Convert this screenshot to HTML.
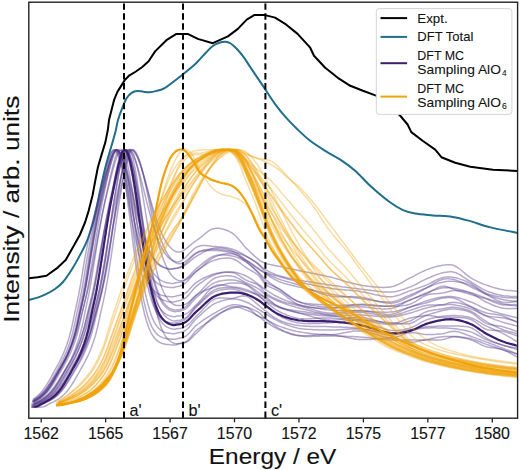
<!DOCTYPE html>
<html><head><meta charset="utf-8"><style>
html,body{margin:0;padding:0;background:#fff;width:520px;height:470px;overflow:hidden}
svg{display:block;font-family:"Liberation Sans",sans-serif;fill:#111}
text{fill:#111;stroke:#111;stroke-width:0.12px}
.lg text{stroke-width:0.08px}
</style></head><body>
<svg width="520" height="470" viewBox="0 0 520 470">
<rect width="520" height="470" fill="#fff"/>
<defs><clipPath id="ax"><rect x="28.8" y="2.2" width="488.8" height="416.0"/></clipPath></defs>
<g clip-path="url(#ax)">
<path d="M28.9,278.2 37.6,277.2 46.4,275.7 57.7,267.6 65.7,260.1 72.8,247.5 79.8,235 85.2,222 88.7,210.6 92.6,195.3 95.4,180 97.9,167.2 101.6,154.6 105.4,142.1 107.9,129.5 109,120 111.6,109.8 114.2,99.6 117.4,91.9 121.8,84.9 125,79.8 129.5,75.3 135.9,71.5 142.3,67 148.6,61.3 155.1,51.4 166.4,40.2 176.4,33.9 187.7,33.9 197.8,38.9 212.8,43.2 227.9,36.4 237.9,28.9 246.7,19.6 254.2,15.1 265,15.1 275.1,17.6 285.1,23.8 297.6,33.9 310.2,47.7 314,55.7 325.2,67.8 337.8,77.8 350.3,85.8 362.9,90.8 376.7,95.9 390,104 401.3,117 407.6,124.5 411.3,132.1 422.6,140.8 435.2,149.6 441.4,157.2 455.2,162.7 470.3,166.7 492.9,169.7 517.5,171" stroke="#000" stroke-width="2" fill="none" stroke-linejoin="round"/>
<path d="M28.90,300.00 C30.35,299.60 34.75,298.57 37.60,297.60 C40.45,296.63 43.10,295.63 46.00,294.20 C48.90,292.77 52.17,291.03 55.00,289.00 C57.83,286.97 60.25,285.17 63.00,282.00 C65.75,278.83 68.80,274.23 71.50,270.00 C74.20,265.77 76.65,261.38 79.20,256.60 C81.75,251.82 84.57,246.73 86.80,241.30 C89.03,235.87 91.00,229.43 92.60,224.00 C94.20,218.57 95.10,214.53 96.40,208.70 C97.70,202.87 98.90,195.92 100.40,189.00 C101.90,182.08 103.73,173.77 105.40,167.20 C107.07,160.63 108.73,155.45 110.40,149.60 C112.07,143.75 114.13,137.03 115.40,132.10 C116.67,127.17 116.82,124.13 118.00,120.00 C119.18,115.87 121.02,111.02 122.50,107.30 C123.98,103.58 125.32,100.15 126.90,97.70 C128.48,95.25 130.30,93.73 132.00,92.60 C133.70,91.47 135.18,91.05 137.10,90.90 C139.02,90.75 141.37,91.48 143.50,91.70 C145.63,91.92 147.77,92.33 149.90,92.20 C152.03,92.07 153.77,91.63 156.30,90.90 C158.83,90.17 160.70,90.53 165.10,87.80 C169.50,85.07 177.72,78.42 182.70,74.50 C187.68,70.58 191.60,67.45 195.00,64.30 C198.40,61.15 200.18,58.62 203.10,55.60 C206.02,52.58 209.82,48.33 212.50,46.20 C215.18,44.07 217.07,43.53 219.20,42.80 C221.33,42.07 223.38,41.68 225.30,41.80 C227.22,41.92 228.80,42.33 230.70,43.50 C232.60,44.67 234.57,46.57 236.70,48.80 C238.83,51.03 241.25,53.87 243.50,56.90 C245.75,59.93 247.95,63.63 250.20,67.00 C252.45,70.37 254.65,73.62 257.00,77.10 C259.35,80.58 261.28,83.40 264.30,87.90 C267.32,92.40 271.43,99.10 275.10,104.10 C278.77,109.10 282.55,113.67 286.30,117.90 C290.05,122.13 293.62,125.68 297.60,129.50 C301.58,133.32 305.60,137.23 310.20,140.80 C314.80,144.37 320.18,147.75 325.20,150.90 C330.22,154.05 335.27,156.35 340.30,159.70 C345.33,163.05 350.38,166.62 355.40,171.00 C360.42,175.38 364.63,180.78 370.40,186.00 C376.17,191.22 384.65,198.33 390.00,202.30 C395.35,206.27 398.32,207.92 402.50,209.80 C406.68,211.68 410.07,212.67 415.10,213.60 C420.13,214.53 426.43,214.85 432.70,215.40 C438.97,215.95 446.43,215.95 452.70,216.90 C458.97,217.85 464.02,219.35 470.30,221.10 C476.58,222.85 482.53,225.43 490.40,227.40 C498.27,229.37 512.98,231.98 517.50,232.90" stroke="#1f6e8c" stroke-width="2" fill="none"/>
<path d="M32.4,407 34.4,406.8 36.4,406.3 38.4,405.3 40.4,404.1 42.4,403.1 44.4,402.2 46.4,401.2 48.4,400.1 50.4,398.9 52.4,397.5 54.4,395.9 56.4,394 58.4,391.9 60.4,389.6 62.4,386.9 64.4,383.9 66.4,380.7 68.4,377.4 70.4,374 72.4,370.5 74.4,367.1 76.4,363.6 78.4,360 80.4,356.1 82.4,351.7 84.4,346.8 86.4,341.5 88.4,335.4 90.4,328.3 92.4,319.8 94.4,311.1 96.4,302.7 98.4,294 100.4,284.1 102.4,272.7 104.4,260.8 106.4,249.1 108.4,237.4 110.4,226.2 112.4,215.6 114.4,205.6 116.4,196.6 118.4,187.9 120.4,179.2 122.4,171 124.4,163.5 126.4,156.7 128.4,151.8 130.4,149.7 132.4,150.2 134.4,152.1 136.4,155.3 138.4,159.6 140.4,164.9 142.4,171 144.4,177.7 146.4,184.8 148.4,192.1 150.4,199.4 152.4,206.5 154.4,213.2 156.4,219.5 158.4,225.3 160.4,230.4 162.4,235 164.4,239 166.4,242.4 168.4,245.3 170.4,247.6 172.4,249.5 174.4,250.9 176.4,251.7 178.4,252 180.4,251.7 182.4,251.1 184.4,249.9 186.4,248.4 188.4,246.8 190.4,245.1 192.4,243.5 194.4,241.9 196.4,240.5 198.4,239.1 200.4,237.6 202.4,236 204.4,234.3 206.4,232.6 208.4,231.1 210.4,229.9 212.4,229 214.4,228.5 216.4,228.2 218.4,228.3 220.4,228.5 222.4,228.9 224.4,229.5 226.4,230.2 228.4,231 230.4,232.1 232.4,233.2 234.4,234.8 236.4,236.7 238.4,238.9 240.4,241.3 242.4,243.8 244.4,246.2 246.4,248.4 248.4,250.3 250.4,252.3 252.4,254.1 254.4,255.9 256.4,257.7 258.4,259.3 260.4,260.8 262.4,262 264.4,262.9 266.4,263.6 268.4,264.2 270.4,264.6 272.4,265 274.4,265.4 276.4,265.8 278.4,266.2 280.4,266.6 282.4,267 284.4,267.4 286.4,267.9 288.4,268.3 290.4,268.7 292.4,269.2 294.4,269.6 296.4,270 298.4,270.5 300.4,270.9 302.4,271.3 304.4,271.7 306.4,272.1 308.4,272.5 310.4,272.9 312.4,273.3 314.4,273.7 316.4,274.1 318.4,274.5 320.4,274.9 322.4,275.3 324.4,275.7 326.4,276.2 328.4,276.6 330.4,277.1 332.4,277.6 334.4,278.1 336.4,278.7 338.4,279.3 340.4,279.9 342.4,280.5 344.4,281.1 346.4,281.7 348.4,282.2 350.4,282.8 352.4,283.3 354.4,283.8 356.4,284.3 358.4,284.7 360.4,285.1 362.4,285.4 364.4,285.7 366.4,286 368.4,286.3 370.4,286.5 372.4,286.7 374.4,286.9 376.4,287.1 378.4,287.3 380.4,287.3 382.4,287.4 384.4,287.4 386.4,287.3 388.4,287.2 390.4,286.9 392.4,286.6 394.4,286 396.4,285.3 398.4,284.4 400.4,283.4 402.4,282.3 404.4,281.1 406.4,279.9 408.4,278.8 410.4,277.8 412.4,276.8 414.4,275.8 416.4,274.7 418.4,273.7 420.4,272.6 422.4,271.6 424.4,270.7 426.4,269.9 428.4,269.1 430.4,268.4 432.4,267.7 434.4,267.1 436.4,266.6 438.4,266.1 440.4,265.7 442.4,265.3 444.4,265.1 446.4,264.8 448.4,264.7 450.4,264.8 452.4,265.1 454.4,265.8 456.4,266.7 458.4,268 460.4,269.5 462.4,271.2 464.4,272.9 466.4,274.6 468.4,276.1 470.4,277.6 472.4,278.8 474.4,279.9 476.4,280.9 478.4,281.9 480.4,282.8 482.4,283.6 484.4,284.4 486.4,285.1 488.4,285.8 490.4,286.5 492.4,287.1 494.4,287.7 496.4,288.2 498.4,288.7 500.4,289.2 502.4,289.6 504.4,289.9 506.4,290.2 508.4,290.4 510.4,290.6 512.4,290.8 514.4,291 516.4,291.2 517.6,291.3" stroke="#4f3585" stroke-opacity="0.42" stroke-width="1.5" fill="none"/>
<path d="M33.8,403.7 35.8,402.8 37.8,401.8 39.8,400.8 41.8,399.7 43.8,398.4 45.8,396.9 47.8,395.3 49.8,393.4 51.8,391.3 53.8,388.8 55.8,386.1 57.8,383.1 59.8,379.9 61.8,376.7 63.8,373.3 65.8,369.9 67.8,366.6 69.8,363.2 71.8,359.6 73.8,355.7 75.8,351.4 77.8,346.6 79.8,341.4 81.8,335.5 83.8,328.6 85.8,320.5 87.8,312.1 89.8,304 91.8,295.7 93.8,286.4 95.8,275.6 97.8,264.1 99.8,253.1 101.8,242.4 103.8,232 105.8,222.3 107.8,213.1 109.8,204.4 111.8,196.4 113.8,188.8 115.8,181.1 117.8,173.8 119.8,166.9 121.8,160.5 123.8,154.9 125.8,151.1 127.8,149.6 129.8,150.6 131.8,153 133.8,156.8 135.8,161.8 137.8,167.9 139.8,174.8 141.8,182.3 143.8,190.2 145.8,198.2 147.8,206.1 149.8,213.8 151.8,221 153.8,227.7 155.8,233.8 157.8,239.3 159.8,244 161.8,248.1 163.8,251.6 165.8,254.5 167.8,256.9 169.8,258.8 171.8,260.2 173.8,261.2 175.8,261.8 177.8,261.9 179.8,261.5 181.8,260.4 183.8,259 185.8,257.2 187.8,255.1 189.8,253 191.8,251 193.8,249.2 195.8,247.7 197.8,246.7 199.8,246 201.8,245.6 203.8,245.4 205.8,245.5 207.8,245.7 209.8,246 211.8,246.3 213.8,246.5 215.8,246.6 217.8,246.8 219.8,246.9 221.8,247.1 223.8,247.4 225.8,247.6 227.8,248 229.8,248.4 231.8,248.9 233.8,249.6 235.8,250.4 237.8,251.3 239.8,252.4 241.8,253.5 243.8,254.7 245.8,255.9 247.8,257.1 249.8,258.3 251.8,259.7 253.8,261 255.8,262.4 257.8,263.8 259.8,265.3 261.8,267 263.8,268.6 265.8,269.9 267.8,270.9 269.8,272 271.8,272.9 273.8,273.8 275.8,274.6 277.8,275.3 279.8,275.9 281.8,276.5 283.8,277 285.8,277.5 287.8,278 289.8,278.4 291.8,278.8 293.8,279.2 295.8,279.5 297.8,279.9 299.8,280.3 301.8,280.6 303.8,281 305.8,281.3 307.8,281.6 309.8,281.9 311.8,282.3 313.8,282.6 315.8,282.9 317.8,283.2 319.8,283.5 321.8,283.8 323.8,284.1 325.8,284.4 327.8,284.7 329.8,285 331.8,285.3 333.8,285.5 335.8,285.8 337.8,286.1 339.8,286.4 341.8,286.7 343.8,286.9 345.8,287.2 347.8,287.5 349.8,287.7 351.8,288 353.8,288.2 355.8,288.5 357.8,288.7 359.8,289 361.8,289.2 363.8,289.5 365.8,289.7 367.8,290 369.8,290.3 371.8,290.6 373.8,290.8 375.8,291.1 377.8,291.3 379.8,291.5 381.8,291.7 383.8,291.9 385.8,292 387.8,292 389.8,292 391.8,291.9 393.8,291.7 395.8,291.4 397.8,291 399.8,290.5 401.8,289.9 403.8,289.3 405.8,288.6 407.8,287.8 409.8,287.1 411.8,286.3 413.8,285.4 415.8,284.4 417.8,283.3 419.8,282.2 421.8,281.1 423.8,280.1 425.8,279.1 427.8,278.2 429.8,277.4 431.8,276.5 433.8,275.7 435.8,274.9 437.8,274.2 439.8,273.6 441.8,273.1 443.8,272.6 445.8,272.2 447.8,271.9 449.8,271.7 451.8,271.8 453.8,272.2 455.8,272.8 457.8,273.7 459.8,274.7 461.8,276 463.8,277.3 465.8,278.6 467.8,280 469.8,281.2 471.8,282.5 473.8,283.7 475.8,284.9 477.8,286.2 479.8,287.4 481.8,288.6 483.8,289.6 485.8,290.6 487.8,291.4 489.8,292.2 491.8,292.8 493.8,293.5 495.8,294 497.8,294.5 499.8,294.9 501.8,295.4 503.8,295.7 505.8,295.9 507.8,296.1 509.8,296.3 511.8,296.4 513.8,296.5 515.8,296.6 517.6,296.7" stroke="#4f3585" stroke-opacity="0.42" stroke-width="1.5" fill="none"/>
<path d="M32.5,401.3 34.5,400.2 36.5,399 38.5,397.6 40.5,396 42.5,394.2 44.5,392.2 46.5,389.8 48.5,387.1 50.5,384.1 52.5,381 54.5,377.6 56.5,374.2 58.5,370.7 60.5,367.3 62.5,363.8 64.5,360.2 66.5,356.2 68.5,351.8 70.5,346.9 72.5,341.5 74.5,335.4 76.5,328.2 78.5,319.6 80.5,310.8 82.5,302.3 84.5,293.5 86.5,283.4 88.5,271.8 90.5,259.8 92.5,247.7 94.5,235.7 96.5,224.2 98.5,213.2 100.5,203 102.5,193.8 104.5,184.6 106.5,175.6 108.5,167.4 110.5,159.8 112.5,153.7 114.5,150.3 116.5,149.8 118.5,151.4 120.5,154.6 122.5,159.2 124.5,165 126.5,171.8 128.5,179.4 130.5,187.5 132.5,195.9 134.5,204.3 136.5,212.6 138.5,220.5 140.5,227.8 142.5,234.6 144.5,240.7 146.5,246 148.5,250.6 150.5,254.6 152.5,257.9 154.5,260.6 156.5,262.8 158.5,264.6 160.5,266 162.5,267 164.5,267.9 166.5,268.5 168.5,268.9 170.5,269.2 172.5,268.9 174.5,268.5 176.5,268.2 178.5,267.7 180.5,267 182.5,265.8 184.5,264.3 186.5,262.5 188.5,260.5 190.5,258.4 192.5,256.4 194.5,254.7 196.5,253.3 198.5,252.3 200.5,251.6 202.5,251 204.5,250.7 206.5,250.5 208.5,250.4 210.5,250.4 212.5,250.5 214.5,250.5 216.5,250.6 218.5,250.7 220.5,250.8 222.5,251.1 224.5,251.4 226.5,251.7 228.5,252.1 230.5,252.6 232.5,253.2 234.5,253.9 236.5,254.7 238.5,255.7 240.5,256.8 242.5,258 244.5,259.1 246.5,260.3 248.5,261.5 250.5,262.8 252.5,264.2 254.5,265.6 256.5,267 258.5,268.4 260.5,269.9 262.5,271.5 264.5,273 266.5,274.3 268.5,275.7 270.5,277 272.5,278.2 274.5,279.4 276.5,280.4 278.5,281.4 280.5,282.2 282.5,282.9 284.5,283.5 286.5,284.1 288.5,284.6 290.5,285 292.5,285.5 294.5,285.9 296.5,286.4 298.5,286.9 300.5,287.3 302.5,287.8 304.5,288.3 306.5,288.8 308.5,289.3 310.5,289.7 312.5,290.2 314.5,290.7 316.5,291.1 318.5,291.6 320.5,292 322.5,292.5 324.5,292.9 326.5,293.3 328.5,293.7 330.5,294.1 332.5,294.5 334.5,294.8 336.5,295.1 338.5,295.5 340.5,295.8 342.5,296.1 344.5,296.4 346.5,296.7 348.5,297 350.5,297.2 352.5,297.5 354.5,297.8 356.5,298 358.5,298.3 360.5,298.6 362.5,298.9 364.5,299.2 366.5,299.5 368.5,299.8 370.5,300.2 372.5,300.5 374.5,300.8 376.5,301.1 378.5,301.4 380.5,301.6 382.5,301.8 384.5,302 386.5,302.1 388.5,302 390.5,301.9 392.5,301.7 394.5,301.3 396.5,300.8 398.5,300.1 400.5,299.3 402.5,298.4 404.5,297.5 406.5,296.5 408.5,295.6 410.5,294.8 412.5,294 414.5,293.1 416.5,292.2 418.5,291.3 420.5,290.4 422.5,289.5 424.5,288.6 426.5,287.8 428.5,287 430.5,286.2 432.5,285.4 434.5,284.6 436.5,283.9 438.5,283.3 440.5,282.7 442.5,282.2 444.5,281.8 446.5,281.5 448.5,281.3 450.5,281.2 452.5,281.3 454.5,281.5 456.5,281.7 458.5,282 460.5,282.3 462.5,282.7 464.5,283.2 466.5,283.8 468.5,284.4 470.5,285.1 472.5,286 474.5,287.1 476.5,288.3 478.5,289.6 480.5,290.9 482.5,292.1 484.5,293.3 486.5,294.2 488.5,295.1 490.5,295.9 492.5,296.6 494.5,297.3 496.5,297.9 498.5,298.5 500.5,299 502.5,299.5 504.5,299.9 506.5,300.2 508.5,300.5 510.5,300.7 512.5,300.9 514.5,301.1 516.5,301.3 517.6,301.4" stroke="#4f3585" stroke-opacity="0.42" stroke-width="1.5" fill="none"/>
<path d="M31.6,407.2 33.6,407.1 35.6,406.9 37.6,406.6 39.6,405.9 41.6,404.7 43.6,403.7 45.6,402.7 47.6,401.7 49.6,400.7 51.6,399.6 53.6,398.3 55.6,396.8 57.6,395.1 59.6,393.2 61.6,391 63.6,388.6 65.6,385.8 67.6,382.7 69.6,379.5 71.6,376.2 73.6,372.8 75.6,369.4 77.6,366 79.6,362.5 81.6,358.9 83.6,354.9 85.6,350.4 87.6,345.5 89.6,340 91.6,333.9 93.6,326.5 95.6,318 97.6,309.6 99.6,301.3 101.6,292.6 103.6,282.7 105.6,271.3 107.6,259.5 109.6,247.6 111.6,235.5 113.6,224 115.6,213.1 117.6,202.9 119.6,193.6 121.6,184.5 123.6,175.5 125.6,167.2 127.6,159.7 129.6,153.6 131.6,150.3 133.6,149.9 135.6,151.8 137.6,155.6 139.6,161.1 141.6,168 143.6,176 145.6,185 147.6,194.4 149.6,204.2 151.6,213.9 153.6,223.2 155.6,232.1 157.6,240.3 159.6,247.8 161.6,254.4 163.6,260.1 165.6,265 167.6,269.1 169.6,272.5 171.6,275.3 173.6,277.4 175.6,279 177.6,280.1 179.6,280.7 181.6,280.8 183.6,280.3 185.6,279.1 187.6,277.6 189.6,275.5 191.6,273.3 193.6,271.2 195.6,269.2 197.6,267.6 199.6,266 201.6,264.3 203.6,262.7 205.6,261.1 207.6,259.5 209.6,258.2 211.6,257.1 213.6,256.2 215.6,255.6 217.6,255.1 219.6,254.9 221.6,254.9 223.6,254.9 225.6,255 227.6,255.3 229.6,255.6 231.6,255.9 233.6,256.3 235.6,256.9 237.6,257.6 239.6,258.5 241.6,259.4 243.6,260.5 245.6,261.7 247.6,263 249.6,264.5 251.6,266.2 253.6,267.9 255.6,269.8 257.6,271.6 259.6,273.5 261.6,275.6 263.6,277.8 265.6,279.6 267.6,281.2 269.6,282.8 271.6,284.2 273.6,285.7 275.6,287.1 277.6,288.4 279.6,289.7 281.6,291.1 283.6,292.5 285.6,294 287.6,295.4 289.6,296.8 291.6,298.1 293.6,299.2 295.6,300.3 297.6,301.1 299.6,301.8 301.6,302.4 303.6,302.9 305.6,303.3 307.6,303.6 309.6,303.8 311.6,304 313.6,304.2 315.6,304.3 317.6,304.4 319.6,304.5 321.6,304.6 323.6,304.7 325.6,304.8 327.6,304.9 329.6,305 331.6,305.1 333.6,305.1 335.6,305.2 337.6,305.2 339.6,305.2 341.6,305.2 343.6,305.1 345.6,305.1 347.6,305.1 349.6,305 351.6,305 353.6,305 355.6,305 357.6,305 359.6,305 361.6,305 363.6,305.1 365.6,305.2 367.6,305.3 369.6,305.5 371.6,305.6 373.6,305.7 375.6,305.9 377.6,306 379.6,306.1 381.6,306.2 383.6,306.2 385.6,306.2 387.6,306.2 389.6,306 391.6,305.8 393.6,305.5 395.6,305.1 397.6,304.5 399.6,303.9 401.6,303.3 403.6,302.5 405.6,301.7 407.6,300.9 409.6,300.2 411.6,299.4 413.6,298.6 415.6,297.7 417.6,296.8 419.6,295.8 421.6,294.9 423.6,294 425.6,293.2 427.6,292.4 429.6,291.7 431.6,290.9 433.6,290.2 435.6,289.6 437.6,289 439.6,288.5 441.6,288.1 443.6,287.8 445.6,287.7 447.6,287.6 449.6,287.8 451.6,288 453.6,288.3 455.6,288.6 457.6,289 459.6,289.4 461.6,289.9 463.6,290.5 465.6,291.1 467.6,291.6 469.6,292.3 471.6,292.9 473.6,293.5 475.6,294.2 477.6,295 479.6,295.7 481.6,296.5 483.6,297.2 485.6,297.9 487.6,298.6 489.6,299.4 491.6,300.1 493.6,300.8 495.6,301.5 497.6,302.2 499.6,302.8 501.6,303.4 503.6,303.9 505.6,304.3 507.6,304.6 509.6,305 511.6,305.3 513.6,305.5 515.6,305.8 517.6,306.1" stroke="#4f3585" stroke-opacity="0.42" stroke-width="1.5" fill="none"/>
<path d="M32.9,401.6 34.9,400.5 36.9,399.3 38.9,398 40.9,396.4 42.9,394.6 44.9,392.5 46.9,390.1 48.9,387.3 50.9,384.2 52.9,380.9 54.9,377.4 56.9,373.8 58.9,370.2 60.9,366.6 62.9,362.9 64.9,359 66.9,354.7 68.9,349.8 70.9,344.4 72.9,338.3 74.9,331.1 76.9,322.1 78.9,312.4 80.9,303.2 82.9,293.7 84.9,282.9 86.9,270.3 88.9,257.7 90.9,245.5 92.9,233.5 94.9,222.1 96.9,211.3 98.9,201.3 100.9,192.1 102.9,183 104.9,174.1 106.9,165.9 108.9,158.6 110.9,152.9 112.9,150 114.9,150.1 116.9,152.8 118.9,157.6 120.9,164.2 122.9,172.4 124.9,181.9 126.9,192.3 128.9,203.2 130.9,214.3 132.9,225.1 134.9,235.5 136.9,245.1 138.9,254 140.9,261.8 142.9,268.7 144.9,274.5 146.9,279.5 148.9,283.5 150.9,286.8 152.9,289.4 154.9,291.4 156.9,293 158.9,294.1 160.9,295 162.9,295.6 164.9,296 166.9,296.4 168.9,296.6 170.9,296.7 172.9,296.8 174.9,296.5 176.9,295.8 178.9,295.4 180.9,295 182.9,294.4 184.9,293.3 186.9,291.9 188.9,290 190.9,287.8 192.9,285.6 194.9,283.6 196.9,282.1 198.9,280.8 200.9,279.6 202.9,278.5 204.9,277.5 206.9,276.6 208.9,275.7 210.9,275 212.9,274.3 214.9,273.8 216.9,273.3 218.9,272.9 220.9,272.5 222.9,272.3 224.9,272.1 226.9,272 228.9,271.9 230.9,272 232.9,272.1 234.9,272.3 236.9,272.7 238.9,273.2 240.9,273.9 242.9,274.6 244.9,275.5 246.9,276.4 248.9,277.6 250.9,278.8 252.9,280.2 254.9,281.7 256.9,283.2 258.9,284.6 260.9,286.2 262.9,287.8 264.9,289.3 266.9,290.6 268.9,291.9 270.9,293.1 272.9,294.3 274.9,295.5 276.9,296.5 278.9,297.5 280.9,298.4 282.9,299.3 284.9,300.1 286.9,300.9 288.9,301.6 290.9,302.4 292.9,303 294.9,303.6 296.9,304.2 298.9,304.7 300.9,305.2 302.9,305.7 304.9,306.1 306.9,306.5 308.9,306.9 310.9,307.3 312.9,307.6 314.9,308 316.9,308.3 318.9,308.6 320.9,308.9 322.9,309.2 324.9,309.4 326.9,309.7 328.9,309.9 330.9,310.1 332.9,310.3 334.9,310.4 336.9,310.5 338.9,310.6 340.9,310.7 342.9,310.7 344.9,310.7 346.9,310.8 348.9,310.8 350.9,310.8 352.9,310.8 354.9,310.9 356.9,310.9 358.9,311 360.9,311 362.9,311.1 364.9,311.2 366.9,311.3 368.9,311.5 370.9,311.6 372.9,311.7 374.9,311.8 376.9,311.9 378.9,312 380.9,312.1 382.9,312.2 384.9,312.2 386.9,312.2 388.9,312.1 390.9,311.9 392.9,311.7 394.9,311.4 396.9,311 398.9,310.5 400.9,309.9 402.9,309.3 404.9,308.7 406.9,308 408.9,307.4 410.9,306.7 412.9,306 414.9,305.3 416.9,304.5 418.9,303.7 420.9,302.9 422.9,302.1 424.9,301.4 426.9,300.7 428.9,300.1 430.9,299.5 432.9,299 434.9,298.4 436.9,298 438.9,297.5 440.9,297.2 442.9,296.9 444.9,296.7 446.9,296.5 448.9,296.4 450.9,296.5 452.9,296.7 454.9,297 456.9,297.4 458.9,297.9 460.9,298.4 462.9,299.1 464.9,299.7 466.9,300.5 468.9,301.2 470.9,302 472.9,302.8 474.9,303.7 476.9,304.7 478.9,305.7 480.9,306.7 482.9,307.7 484.9,308.5 486.9,309.3 488.9,310.1 490.9,310.7 492.9,311.4 494.9,312 496.9,312.5 498.9,313.1 500.9,313.7 502.9,314.2 504.9,314.8 506.9,315.3 508.9,315.8 510.9,316.3 512.9,316.8 514.9,317.3 516.9,317.8 517.6,318" stroke="#4f3585" stroke-opacity="0.42" stroke-width="1.5" fill="none"/>
<path d="M31.3,404.2 33.3,403.3 35.3,402.4 37.3,401.4 39.3,400.4 41.3,399.2 43.3,397.9 45.3,396.4 47.3,394.7 49.3,392.8 51.3,390.6 53.3,388.2 55.3,385.4 57.3,382.5 59.3,379.4 61.3,376.2 63.3,373 65.3,369.7 67.3,366.5 69.3,363.2 71.3,359.8 73.3,356 75.3,351.9 77.3,347.4 79.3,342.5 81.3,337.1 83.3,330.9 85.3,323.6 87.3,315.7 89.3,307.9 91.3,300.2 93.3,292 95.3,282.7 97.3,272.1 99.3,260.9 101.3,249.5 103.3,237.8 105.3,226.6 107.3,216 109.3,206 111.3,196.9 113.3,188.2 115.3,179.5 117.3,171.3 119.3,163.8 121.3,156.9 123.3,152 125.3,149.8 127.3,150.7 129.3,154.4 131.3,160.5 133.3,168.9 135.3,179 137.3,190.4 139.3,202.8 141.3,215.5 143.3,228.1 145.3,240.4 147.3,251.8 149.3,262.4 151.3,271.8 153.3,280 155.3,287 157.3,292.8 159.3,297.6 161.3,301.5 163.3,304.5 165.3,306.8 167.3,308.6 169.3,309.9 171.3,310.9 173.3,311.5 175.3,311.7 177.3,311.3 179.3,311.2 181.3,310.8 183.3,310.1 185.3,309 187.3,307.5 189.3,305.5 191.3,303.1 193.3,300.8 195.3,298.6 197.3,296.8 199.3,295 201.3,293.2 203.3,291.3 205.3,289.4 207.3,287.7 209.3,286 211.3,284.6 213.3,283.4 215.3,282.4 217.3,281.7 219.3,281.1 221.3,280.7 223.3,280.4 225.3,280.2 227.3,280 229.3,280 231.3,280 233.3,280.1 235.3,280.3 237.3,280.7 239.3,281.3 241.3,282 243.3,282.8 245.3,283.7 247.3,284.6 249.3,285.8 251.3,287.1 253.3,288.5 255.3,289.9 257.3,291.5 259.3,293 261.3,294.9 263.3,296.9 265.3,298.5 267.3,299.9 269.3,301.2 271.3,302.5 273.3,303.7 275.3,304.8 277.3,305.8 279.3,306.7 281.3,307.5 283.3,308.3 285.3,309.1 287.3,309.8 289.3,310.4 291.3,311 293.3,311.5 295.3,312 297.3,312.5 299.3,312.9 301.3,313.2 303.3,313.5 305.3,313.8 307.3,314.1 309.3,314.4 311.3,314.6 313.3,314.8 315.3,315 317.3,315.2 319.3,315.4 321.3,315.5 323.3,315.7 325.3,315.8 327.3,315.9 329.3,316 331.3,316 333.3,316 335.3,316 337.3,316 339.3,315.9 341.3,315.8 343.3,315.7 345.3,315.5 347.3,315.4 349.3,315.3 351.3,315.2 353.3,315.1 355.3,315 357.3,315 359.3,315 361.3,315 363.3,315.1 365.3,315.2 367.3,315.4 369.3,315.6 371.3,315.8 373.3,316 375.3,316.2 377.3,316.3 379.3,316.5 381.3,316.7 383.3,316.8 385.3,317 387.3,317 389.3,317 391.3,316.9 393.3,316.8 395.3,316.5 397.3,316.2 399.3,315.8 401.3,315.3 403.3,314.8 405.3,314.3 407.3,313.7 409.3,313.2 411.3,312.7 413.3,312.1 415.3,311.4 417.3,310.8 419.3,310.1 421.3,309.4 423.3,308.8 425.3,308.2 427.3,307.7 429.3,307.2 431.3,306.8 433.3,306.4 435.3,306 437.3,305.6 439.3,305.3 441.3,305.1 443.3,304.9 445.3,304.7 447.3,304.6 449.3,304.6 451.3,304.6 453.3,304.8 455.3,305 457.3,305.4 459.3,305.7 461.3,306.2 463.3,306.7 465.3,307.2 467.3,307.8 469.3,308.4 471.3,309.1 473.3,309.9 475.3,310.8 477.3,311.8 479.3,312.8 481.3,313.8 483.3,314.8 485.3,315.7 487.3,316.5 489.3,317.4 491.3,318.1 493.3,318.9 495.3,319.7 497.3,320.4 499.3,321.1 501.3,321.8 503.3,322.4 505.3,323 507.3,323.5 509.3,324 511.3,324.5 513.3,325 515.3,325.5 517.3,325.9 517.6,326" stroke="#4f3585" stroke-opacity="0.42" stroke-width="1.5" fill="none"/>
<path d="M31.3,405.8 33.3,404.5 35.3,403.5 37.3,402.5 39.3,401.5 41.3,400.4 43.3,399.2 45.3,397.8 47.3,396.3 49.3,394.4 51.3,392.3 53.3,389.9 55.3,387.1 57.3,383.9 59.3,380.6 61.3,377.1 63.3,373.4 65.3,369.8 67.3,366.1 69.3,362.5 71.3,358.5 73.3,354.1 75.3,349.2 77.3,343.6 79.3,337.4 81.3,329.8 83.3,320.6 85.3,310.9 87.3,301.7 89.3,291.9 91.3,280.7 93.3,267.9 95.3,255.4 97.3,243.2 99.3,231.3 101.3,220 103.3,209.3 105.3,199.5 107.3,190.4 109.3,181.2 111.3,172.4 113.3,164.5 115.3,157.3 117.3,152.1 119.3,149.8 121.3,150.9 123.3,155.5 125.3,163 127.3,173.2 129.3,185.5 131.3,199.3 133.3,214.1 135.3,229.1 137.3,243.9 139.3,258 141.3,271.1 143.3,282.8 145.3,293.1 147.3,301.9 149.3,309.3 151.3,315.3 153.3,320.1 155.3,323.9 157.3,326.7 159.3,328.9 161.3,330.5 163.3,331.6 165.3,332.4 167.3,333 169.3,333.3 171.3,333.6 173.3,333.7 175.3,333.6 177.3,333 179.3,332.5 181.3,332.2 183.3,331.5 185.3,330.5 187.3,329 189.3,327 191.3,324.6 193.3,322 195.3,319.7 197.3,317.8 199.3,316 201.3,314.2 203.3,312.3 205.3,310.5 207.3,308.8 209.3,307.2 211.3,305.7 213.3,304.4 215.3,303.4 217.3,302.4 219.3,301.7 221.3,301 223.3,300.4 225.3,299.9 227.3,299.6 229.3,299.3 231.3,299.1 233.3,299 235.3,299 237.3,299.3 239.3,299.7 241.3,300.3 243.3,301 245.3,301.7 247.3,302.5 249.3,303.5 251.3,304.7 253.3,306 255.3,307.3 257.3,308.5 259.3,309.8 261.3,311 263.3,312.3 265.3,313.6 267.3,314.8 269.3,316 271.3,317.3 273.3,318.5 275.3,319.7 277.3,320.7 279.3,321.7 281.3,322.5 283.3,323.4 285.3,324.2 287.3,325 289.3,325.7 291.3,326.4 293.3,327 295.3,327.5 297.3,328 299.3,328.4 301.3,328.7 303.3,328.9 305.3,329.2 307.3,329.3 309.3,329.5 311.3,329.6 313.3,329.7 315.3,329.7 317.3,329.8 319.3,329.9 321.3,329.9 323.3,329.9 325.3,330 327.3,330 329.3,330 331.3,330 333.3,330 335.3,329.9 337.3,329.8 339.3,329.7 341.3,329.6 343.3,329.5 345.3,329.3 347.3,329.2 349.3,329.1 351.3,329 353.3,328.9 355.3,328.9 357.3,328.9 359.3,329 361.3,329.1 363.3,329.3 365.3,329.5 367.3,329.8 369.3,330 371.3,330.4 373.3,330.7 375.3,331.1 377.3,331.4 379.3,331.8 381.3,332.1 383.3,332.4 385.3,332.6 387.3,332.8 389.3,333 391.3,333 393.3,332.9 395.3,332.8 397.3,332.5 399.3,332.2 401.3,331.8 403.3,331.3 405.3,330.9 407.3,330.5 409.3,330.1 411.3,329.8 413.3,329.5 415.3,329.2 417.3,328.9 419.3,328.7 421.3,328.4 423.3,328.2 425.3,328.1 427.3,327.9 429.3,327.9 431.3,327.8 433.3,327.8 435.3,327.8 437.3,327.9 439.3,327.9 441.3,328 443.3,328 445.3,328.1 447.3,328.1 449.3,328.2 451.3,328.4 453.3,328.6 455.3,328.8 457.3,329.1 459.3,329.4 461.3,329.7 463.3,330.1 465.3,330.4 467.3,330.9 469.3,331.4 471.3,332.1 473.3,332.9 475.3,333.9 477.3,335 479.3,336.1 481.3,337.2 483.3,338.3 485.3,339.3 487.3,340.1 489.3,340.9 491.3,341.6 493.3,342.3 495.3,342.9 497.3,343.5 499.3,344.1 501.3,344.8 503.3,345.4 505.3,346 507.3,346.6 509.3,347.2 511.3,347.8 513.3,348.4 515.3,349 517.3,349.5 517.6,349.6" stroke="#4f3585" stroke-opacity="0.42" stroke-width="1.5" fill="none"/>
<path d="M33.1,406.2 35.1,405 37.1,403.9 39.1,403 41.1,402.1 43.1,401.2 45.1,400.1 47.1,398.9 49.1,397.6 51.1,396.1 53.1,394.5 55.1,392.6 57.1,390.5 59.1,388.1 61.1,385.5 63.1,382.8 65.1,379.8 67.1,376.8 69.1,373.8 71.1,370.7 73.1,367.6 75.1,364.5 77.1,361.3 79.1,357.9 81.1,354.2 83.1,350.2 85.1,345.9 87.1,341.2 89.1,336 91.1,330.2 93.1,323.5 95.1,316.3 97.1,309.2 99.1,302.2 101.1,294.8 103.1,286.6 105.1,277.3 107.1,267.1 109.1,255.5 111.1,241.5 113.1,227 115.1,212.8 117.1,199.7 119.1,187.9 121.1,175.8 123.1,165.1 125.1,156 127.1,150.9 129.1,149.7 131.1,152.5 133.1,158.7 135.1,167.9 137.1,179.6 139.1,193.4 141.1,208.5 143.1,224.3 145.1,240.2 147.1,255.7 149.1,270.2 151.1,283.5 153.1,295.3 155.1,305.6 157.1,314.3 159.1,321.6 161.1,327.4 163.1,332 165.1,335.6 167.1,338.3 169.1,340.3 171.1,341.8 173.1,342.8 175.1,343.5 177.1,343.8 179.1,343.4 181.1,343.2 183.1,342.9 185.1,342.2 187.1,340.9 189.1,339.1 191.1,336.8 193.1,334.2 195.1,331.8 197.1,329.9 199.1,328.4 201.1,326.9 203.1,325.4 205.1,324 207.1,322.6 209.1,321.3 211.1,319.9 213.1,318.6 215.1,317.3 217.1,315.9 219.1,314.5 221.1,313 223.1,311.6 225.1,310.3 227.1,309.1 229.1,308.1 231.1,307.3 233.1,306.8 235.1,306.7 237.1,306.9 239.1,307.4 241.1,308 243.1,308.9 245.1,309.7 247.1,310.4 249.1,311.2 251.1,312.2 253.1,313.2 255.1,314.3 257.1,315.5 259.1,316.7 261.1,318.2 263.1,319.9 265.1,321.4 267.1,322.7 269.1,324 271.1,325.3 273.1,326.5 275.1,327.6 277.1,328.7 279.1,329.6 281.1,330.4 283.1,331.3 285.1,332.1 287.1,332.8 289.1,333.5 291.1,334.2 293.1,334.7 295.1,335.2 297.1,335.6 299.1,335.9 301.1,336.1 303.1,336.3 305.1,336.4 307.1,336.4 309.1,336.4 311.1,336.4 313.1,336.3 315.1,336.3 317.1,336.2 319.1,336.2 321.1,336.1 323.1,336.1 325.1,336 327.1,336 329.1,336 331.1,336 333.1,336.1 335.1,336.1 337.1,336.1 339.1,336.2 341.1,336.2 343.1,336.3 345.1,336.3 347.1,336.4 349.1,336.4 351.1,336.5 353.1,336.6 355.1,336.7 357.1,336.8 359.1,336.9 361.1,337.1 363.1,337.2 365.1,337.4 367.1,337.6 369.1,337.8 371.1,338 373.1,338.3 375.1,338.5 377.1,338.7 379.1,339 381.1,339.2 383.1,339.4 385.1,339.6 387.1,339.8 389.1,339.9 391.1,340.1 393.1,340.1 395.1,340.2 397.1,340.2 399.1,340.2 401.1,340.2 403.1,340.1 405.1,340.1 407.1,340 409.1,340 411.1,340 413.1,340 415.1,340 417.1,340 419.1,340 421.1,340 423.1,340 425.1,340 427.1,340 429.1,340 431.1,340 433.1,340 435.1,340 437.1,339.9 439.1,339.9 441.1,339.7 443.1,339.4 445.1,339 447.1,338.4 449.1,337.7 451.1,337.1 453.1,336.7 455.1,336.5 457.1,336.5 459.1,336.7 461.1,336.9 463.1,337.2 465.1,337.5 467.1,337.9 469.1,338.3 471.1,338.8 473.1,339.4 475.1,340 477.1,340.8 479.1,341.5 481.1,342.3 483.1,343.1 485.1,343.9 487.1,344.6 489.1,345.3 491.1,346 493.1,346.6 495.1,347.3 497.1,348 499.1,348.7 501.1,349.3 503.1,349.9 505.1,350.6 507.1,351.2 509.1,351.7 511.1,352.3 513.1,352.9 515.1,353.5 517.1,354.1 517.6,354.2" stroke="#4f3585" stroke-opacity="0.42" stroke-width="1.5" fill="none"/>
<path d="M33.5,407.4 35.5,407.3 37.5,407.3 39.5,407.2 41.5,407 43.5,406.7 45.5,406 47.5,404.8 49.5,403.7 51.5,402.8 53.5,401.8 55.5,400.7 57.5,399.6 59.5,398.3 61.5,396.8 63.5,395 65.5,393 67.5,390.7 69.5,388.1 71.5,385.2 73.5,382 75.5,378.6 77.5,375.1 79.5,371.5 81.5,367.9 83.5,364.4 85.5,360.7 87.5,356.7 89.5,352.2 91.5,347.2 93.5,341.6 95.5,335.2 97.5,327.5 99.5,318.4 101.5,309.2 103.5,300.3 105.5,290.9 107.5,279.9 109.5,267.5 111.5,254.5 113.5,240.4 115.5,226.4 117.5,212.8 119.5,200.3 121.5,188.9 123.5,177.4 125.5,166.9 127.5,157.8 129.5,151.7 131.5,149.6 133.5,150.4 135.5,152.8 137.5,156.6 139.5,161.6 141.5,167.8 143.5,174.9 145.5,182.5 147.5,190.6 149.5,198.8 151.5,207 153.5,214.9 155.5,222.3 157.5,229.2 159.5,235.5 161.5,241.1 163.5,246 165.5,250.3 167.5,253.8 169.5,256.8 171.5,259.2 173.5,261.1 175.5,262.6 177.5,263.5 179.5,263.8 181.5,263.6 183.5,262.7 185.5,261.5 187.5,259.8 189.5,258 191.5,256.2 193.5,254.5 195.5,253.2 197.5,252.1 199.5,251.3 201.5,250.6 203.5,250.1 205.5,249.7 207.5,249.5 209.5,249.4 211.5,249.3 213.5,249.3 215.5,249.3 217.5,249.3 219.5,249.5 221.5,249.7 223.5,250 225.5,250.3 227.5,250.7 229.5,251.1 231.5,251.5 233.5,251.9 235.5,252.4 237.5,253 239.5,253.7 241.5,254.4 243.5,255.2 245.5,256.1 247.5,257 249.5,258.1 251.5,259.2 253.5,260.4 255.5,261.7 257.5,263.2 259.5,265 261.5,267.5 263.5,270.1 265.5,271.8 267.5,272.9 269.5,273.8 271.5,274.4 273.5,275 275.5,275.6 277.5,276.1 279.5,276.7 281.5,277.2 283.5,277.8 285.5,278.4 287.5,279 289.5,279.6 291.5,280.1 293.5,280.6 295.5,281.1 297.5,281.6 299.5,282.1 301.5,282.5 303.5,283 305.5,283.4 307.5,283.9 309.5,284.3 311.5,284.7 313.5,285.2 315.5,285.6 317.5,286 319.5,286.4 321.5,286.7 323.5,287.1 325.5,287.5 327.5,287.8 329.5,288.1 331.5,288.4 333.5,288.7 335.5,288.9 337.5,289.2 339.5,289.4 341.5,289.5 343.5,289.7 345.5,289.9 347.5,290.1 349.5,290.2 351.5,290.4 353.5,290.6 355.5,290.8 357.5,291.1 359.5,291.3 361.5,291.7 363.5,292 365.5,292.4 367.5,292.8 369.5,293.3 371.5,293.7 373.5,294.2 375.5,294.7 377.5,295.1 379.5,295.5 381.5,295.9 383.5,296.3 385.5,296.5 387.5,296.7 389.5,296.8 391.5,296.7 393.5,296.5 395.5,296.1 397.5,295.6 399.5,294.9 401.5,294.2 403.5,293.3 405.5,292.5 407.5,291.6 409.5,290.9 411.5,290.2 413.5,289.6 415.5,288.9 417.5,288.3 419.5,287.6 421.5,286.9 423.5,286.2 425.5,285.4 427.5,284.6 429.5,283.6 431.5,282.6 433.5,281.5 435.5,280.4 437.5,279.5 439.5,278.6 441.5,277.9 443.5,277.4 445.5,277.1 447.5,276.9 449.5,276.9 451.5,277.1 453.5,277.4 455.5,277.8 457.5,278.3 459.5,278.9 461.5,279.6 463.5,280.3 465.5,281.1 467.5,282 469.5,282.9 471.5,283.9 473.5,285.1 475.5,286.4 477.5,287.8 479.5,289.3 481.5,290.6 483.5,291.9 485.5,292.9 487.5,293.8 489.5,294.5 491.5,295.1 493.5,295.6 495.5,296.1 497.5,296.4 499.5,296.8 501.5,297.1 503.5,297.4 505.5,297.6 507.5,297.7 509.5,297.8 511.5,297.8 513.5,297.9 515.5,297.9 517.5,297.9" stroke="#4f3585" stroke-opacity="0.42" stroke-width="1.5" fill="none"/>
<path d="M33.9,401.5 35.9,400.4 37.9,399.2 39.9,397.9 41.9,396.3 43.9,394.4 45.9,392.4 47.9,390 49.9,387.2 51.9,384.1 53.9,380.8 55.9,377.4 57.9,373.8 59.9,370.2 61.9,366.6 63.9,363 65.9,359.1 67.9,354.9 69.9,350.1 71.9,344.7 73.9,338.7 75.9,331.7 77.9,323 79.9,313.4 81.9,304.4 83.9,295.1 85.9,284.6 87.9,272.4 89.9,259.8 91.9,247.4 93.9,235 95.9,223.2 97.9,212 99.9,201.6 101.9,192.1 103.9,182.6 105.9,173.4 107.9,165.1 109.9,157.6 111.9,152.2 113.9,149.8 115.9,150.4 117.9,153.1 119.9,157.7 121.9,163.9 123.9,171.6 125.9,180.3 127.9,189.9 129.9,199.9 131.9,210 133.9,220 135.9,229.5 137.9,238.5 139.9,246.6 141.9,253.9 143.9,260.4 145.9,265.9 147.9,270.6 149.9,274.5 151.9,277.6 153.9,280.2 155.9,282.1 157.9,283.7 159.9,284.9 161.9,285.7 163.9,286.4 165.9,286.9 167.9,287.2 169.9,287.4 171.9,287.6 173.9,287.4 175.9,286.7 177.9,286.4 179.9,286 181.9,285.2 183.9,284.2 185.9,282.7 187.9,280.8 189.9,278.5 191.9,276.1 193.9,273.8 195.9,271.8 197.9,270.2 199.9,268.7 201.9,267.2 203.9,265.8 205.9,264.5 207.9,263.2 209.9,262.1 211.9,261.2 213.9,260.4 215.9,259.7 217.9,259.2 219.9,258.8 221.9,258.5 223.9,258.2 225.9,258.1 227.9,258.1 229.9,258.3 231.9,258.6 233.9,259.3 235.9,260.2 237.9,261.4 239.9,262.9 241.9,264.5 243.9,266 245.9,267.5 247.9,268.7 249.9,269.8 251.9,271 253.9,272.2 255.9,273.5 257.9,275 259.9,277.1 261.9,280 263.9,282.7 265.9,284.6 267.9,286 269.9,287 271.9,287.9 273.9,288.8 275.9,289.7 277.9,290.7 279.9,291.8 281.9,293.1 283.9,294.6 285.9,296.2 287.9,297.9 289.9,299.4 291.9,300.9 293.9,302.2 295.9,303.4 297.9,304.4 299.9,305.1 301.9,305.7 303.9,306.2 305.9,306.7 307.9,307 309.9,307.3 311.9,307.5 313.9,307.7 315.9,307.9 317.9,308 319.9,308.1 321.9,308.2 323.9,308.2 325.9,308.3 327.9,308.3 329.9,308.2 331.9,308.1 333.9,308 335.9,307.8 337.9,307.5 339.9,307.2 341.9,306.9 343.9,306.5 345.9,306.2 347.9,305.8 349.9,305.5 351.9,305.1 353.9,304.8 355.9,304.6 357.9,304.4 359.9,304.3 361.9,304.3 363.9,304.3 365.9,304.4 367.9,304.5 369.9,304.7 371.9,304.8 373.9,305 375.9,305.2 377.9,305.5 379.9,305.7 381.9,305.9 383.9,306 385.9,306.2 387.9,306.3 389.9,306.3 391.9,306.3 393.9,306.3 395.9,306.2 397.9,306.2 399.9,306 401.9,305.8 403.9,305.5 405.9,305.2 407.9,304.7 409.9,304.2 411.9,303.4 413.9,302.4 415.9,301.3 417.9,299.9 419.9,298.6 421.9,297.3 423.9,296.2 425.9,295.3 427.9,294.7 429.9,294.3 431.9,294 433.9,293.8 435.9,293.7 437.9,293.5 439.9,293.4 441.9,293.1 443.9,292.7 445.9,292.2 447.9,291.7 449.9,291.2 451.9,290.8 453.9,290.6 455.9,290.6 457.9,290.7 459.9,290.8 461.9,291.1 463.9,291.4 465.9,291.8 467.9,292.4 469.9,293 471.9,293.7 473.9,294.7 475.9,295.8 477.9,297.1 479.9,298.4 481.9,299.7 483.9,300.9 485.9,302 487.9,302.9 489.9,303.8 491.9,304.7 493.9,305.5 495.9,306.3 497.9,306.9 499.9,307.5 501.9,308 503.9,308.3 505.9,308.5 507.9,308.6 509.9,308.7 511.9,308.6 513.9,308.6 515.9,308.5 517.6,308.5" stroke="#4f3585" stroke-opacity="0.42" stroke-width="1.5" fill="none"/>
<path d="M33.6,402.1 35.6,401.1 37.6,400 39.6,398.8 41.6,397.4 43.6,395.7 45.6,393.9 47.6,391.7 49.6,389.3 51.6,386.5 53.6,383.5 55.6,380.2 57.6,376.8 59.6,373.3 61.6,369.8 63.6,366.3 65.6,362.7 67.6,359 69.6,354.9 71.6,350.2 73.6,345.1 75.6,339.4 77.6,332.8 79.6,324.7 81.6,315.7 83.6,306.9 85.6,298.2 87.6,288.7 89.6,277.6 91.6,265.4 93.6,253.1 95.6,240.6 97.6,228.4 99.6,216.8 101.6,205.8 103.6,195.9 105.6,186.4 107.6,176.9 109.6,168.1 111.6,160.2 113.6,153.7 115.6,150.3 117.6,149.9 119.6,152.4 121.6,157.1 123.6,163.8 125.6,172.3 127.6,182.2 129.6,193 131.6,204.4 133.6,216 135.6,227.4 137.6,238.3 139.6,248.5 141.6,257.7 143.6,265.9 145.6,273.1 147.6,279.2 149.6,284.4 151.6,288.6 153.6,291.9 155.6,294.6 157.6,296.7 159.6,298.3 161.6,299.4 163.6,300.3 165.6,300.9 167.6,301.4 169.6,301.7 171.6,301.9 173.6,301.9 175.6,301.5 177.6,300.9 179.6,300.6 181.6,300 183.6,299.2 185.6,297.9 187.6,296.1 189.6,293.9 191.6,291.4 193.6,289 195.6,286.9 197.6,285.3 199.6,283.7 201.6,282.3 203.6,280.8 205.6,279.4 207.6,278.2 209.6,277 211.6,276 213.6,275.2 215.6,274.4 217.6,273.8 219.6,273.3 221.6,272.8 223.6,272.5 225.6,272.3 227.6,272.2 229.6,272.2 231.6,272.4 233.6,272.8 235.6,273.6 237.6,274.7 239.6,275.9 241.6,277.3 243.6,278.7 245.6,279.9 247.6,280.8 249.6,281.6 251.6,282.3 253.6,283 255.6,283.7 257.6,284.8 259.6,286.3 261.6,288.6 263.6,291.1 265.6,292.9 267.6,294.3 269.6,295.6 271.6,296.8 273.6,297.9 275.6,298.8 277.6,299.7 279.6,300.5 281.6,301.3 283.6,301.9 285.6,302.5 287.6,303.1 289.6,303.6 291.6,304.1 293.6,304.5 295.6,305 297.6,305.5 299.6,306 301.6,306.5 303.6,307 305.6,307.6 307.6,308.2 309.6,308.8 311.6,309.3 313.6,309.9 315.6,310.4 317.6,311 319.6,311.4 321.6,311.9 323.6,312.3 325.6,312.6 327.6,312.9 329.6,313.1 331.6,313.2 333.6,313.2 335.6,313.1 337.6,313 339.6,312.8 341.6,312.5 343.6,312.2 345.6,311.9 347.6,311.6 349.6,311.3 351.6,311 353.6,310.8 355.6,310.6 357.6,310.5 359.6,310.5 361.6,310.6 363.6,310.7 365.6,310.9 367.6,311.2 369.6,311.6 371.6,311.9 373.6,312.3 375.6,312.7 377.6,313.1 379.6,313.4 381.6,313.8 383.6,314.1 385.6,314.3 387.6,314.4 389.6,314.4 391.6,314.2 393.6,313.8 395.6,313.3 397.6,312.6 399.6,311.8 401.6,310.9 403.6,309.9 405.6,308.9 407.6,308 409.6,307.2 411.6,306.6 413.6,306 415.6,305.5 417.6,305 419.6,304.5 421.6,304 423.6,303.6 425.6,303 427.6,302.5 429.6,301.8 431.6,301.2 433.6,300.5 435.6,299.8 437.6,299.2 439.6,298.7 441.6,298.3 443.6,298 445.6,297.7 447.6,297.6 449.6,297.6 451.6,297.7 453.6,298.1 455.6,298.7 457.6,299.5 459.6,300.4 461.6,301.5 463.6,302.6 465.6,303.8 467.6,304.9 469.6,306 471.6,306.9 473.6,307.9 475.6,308.8 477.6,309.7 479.6,310.5 481.6,311.3 483.6,312 485.6,312.7 487.6,313.2 489.6,313.6 491.6,313.9 493.6,314.1 495.6,314.4 497.6,314.7 499.6,315 501.6,315.5 503.6,316.2 505.6,317 507.6,317.8 509.6,318.7 511.6,319.7 513.6,320.7 515.6,321.6 517.6,322.6" stroke="#4f3585" stroke-opacity="0.42" stroke-width="1.5" fill="none"/>
<path d="M31.7,406.8 33.7,406.4 35.7,405.5 37.7,404.3 39.7,403.4 41.7,402.5 43.7,401.5 45.7,400.5 47.7,399.4 49.7,398.1 51.7,396.6 53.7,395 55.7,393.1 57.7,391 59.7,388.7 61.7,386 63.7,383.2 65.7,380.3 67.7,377.2 69.7,374 71.7,370.8 73.7,367.6 75.7,364.4 77.7,361.2 79.7,357.7 81.7,353.8 83.7,349.6 85.7,345.1 87.7,340.1 89.7,334.6 91.7,328.2 93.7,320.9 95.7,313.3 97.7,305.9 99.7,298.4 101.7,290.3 103.7,281 105.7,270.7 107.7,259.5 109.7,246.9 111.7,233.4 113.7,220.4 115.7,208 117.7,196.8 119.7,186.2 121.7,175.6 123.7,166 125.7,157.6 127.7,151.8 129.7,149.6 131.7,150.9 133.7,154.6 135.7,160.6 137.7,168.7 139.7,178.4 141.7,189.4 143.7,201.1 145.7,213.3 147.7,225.4 149.7,237.1 151.7,248.1 153.7,258.1 155.7,267.2 157.7,275.1 159.7,281.9 161.7,287.6 163.7,292.3 165.7,296.1 167.7,299.1 169.7,301.4 171.7,303.2 173.7,304.5 175.7,305.2 177.7,305.4 179.7,305.6 181.7,305.4 183.7,304.9 185.7,304.1 187.7,302.9 189.7,301.3 191.7,299.4 193.7,297.4 195.7,295.6 197.7,293.8 199.7,292 201.7,290 203.7,287.8 205.7,285.7 207.7,283.6 209.7,281.7 211.7,280.1 213.7,278.7 215.7,277.8 217.7,277.1 219.7,276.5 221.7,276.2 223.7,275.9 225.7,275.8 227.7,275.8 229.7,275.9 231.7,276.1 233.7,276.5 235.7,277.2 237.7,278.1 239.7,279.1 241.7,280.3 243.7,281.5 245.7,282.6 247.7,283.5 249.7,284.4 251.7,285.3 253.7,286.3 255.7,287.2 257.7,288.4 259.7,289.7 261.7,291.6 263.7,293.4 265.7,294.8 267.7,296 269.7,297.2 271.7,298.2 273.7,299.2 275.7,300.1 277.7,301 279.7,301.8 281.7,302.6 283.7,303.3 285.7,304 287.7,304.7 289.7,305.4 291.7,306 293.7,306.6 295.7,307.2 297.7,307.7 299.7,308.2 301.7,308.8 303.7,309.3 305.7,309.8 307.7,310.3 309.7,310.8 311.7,311.3 313.7,311.8 315.7,312.2 317.7,312.6 319.7,313 321.7,313.4 323.7,313.7 325.7,314 327.7,314.2 329.7,314.4 331.7,314.5 333.7,314.5 335.7,314.5 337.7,314.3 339.7,314.2 341.7,314 343.7,313.7 345.7,313.5 347.7,313.2 349.7,313 351.7,312.8 353.7,312.6 355.7,312.5 357.7,312.4 359.7,312.4 361.7,312.5 363.7,312.6 365.7,312.8 367.7,313.1 369.7,313.4 371.7,313.7 373.7,314 375.7,314.4 377.7,314.7 379.7,315 381.7,315.3 383.7,315.5 385.7,315.7 387.7,315.8 389.7,315.9 391.7,315.7 393.7,315.5 395.7,315.1 397.7,314.6 399.7,314 401.7,313.3 403.7,312.6 405.7,311.8 407.7,311.1 409.7,310.5 411.7,309.8 413.7,309.2 415.7,308.5 417.7,307.8 419.7,307.1 421.7,306.5 423.7,305.9 425.7,305.5 427.7,305.2 429.7,305 431.7,304.9 433.7,304.9 435.7,304.9 437.7,304.9 439.7,304.8 441.7,304.7 443.7,304.4 445.7,303.9 447.7,303.3 449.7,302.8 451.7,302.4 453.7,302.2 455.7,302.4 457.7,302.7 459.7,303.1 461.7,303.7 463.7,304.3 465.7,305 467.7,305.7 469.7,306.5 471.7,307.4 473.7,308.5 475.7,309.7 477.7,311 479.7,312.3 481.7,313.5 483.7,314.6 485.7,315.4 487.7,316 489.7,316.4 491.7,316.7 493.7,316.9 495.7,317.1 497.7,317.2 499.7,317.4 501.7,317.7 503.7,318.1 505.7,318.6 507.7,319.1 509.7,319.6 511.7,320.1 513.7,320.6 515.7,321.2 517.6,321.6" stroke="#4f3585" stroke-opacity="0.42" stroke-width="1.5" fill="none"/>
<path d="M32.8,404.6 34.8,403.6 36.8,402.7 38.8,401.7 40.8,400.7 42.8,399.6 44.8,398.4 46.8,396.9 48.8,395.3 50.8,393.5 52.8,391.4 54.8,389.1 56.8,386.5 58.8,383.6 60.8,380.6 62.8,377.5 64.8,374.3 66.8,371 68.8,367.8 70.8,364.5 72.8,361.2 74.8,357.6 76.8,353.7 78.8,349.4 80.8,344.7 82.8,339.5 84.8,333.8 86.8,327 88.8,319.4 90.8,311.5 92.8,304 94.8,296.1 96.8,287.5 98.8,277.6 100.8,266.7 102.8,254.6 104.8,240.9 106.8,227.1 108.8,213.7 110.8,201.3 112.8,190.1 114.8,178.7 116.8,168.3 118.8,159.1 120.8,152.5 122.8,149.8 124.8,150.6 126.8,154.4 128.8,160.8 130.8,169.5 132.8,180.1 134.8,192 136.8,204.9 138.8,218.1 140.8,231.2 142.8,243.9 144.8,255.8 146.8,266.6 148.8,276.2 150.8,284.6 152.8,291.7 154.8,297.7 156.8,302.5 158.8,306.3 160.8,309.3 162.8,311.6 164.8,313.4 166.8,314.6 168.8,315.6 170.8,316.2 172.8,316.6 174.8,316.7 176.8,316.1 178.8,315.9 180.8,315.7 182.8,315.2 184.8,314.4 186.8,313.4 188.8,312 190.8,310.2 192.8,308.1 194.8,306.1 196.8,304.2 198.8,302.3 200.8,300.1 202.8,297.7 204.8,295.2 206.8,292.7 208.8,290.4 210.8,288.5 212.8,286.9 214.8,285.9 216.8,285.3 218.8,285 220.8,284.9 222.8,285.1 224.8,285.4 226.8,285.8 228.8,286.2 230.8,286.5 232.8,286.8 234.8,287 236.8,287.3 238.8,287.7 240.8,288.1 242.8,288.6 244.8,289.1 246.8,289.8 248.8,290.6 250.8,291.5 252.8,292.5 254.8,293.5 256.8,294.7 258.8,295.8 260.8,297.3 262.8,298.9 264.8,300.4 266.8,301.5 268.8,302.7 270.8,303.7 272.8,304.7 274.8,305.7 276.8,306.6 278.8,307.4 280.8,308.1 282.8,308.8 284.8,309.4 286.8,310 288.8,310.5 290.8,311 292.8,311.5 294.8,312 296.8,312.5 298.8,313 300.8,313.5 302.8,314.1 304.8,314.6 306.8,315.2 308.8,315.8 310.8,316.3 312.8,316.9 314.8,317.4 316.8,317.9 318.8,318.4 320.8,318.9 322.8,319.3 324.8,319.6 326.8,319.9 328.8,320.1 330.8,320.3 332.8,320.3 334.8,320.2 336.8,320 338.8,319.8 340.8,319.5 342.8,319.1 344.8,318.8 346.8,318.4 348.8,318.1 350.8,317.7 352.8,317.5 354.8,317.3 356.8,317.2 358.8,317.2 360.8,317.3 362.8,317.5 364.8,317.8 366.8,318.2 368.8,318.7 370.8,319.2 372.8,319.8 374.8,320.3 376.8,320.9 378.8,321.5 380.8,322 382.8,322.5 384.8,323 386.8,323.3 388.8,323.5 390.8,323.6 392.8,323.5 394.8,323.2 396.8,322.8 398.8,322.2 400.8,321.4 402.8,320.7 404.8,319.8 406.8,319.1 408.8,318.4 410.8,317.9 412.8,317.5 414.8,317.1 416.8,316.8 418.8,316.5 420.8,316.2 422.8,315.9 424.8,315.5 426.8,315 428.8,314.5 430.8,313.9 432.8,313.3 434.8,312.7 436.8,312.1 438.8,311.5 440.8,311 442.8,310.6 444.8,310.1 446.8,309.7 448.8,309.3 450.8,309.1 452.8,309 454.8,309.1 456.8,309.2 458.8,309.5 460.8,309.8 462.8,310.1 464.8,310.6 466.8,311.1 468.8,311.8 470.8,312.6 472.8,313.7 474.8,315.1 476.8,316.6 478.8,318.3 480.8,319.9 482.8,321.4 484.8,322.6 486.8,323.6 488.8,324.2 490.8,324.7 492.8,325.1 494.8,325.4 496.8,325.6 498.8,325.9 500.8,326.3 502.8,326.8 504.8,327.4 506.8,328 508.8,328.6 510.8,329.3 512.8,330 514.8,330.7 516.8,331.4 517.6,331.6" stroke="#4f3585" stroke-opacity="0.42" stroke-width="1.5" fill="none"/>
<path d="M31.1,407.3 33.1,407.2 35.1,407 37.1,406.7 39.1,406 41.1,404.8 43.1,403.7 45.1,402.8 47.1,401.8 49.1,400.8 51.1,399.7 53.1,398.4 55.1,396.9 57.1,395.2 59.1,393.2 61.1,391 63.1,388.4 65.1,385.6 67.1,382.4 69.1,379.1 71.1,375.7 73.1,372.2 75.1,368.7 77.1,365.2 79.1,361.6 81.1,357.8 83.1,353.5 85.1,348.7 87.1,343.4 89.1,337.5 91.1,330.5 93.1,322.1 95.1,313.1 97.1,304.4 99.1,295.6 101.1,285.6 103.1,274.2 105.1,261.8 107.1,248.2 109.1,233.9 111.1,219.9 113.1,206.4 115.1,194.5 117.1,182.8 119.1,171.4 121.1,161.5 123.1,153.8 125.1,150.2 127.1,150.2 129.1,153.5 131.1,159.6 133.1,168.2 135.1,178.8 137.1,191 139.1,204.3 141.1,218 143.1,231.7 145.1,245 147.1,257.4 149.1,268.8 151.1,278.9 153.1,287.7 155.1,295.2 157.1,301.4 159.1,306.5 161.1,310.5 163.1,313.6 165.1,316 167.1,317.8 169.1,319.1 171.1,320.1 173.1,320.7 175.1,320.9 177.1,320.5 179.1,320.3 181.1,320 183.1,319.3 185.1,318.1 187.1,316.5 189.1,314.5 191.1,312.1 193.1,309.6 195.1,307.3 197.1,305.3 199.1,303.4 201.1,301.4 203.1,299.3 205.1,297.3 207.1,295.3 209.1,293.5 211.1,291.9 213.1,290.6 215.1,289.6 217.1,288.8 219.1,288.3 221.1,287.9 223.1,287.7 225.1,287.6 227.1,287.6 229.1,287.6 231.1,287.6 233.1,287.7 235.1,287.9 237.1,288.3 239.1,288.8 241.1,289.4 243.1,290 245.1,290.7 247.1,291.3 249.1,291.9 251.1,292.5 253.1,293.2 255.1,294 257.1,294.9 259.1,296.1 261.1,297.7 263.1,299.7 265.1,301.5 267.1,303.1 269.1,304.7 271.1,306.2 273.1,307.7 275.1,309.1 277.1,310.4 279.1,311.5 281.1,312.5 283.1,313.4 285.1,314.3 287.1,315.2 289.1,315.9 291.1,316.6 293.1,317.2 295.1,317.7 297.1,318.2 299.1,318.5 301.1,318.7 303.1,318.8 305.1,318.9 307.1,318.9 309.1,318.8 311.1,318.7 313.1,318.6 315.1,318.5 317.1,318.3 319.1,318.2 321.1,318.1 323.1,318 325.1,318 327.1,317.9 329.1,318 331.1,318.1 333.1,318.2 335.1,318.3 337.1,318.4 339.1,318.5 341.1,318.7 343.1,318.9 345.1,319.1 347.1,319.3 349.1,319.5 351.1,319.8 353.1,320.1 355.1,320.4 357.1,320.8 359.1,321.1 361.1,321.6 363.1,322 365.1,322.6 367.1,323.2 369.1,323.8 371.1,324.5 373.1,325.2 375.1,325.9 377.1,326.6 379.1,327.3 381.1,327.9 383.1,328.5 385.1,329.1 387.1,329.6 389.1,330 391.1,330.3 393.1,330.4 395.1,330.5 397.1,330.5 399.1,330.3 401.1,330.1 403.1,329.8 405.1,329.3 407.1,328.8 409.1,328.3 411.1,327.6 413.1,326.9 415.1,325.9 417.1,324.8 419.1,323.6 421.1,322.4 423.1,321.3 425.1,320.4 427.1,319.6 429.1,319 431.1,318.5 433.1,318 435.1,317.6 437.1,317.2 439.1,316.9 441.1,316.6 443.1,316.3 445.1,316 447.1,315.8 449.1,315.7 451.1,315.6 453.1,315.6 455.1,315.6 457.1,315.7 459.1,315.9 461.1,316 463.1,316.2 465.1,316.5 467.1,316.8 469.1,317.3 471.1,317.9 473.1,318.7 475.1,319.6 477.1,320.7 479.1,321.9 481.1,323.1 483.1,324.3 485.1,325.4 487.1,326.4 489.1,327.3 491.1,328.2 493.1,329 495.1,329.9 497.1,330.7 499.1,331.6 501.1,332.6 503.1,333.6 505.1,334.7 507.1,335.8 509.1,336.9 511.1,338.1 513.1,339.3 515.1,340.5 517.1,341.7 517.6,341.9" stroke="#4f3585" stroke-opacity="0.42" stroke-width="1.5" fill="none"/>
<path d="M32.7,406 34.7,404.8 36.7,403.7 38.7,402.8 40.7,401.8 42.7,400.8 44.7,399.7 46.7,398.4 48.7,396.9 50.7,395.2 52.7,393.2 54.7,391 56.7,388.5 58.7,385.6 60.7,382.5 62.7,379.2 64.7,375.8 66.7,372.4 68.7,368.9 70.7,365.4 72.7,361.8 74.7,358.1 76.7,353.8 78.7,349.1 80.7,343.9 82.7,338.1 84.7,331.4 86.7,323.2 88.7,314.2 90.7,305.7 92.7,297 94.7,287.4 96.7,276.2 98.7,264.1 100.7,252.1 102.7,239.9 104.7,228.2 106.7,217 108.7,206.4 110.7,196.9 112.7,187.8 114.7,178.6 116.7,170 118.7,162.3 120.7,155.4 122.7,151 124.7,149.7 126.7,151.9 128.7,157.3 130.7,165.5 132.7,176.1 134.7,188.7 136.7,202.5 138.7,217.1 140.7,231.8 142.7,246.1 144.7,259.6 146.7,272 148.7,283.1 150.7,292.7 152.7,300.9 154.7,307.7 156.7,313.2 158.7,317.6 160.7,321 162.7,323.6 164.7,325.5 166.7,326.9 168.7,327.9 170.7,328.6 172.7,329.1 174.7,329.3 176.7,328.8 178.7,328.5 180.7,328.2 182.7,327.7 184.7,326.9 186.7,325.7 188.7,324.2 190.7,322.2 192.7,320 194.7,317.8 196.7,315.9 198.7,314 200.7,312 202.7,309.8 204.7,307.5 206.7,305.4 208.7,303.3 210.7,301.5 212.7,300.1 214.7,299 216.7,298.4 218.7,298 220.7,297.9 222.7,297.9 224.7,298.1 226.7,298.2 228.7,298.3 230.7,298.4 232.7,298.2 234.7,297.8 236.7,297.3 238.7,296.7 240.7,296.2 242.7,295.9 244.7,295.8 246.7,296.3 248.7,297.2 250.7,298.5 252.7,300.2 254.7,301.9 256.7,303.7 258.7,305.3 260.7,307 262.7,308.7 264.7,310.3 266.7,311.7 268.7,313.3 270.7,314.8 272.7,316.3 274.7,317.6 276.7,318.9 278.7,319.9 280.7,320.8 282.7,321.6 284.7,322.3 286.7,323 288.7,323.5 290.7,324 292.7,324.5 294.7,324.9 296.7,325.2 298.7,325.5 300.7,325.8 302.7,326 304.7,326.1 306.7,326.2 308.7,326.3 310.7,326.4 312.7,326.4 314.7,326.4 316.7,326.5 318.7,326.5 320.7,326.5 322.7,326.6 324.7,326.6 326.7,326.6 328.7,326.7 330.7,326.8 332.7,326.9 334.7,326.9 336.7,327 338.7,327.1 340.7,327.1 342.7,327.2 344.7,327.3 346.7,327.3 348.7,327.4 350.7,327.6 352.7,327.7 354.7,327.9 356.7,328.1 358.7,328.3 360.7,328.6 362.7,328.9 364.7,329.4 366.7,329.8 368.7,330.3 370.7,330.9 372.7,331.4 374.7,332 376.7,332.5 378.7,333.1 380.7,333.6 382.7,334 384.7,334.5 386.7,334.8 388.7,335 390.7,335.1 392.7,335 394.7,334.7 396.7,334.3 398.7,333.7 400.7,333.1 402.7,332.3 404.7,331.5 406.7,330.7 408.7,330.1 410.7,329.6 412.7,329.2 414.7,328.7 416.7,328.3 418.7,328 420.7,327.6 422.7,327.3 424.7,327.1 426.7,326.8 428.7,326.6 430.7,326.5 432.7,326.4 434.7,326.3 436.7,326.2 438.7,326.1 440.7,326 442.7,326 444.7,325.9 446.7,325.9 448.7,325.9 450.7,325.9 452.7,325.9 454.7,326 456.7,326.1 458.7,326.1 460.7,326.2 462.7,326.2 464.7,326.4 466.7,326.6 468.7,327 470.7,327.6 472.7,328.5 474.7,329.7 476.7,331.1 478.7,332.7 480.7,334.3 482.7,335.9 484.7,337.2 486.7,338.4 488.7,339.5 490.7,340.4 492.7,341.4 494.7,342.2 496.7,343 498.7,343.8 500.7,344.5 502.7,345.1 504.7,345.7 506.7,346.1 508.7,346.6 510.7,346.9 512.7,347.3 514.7,347.6 516.7,347.9 517.6,348.1" stroke="#4f3585" stroke-opacity="0.42" stroke-width="1.5" fill="none"/>
<path d="M31.9,402.1 33.9,401.1 35.9,400 37.9,398.7 39.9,397.3 41.9,395.6 43.9,393.7 45.9,391.5 47.9,389.1 49.9,386.2 51.9,383.1 53.9,379.8 55.9,376.4 57.9,372.8 59.9,369.3 61.9,365.8 63.9,362.2 65.9,358.4 67.9,354.1 69.9,349.3 71.9,344 73.9,338.1 75.9,331.2 77.9,322.7 79.9,313.5 81.9,304.7 83.9,295.7 85.9,285.6 87.9,273.9 89.9,261.7 91.9,250.1 93.9,238.8 95.9,228.1 97.9,217.9 99.9,208.2 101.9,199.4 103.9,191.1 105.9,182.8 107.9,174.8 109.9,167.4 111.9,160.5 113.9,154.6 115.9,150.8 117.9,149.7 119.9,152.4 121.9,158.3 123.9,167.2 125.9,178.6 127.9,191.9 129.9,206.6 131.9,221.9 133.9,237.4 135.9,252.4 137.9,266.6 139.9,279.5 141.9,291 143.9,301.1 145.9,309.6 147.9,316.6 149.9,322.3 151.9,326.8 153.9,330.3 155.9,333 157.9,334.9 159.9,336.4 161.9,337.4 163.9,338.1 165.9,338.6 167.9,338.9 169.9,339.1 171.9,339.3 173.9,339.3 175.9,339.2 177.9,338.4 179.9,338 181.9,337.7 183.9,337 185.9,336 187.9,334.5 189.9,332.5 191.9,330.1 193.9,327.7 195.9,325.6 197.9,324 199.9,322.6 201.9,321.1 203.9,319.7 205.9,318.4 207.9,317.1 209.9,315.9 211.9,314.7 213.9,313.5 215.9,312.4 217.9,311.2 219.9,310.1 221.9,309 223.9,308 225.9,307 227.9,306.2 229.9,305.5 231.9,304.9 233.9,304.7 235.9,304.7 237.9,304.9 239.9,305.3 241.9,305.9 243.9,306.5 245.9,307.1 247.9,307.7 249.9,308.3 251.9,309.1 253.9,309.9 255.9,310.8 257.9,311.9 259.9,313.4 261.9,315.4 263.9,317.5 265.9,319.1 267.9,320.4 269.9,321.6 271.9,322.7 273.9,323.7 275.9,324.7 277.9,325.6 279.9,326.4 281.9,327.1 283.9,327.8 285.9,328.5 287.9,329.1 289.9,329.7 291.9,330.2 293.9,330.7 295.9,331.2 297.9,331.6 299.9,331.9 301.9,332.3 303.9,332.6 305.9,332.9 307.9,333.1 309.9,333.4 311.9,333.6 313.9,333.9 315.9,334 317.9,334.2 319.9,334.4 321.9,334.5 323.9,334.6 325.9,334.7 327.9,334.7 329.9,334.7 331.9,334.6 333.9,334.4 335.9,334.2 337.9,333.9 339.9,333.5 341.9,333.2 343.9,332.8 345.9,332.4 347.9,332 349.9,331.7 351.9,331.4 353.9,331.1 355.9,331 357.9,330.9 359.9,330.9 361.9,331.1 363.9,331.4 365.9,331.8 367.9,332.2 369.9,332.7 371.9,333.3 373.9,333.9 375.9,334.5 377.9,335.1 379.9,335.7 381.9,336.3 383.9,336.8 385.9,337.2 387.9,337.6 389.9,337.7 391.9,337.7 393.9,337.5 395.9,337.1 397.9,336.6 399.9,335.9 401.9,335.1 403.9,334.3 405.9,333.6 407.9,333 409.9,332.7 411.9,332.6 413.9,332.7 415.9,332.9 417.9,333.2 419.9,333.6 421.9,334 423.9,334.3 425.9,334.5 427.9,334.5 429.9,334.5 431.9,334.5 433.9,334.4 435.9,334.3 437.9,334.1 439.9,333.9 441.9,333.7 443.9,333.4 445.9,332.9 447.9,332.3 449.9,331.8 451.9,331.4 453.9,331.3 455.9,331.4 457.9,331.8 459.9,332.4 461.9,333 463.9,333.7 465.9,334.5 467.9,335.3 469.9,336 471.9,336.7 473.9,337.4 475.9,338.1 477.9,338.9 479.9,339.6 481.9,340.4 483.9,341.1 485.9,341.9 487.9,342.6 489.9,343.3 491.9,344.1 493.9,344.8 495.9,345.6 497.9,346.3 499.9,347.1 501.9,347.8 503.9,348.6 505.9,349.4 507.9,350.2 509.9,351 511.9,351.8 513.9,352.6 515.9,353.4 517.6,354" stroke="#4f3585" stroke-opacity="0.42" stroke-width="1.5" fill="none"/>
<path d="M31.8,406.2 33.8,405.1 35.8,404 37.8,403.1 39.8,402.1 41.8,401.2 43.8,400.1 45.8,398.9 47.8,397.6 49.8,396.1 51.8,394.4 53.8,392.4 55.8,390.3 57.8,387.8 59.8,385.2 61.8,382.3 63.8,379.3 65.8,376.2 67.8,373 69.8,369.8 71.8,366.7 73.8,363.5 75.8,360.2 77.8,356.6 79.8,352.7 81.8,348.4 83.8,343.8 85.8,338.7 87.8,333 89.8,326.4 91.8,319 93.8,311.5 95.8,304.2 97.8,296.7 99.8,288.4 101.8,279 103.8,268.6 105.8,257 107.8,243.4 109.8,229.2 111.8,215.3 113.8,202.4 115.8,190.8 117.8,179.2 119.8,168.3 121.8,158.9 123.8,152.3 125.8,149.7 127.8,150.7 129.8,154.4 131.8,160.5 133.8,168.7 135.8,178.7 137.8,190 139.8,202.1 141.8,214.7 143.8,227.2 145.8,239.3 147.8,250.6 149.8,261 151.8,270.4 153.8,278.5 155.8,285.5 157.8,291.3 159.8,296.1 161.8,299.9 163.8,302.9 165.8,305.3 167.8,307.1 169.8,308.4 171.8,309.3 173.8,310 175.8,310 177.8,309.8 179.8,309.6 181.8,309 183.8,308.1 185.8,306.7 187.8,304.9 189.8,302.5 191.8,300 193.8,297.7 195.8,295.8 197.8,294.3 199.8,293.1 201.8,292 203.8,291 205.8,290.2 207.8,289.4 209.8,288.7 211.8,288 213.8,287.3 215.8,286.7 217.8,286.1 219.8,285.5 221.8,284.9 223.8,284.5 225.8,284 227.8,283.6 229.8,283.3 231.8,283.1 233.8,283 235.8,283 237.8,283 239.8,283.2 241.8,283.6 243.8,284.1 245.8,284.8 247.8,285.8 249.8,287.2 251.8,288.9 253.8,290.6 255.8,292.4 257.8,293.8 259.8,294.9 261.8,295.5 263.8,296.1 265.8,297 267.8,298.4 269.8,300.1 271.8,301.8 273.8,303.5 275.8,305 277.8,306.2 279.8,307.2 281.8,308 283.8,308.6 285.8,309.1 287.8,309.5 289.8,309.8 291.8,310.1 293.8,310.4 295.8,310.6 297.8,310.9 299.8,311.2 301.8,311.5 303.8,311.8 305.8,312.1 307.8,312.4 309.8,312.7 311.8,313 313.8,313.2 315.8,313.5 317.8,313.8 319.8,314 321.8,314.3 323.8,314.6 325.8,314.8 327.8,315.1 329.8,315.4 331.8,315.7 333.8,315.9 335.8,316.2 337.8,316.5 339.8,316.7 341.8,317 343.8,317.3 345.8,317.5 347.8,317.8 349.8,318.1 351.8,318.3 353.8,318.6 355.8,318.9 357.8,319.2 359.8,319.5 361.8,319.8 363.8,320.2 365.8,320.6 367.8,321 369.8,321.4 371.8,321.8 373.8,322.2 375.8,322.6 377.8,323 379.8,323.3 381.8,323.7 383.8,324 385.8,324.2 387.8,324.4 389.8,324.6 391.8,324.6 393.8,324.5 395.8,324.4 397.8,324.1 399.8,323.8 401.8,323.4 403.8,322.9 405.8,322.3 407.8,321.6 409.8,321 411.8,320.2 413.8,319.1 415.8,317.9 417.8,316.6 419.8,315.3 421.8,314 423.8,312.9 425.8,312 427.8,311.3 429.8,310.8 431.8,310.4 433.8,310 435.8,309.7 437.8,309.5 439.8,309.2 441.8,308.9 443.8,308.6 445.8,308.2 447.8,307.8 449.8,307.5 451.8,307.3 453.8,307.3 455.8,307.5 457.8,307.7 459.8,308 461.8,308.4 463.8,308.9 465.8,309.4 467.8,310 469.8,310.8 471.8,311.7 473.8,312.8 475.8,314.1 477.8,315.5 479.8,317 481.8,318.5 483.8,319.9 485.8,321.1 487.8,322.3 489.8,323.4 491.8,324.5 493.8,325.5 495.8,326.5 497.8,327.5 499.8,328.4 501.8,329.2 503.8,330 505.8,330.6 507.8,331.2 509.8,331.7 511.8,332.2 513.8,332.7 515.8,333.2 517.6,333.6" stroke="#4f3585" stroke-opacity="0.42" stroke-width="1.5" fill="none"/>
<path d="M33.5,399.8 35.5,398.6 37.5,397.2 39.5,395.6 41.5,393.8 43.5,391.8 45.5,389.6 47.5,387 49.5,384.3 51.5,381.3 53.5,378.2 55.5,375.1 57.5,371.8 59.5,368.6 61.5,365.4 63.5,362.1 65.5,358.7 67.5,354.9 69.5,350.7 71.5,346.2 73.5,341.3 75.5,335.8 77.5,329.6 79.5,322.3 81.5,314.6 83.5,307 85.5,299.4 87.5,291.3 89.5,282.1 91.5,271.6 93.5,260.8 95.5,249.8 97.5,238.6 99.5,227.9 101.5,217.9 103.5,208.3 105.5,199.5 107.5,191.4 109.5,183.2 111.5,175.2 113.5,167.8 115.5,161 117.5,155 119.5,151 121.5,149.6 123.5,151.7 125.5,156.6 127.5,164.3 129.5,174.2 131.5,185.9 133.5,199 135.5,212.7 137.5,226.6 139.5,240.3 141.5,253.3 143.5,265.2 145.5,276 147.5,285.5 149.5,293.6 151.5,300.3 153.5,305.9 155.5,310.4 157.5,313.9 159.5,316.5 161.5,318.6 163.5,320.1 165.5,321.2 167.5,321.9 169.5,322.5 171.5,322.8 173.5,323 175.5,322.8 177.5,322.2 179.5,321.9 181.5,321.4 183.5,320.6 185.5,319.4 187.5,317.7 189.5,315.4 191.5,312.8 193.5,310.2 195.5,307.9 197.5,305.9 199.5,304.1 201.5,302.2 203.5,300.3 205.5,298.4 207.5,296.6 209.5,295 211.5,293.5 213.5,292.4 215.5,291.4 217.5,290.7 219.5,290.1 221.5,289.7 223.5,289.4 225.5,289.2 227.5,289 229.5,289 231.5,289.1 233.5,289.2 235.5,289.6 237.5,290.1 239.5,290.8 241.5,291.6 243.5,292.5 245.5,293.4 247.5,294.3 249.5,295.4 251.5,296.5 253.5,297.7 255.5,298.9 257.5,300.2 259.5,301.4 261.5,302.6 263.5,303.8 265.5,305.2 267.5,306.7 269.5,308.4 271.5,310.1 273.5,311.8 275.5,313.3 277.5,314.7 279.5,315.9 281.5,317 283.5,318 285.5,318.9 287.5,319.8 289.5,320.5 291.5,321.2 293.5,321.8 295.5,322.3 297.5,322.8 299.5,323.1 301.5,323.3 303.5,323.5 305.5,323.6 307.5,323.6 309.5,323.7 311.5,323.6 313.5,323.6 315.5,323.5 317.5,323.5 319.5,323.4 321.5,323.3 323.5,323.1 325.5,323 327.5,322.9 329.5,322.8 331.5,322.7 333.5,322.5 335.5,322.3 337.5,322.1 339.5,321.8 341.5,321.6 343.5,321.3 345.5,321.1 347.5,320.8 349.5,320.6 351.5,320.4 353.5,320.2 355.5,320 357.5,319.9 359.5,319.9 361.5,319.9 363.5,320 365.5,320.1 367.5,320.2 369.5,320.4 371.5,320.6 373.5,320.8 375.5,321 377.5,321.3 379.5,321.5 381.5,321.8 383.5,322 385.5,322.2 387.5,322.4 389.5,322.6 391.5,322.8 393.5,323 395.5,323.1 397.5,323.3 399.5,323.5 401.5,323.7 403.5,323.8 405.5,323.8 407.5,323.7 409.5,323.4 411.5,323 413.5,322.2 415.5,321.2 417.5,319.9 419.5,318.7 421.5,317.5 423.5,316.5 425.5,315.8 427.5,315.5 429.5,315.5 431.5,315.7 433.5,316 435.5,316.4 437.5,316.9 439.5,317.2 441.5,317.5 443.5,317.6 445.5,317.6 447.5,317.4 449.5,317.3 451.5,317.2 453.5,317.2 455.5,317.3 457.5,317.4 459.5,317.5 461.5,317.7 463.5,317.8 465.5,318.1 467.5,318.5 469.5,319 471.5,319.8 473.5,320.8 475.5,322.1 477.5,323.6 479.5,325.2 481.5,326.7 483.5,328 485.5,329 487.5,329.7 489.5,330.1 491.5,330.3 493.5,330.5 495.5,330.5 497.5,330.6 499.5,330.7 501.5,331 503.5,331.4 505.5,332 507.5,332.6 509.5,333.2 511.5,333.9 513.5,334.6 515.5,335.3 517.5,336 517.6,336" stroke="#4f3585" stroke-opacity="0.42" stroke-width="1.5" fill="none"/>
<path d="M32.7,399.5 34.7,398.1 36.7,396.6 38.7,394.8 40.7,392.7 42.7,390.4 44.7,387.7 46.7,384.6 48.7,381.3 50.7,377.8 52.7,374.2 54.7,370.6 56.7,366.9 58.7,363.3 60.7,359.4 62.7,355.2 64.7,350.3 66.7,345 68.7,338.9 70.7,331.8 72.7,322.9 74.7,313.2 76.7,304 78.7,294.5 80.7,283.7 82.7,271.1 84.7,259.2 86.7,248.8 88.7,239 90.7,229.7 92.7,221 94.7,212.9 96.7,205.1 98.7,197.9 100.7,191 102.7,184.2 104.7,177.5 106.7,171.2 108.7,165.2 110.7,159.6 112.7,154.6 114.7,151.1 116.7,149.6 118.7,150.6 120.7,153.1 122.7,157.1 124.7,162.5 126.7,168.9 128.7,176.2 130.7,184.2 132.7,192.5 134.7,200.9 136.7,209.3 138.7,217.3 140.7,224.9 142.7,231.9 144.7,238.3 146.7,243.9 148.7,248.8 150.7,253.1 152.7,256.6 154.7,259.6 156.7,262 158.7,263.9 160.7,265.5 162.7,266.6 164.7,267.6 166.7,268.2 168.7,268.7 170.7,269 172.7,268.8 174.7,268.4 176.7,268.2 178.7,267.9 180.7,267.3 182.7,266.4 184.7,265.4 186.7,264 188.7,262.4 190.7,260.7 192.7,259 194.7,257.4 196.7,256.1 198.7,254.9 200.7,253.8 202.7,252.7 204.7,251.6 206.7,250.6 208.7,249.7 210.7,249 212.7,248.4 214.7,248.1 216.7,248 218.7,247.9 220.7,248.1 222.7,248.3 224.7,248.6 226.7,249 228.7,249.6 230.7,250.2 232.7,251 234.7,251.9 236.7,253.1 238.7,254.5 240.7,256.1 242.7,257.7 244.7,259.3 246.7,260.7 248.7,262.1 250.7,263.6 252.7,265.1 254.7,266.6 256.7,268 258.7,269.3 260.7,270.5 262.7,271.6 264.7,272.6 266.7,273.6 268.7,274.5 270.7,275.5 272.7,276.4 274.7,277.3 276.7,278.2 278.7,279 280.7,279.7 282.7,280.4 284.7,281 286.7,281.5 288.7,282.1 290.7,282.6 292.7,283.2 294.7,283.7 296.7,284.3 298.7,285 300.7,285.6 302.7,286.3 304.7,287.1 306.7,287.9 308.7,288.7 310.7,289.5 312.7,290.3 314.7,291.1 316.7,291.9 318.7,292.6 320.7,293.3 322.7,294 324.7,294.6 326.7,295.2 328.7,295.6 330.7,296.1 332.7,296.4 334.7,296.6 336.7,296.7 338.7,296.8 340.7,296.8 342.7,296.8 344.7,296.8 346.7,296.7 348.7,296.7 350.7,296.6 352.7,296.6 354.7,296.7 356.7,296.7 358.7,296.9 360.7,297.1 362.7,297.5 364.7,297.9 366.7,298.3 368.7,298.8 370.7,299.3 372.7,299.8 374.7,300.4 376.7,300.9 378.7,301.5 380.7,302 382.7,302.4 384.7,302.8 386.7,303.1 388.7,303.2 390.7,303.2 392.7,303.1 394.7,302.8 396.7,302.3 398.7,301.7 400.7,300.9 402.7,300 404.7,299 406.7,298.1 408.7,297.1 410.7,296.2 412.7,295.3 414.7,294.4 416.7,293.3 418.7,292.2 420.7,291.1 422.7,290 424.7,288.9 426.7,287.8 428.7,286.7 430.7,285.5 432.7,284.2 434.7,283 436.7,281.9 438.7,280.8 440.7,280 442.7,279.3 444.7,278.9 446.7,278.7 448.7,278.7 450.7,278.9 452.7,279.3 454.7,279.8 456.7,280.4 458.7,281.1 460.7,282 462.7,282.9 464.7,283.9 466.7,284.9 468.7,285.9 470.7,286.8 472.7,287.8 474.7,288.7 476.7,289.7 478.7,290.7 480.7,291.6 482.7,292.6 484.7,293.6 486.7,294.6 488.7,295.7 490.7,296.8 492.7,297.9 494.7,299 496.7,300.1 498.7,301 500.7,301.7 502.7,302.2 504.7,302.4 506.7,302.5 508.7,302.4 510.7,302.2 512.7,302 514.7,301.7 516.7,301.5 517.6,301.4" stroke="#4f3585" stroke-opacity="0.42" stroke-width="1.5" fill="none"/>
<path d="M33,402 35,401 37,399.9 39,398.6 41,397.1 43,395.4 45,393.5 47,391.2 49,388.6 51,385.7 53,382.4 55,379 57,375.4 59,371.8 61,368.1 63,364.5 65,360.8 67,356.7 69,352 71,346.8 73,341 75,334.4 77,326.1 79,316.4 81,307.1 83,297.8 85,287.6 87,275.5 89,262.8 91,250.9 93,239.4 95,228.4 97,217.9 99,208.1 101,199 103,190.6 105,182.1 107,173.9 109,166.3 111,159.4 113,153.7 115,150.4 117,149.8 119,151.7 121,155.4 123,160.8 125,167.6 127,175.6 129,184.5 131,194 133,203.7 135,213.4 137,222.8 139,231.7 141,239.9 143,247.4 145,254.1 147,259.8 149,264.8 151,268.9 153,272.4 155,275.1 157,277.3 159,279.1 161,280.4 163,281.4 165,282.2 167,282.7 169,283.1 171,283.4 173,283.5 175,283 177,282.5 179,282.3 181,281.9 183,281.2 185,280.3 187,279.2 189,277.7 191,275.9 193,274 195,272.2 197,270.6 199,269.1 201,267.5 203,265.7 205,263.9 207,262.2 209,260.6 211,259.1 213,257.9 215,256.9 217,256.1 219,255.4 221,254.8 223,254.3 225,253.9 227,253.7 229,253.6 231,253.7 233,254 235,254.5 237,255.4 239,256.6 241,257.9 243,259.4 245,260.9 247,262.4 249,264.1 251,265.8 253,267.7 255,269.6 257,271.7 259,273.8 261,276.5 263,279.4 265,281.6 267,283.1 269,284.2 271,285.1 273,285.9 275,286.8 277,287.7 279,288.7 281,289.9 283,291.3 285,292.8 287,294.4 289,295.9 291,297.4 293,298.8 295,300 297,301.1 299,302 301,302.7 303,303.4 305,303.9 307,304.4 309,304.8 311,305.2 313,305.5 315,305.8 317,306 319,306.3 321,306.5 323,306.7 325,306.9 327,307 329,307.2 331,307.3 333,307.4 335,307.5 337,307.5 339,307.4 341,307.4 343,307.3 345,307.2 347,307.1 349,307 351,306.9 353,306.9 355,306.8 357,306.8 359,306.8 361,306.8 363,306.9 365,307.1 367,307.3 369,307.5 371,307.7 373,307.9 375,308.2 377,308.4 379,308.6 381,308.8 383,308.9 385,308.9 387,308.9 389,308.8 391,308.5 393,308 395,307.4 397,306.7 399,305.7 401,304.7 403,303.5 405,302.4 407,301.3 409,300.3 411,299.4 413,298.6 415,297.9 417,297.2 419,296.5 421,295.8 423,295.1 425,294.3 427,293.5 429,292.5 431,291.3 433,290.2 435,289.1 437,288 439,287.1 441,286.5 443,286.2 445,286.2 447,286.7 449,287.4 451,288.3 453,289.1 455,289.8 457,290.4 459,291 461,291.6 463,292.2 465,292.8 467,293.4 469,294 471,294.6 473,295.2 475,295.7 477,296.3 479,296.8 481,297.4 483,298 485,298.6 487,299.3 489,300 491,300.9 493,301.7 495,302.6 497,303.4 499,304.1 501,304.6 503,304.9 505,305.1 507,305.1 509,305.1 511,304.9 513,304.8 515,304.6 517,304.4 517.6,304.4" stroke="#4f3585" stroke-opacity="0.42" stroke-width="1.5" fill="none"/>
<path d="M32.4,400.9 34.4,399.8 36.4,398.5 38.4,397 40.4,395.3 42.4,393.3 44.4,391 46.4,388.4 48.4,385.4 50.4,382.1 52.4,378.7 54.4,375.1 56.4,371.5 58.4,367.8 60.4,364.2 62.4,360.4 64.4,356.3 66.4,351.6 68.4,346.4 70.4,340.5 72.4,333.7 74.4,325.3 76.4,315.6 78.4,306.3 80.4,296.9 82.4,286.6 84.4,274.4 86.4,261.9 88.4,250.7 90.4,240.1 92.4,230 94.4,220.5 96.4,211.5 98.4,203.1 100.4,195.3 102.4,187.8 104.4,180.3 106.4,173.1 108.4,166.4 110.4,160.1 112.4,154.7 114.4,150.9 116.4,149.7 118.4,152 120.4,157.8 122.4,166.7 124.4,178.2 126.4,191.8 128.4,206.8 130.4,222.5 132.4,238.4 134.4,254 136.4,268.6 138.4,282.1 140.4,294.1 142.4,304.5 144.4,313.4 146.4,320.8 148.4,326.8 150.4,331.5 152.4,335.2 154.4,338 156.4,340.1 158.4,341.7 160.4,342.7 162.4,343.5 164.4,344 166.4,344.4 168.4,344.6 170.4,344.8 172.4,344.9 174.4,344.9 176.4,344.7 178.4,344 180.4,343.6 182.4,343.3 184.4,342.8 186.4,342 188.4,340.9 190.4,339.3 192.4,337.3 194.4,335.1 196.4,333.2 198.4,331.4 200.4,329.5 202.4,327.5 204.4,325.4 206.4,323.4 208.4,321.4 210.4,319.5 212.4,317.8 214.4,316.3 216.4,315.1 218.4,313.9 220.4,312.9 222.4,311.9 224.4,311 226.4,310.2 228.4,309.5 230.4,308.8 232.4,308.2 234.4,307.6 236.4,307.2 238.4,306.8 240.4,306.5 242.4,306.5 244.4,306.7 246.4,307.2 248.4,308.2 250.4,309.6 252.4,311.3 254.4,313.1 256.4,314.8 258.4,316.2 260.4,317.1 262.4,317.7 264.4,318.4 266.4,319.5 268.4,320.8 270.4,322.4 272.4,324 274.4,325.5 276.4,326.9 278.4,328.2 280.4,329.2 282.4,330.2 284.4,331.1 286.4,331.9 288.4,332.7 290.4,333.4 292.4,334 294.4,334.5 296.4,335 298.4,335.3 300.4,335.6 302.4,335.7 304.4,335.7 306.4,335.7 308.4,335.6 310.4,335.5 312.4,335.3 314.4,335.2 316.4,335 318.4,334.9 320.4,334.7 322.4,334.6 324.4,334.6 326.4,334.5 328.4,334.6 330.4,334.7 332.4,334.9 334.4,335.1 336.4,335.4 338.4,335.8 340.4,336.1 342.4,336.6 344.4,337 346.4,337.4 348.4,337.8 350.4,338.2 352.4,338.6 354.4,338.9 356.4,339.2 358.4,339.4 360.4,339.5 362.4,339.6 364.4,339.6 366.4,339.6 368.4,339.5 370.4,339.4 372.4,339.2 374.4,339.1 376.4,338.9 378.4,338.7 380.4,338.6 382.4,338.5 384.4,338.3 386.4,338.3 388.4,338.3 390.4,338.3 392.4,338.5 394.4,338.8 396.4,339.2 398.4,339.7 400.4,340.2 402.4,340.8 404.4,341.3 406.4,341.7 408.4,342.1 410.4,342.2 412.4,342.2 414.4,342 416.4,341.7 418.4,341.3 420.4,340.8 422.4,340.3 424.4,339.9 426.4,339.5 428.4,339.2 430.4,338.8 432.4,338.4 434.4,338 436.4,337.6 438.4,337.3 440.4,337 442.4,336.8 444.4,336.6 446.4,336.5 448.4,336.4 450.4,336.4 452.4,336.5 454.4,336.6 456.4,336.9 458.4,337.1 460.4,337.4 462.4,337.8 464.4,338.2 466.4,338.6 468.4,339.1 470.4,339.7 472.4,340.4 474.4,341.3 476.4,342.2 478.4,343.3 480.4,344.3 482.4,345.3 484.4,346.1 486.4,346.8 488.4,347.3 490.4,347.6 492.4,347.8 494.4,348 496.4,348.3 498.4,348.5 500.4,349 502.4,349.6 504.4,350.3 506.4,351.2 508.4,352.2 510.4,353.3 512.4,354.4 514.4,355.5 516.4,356.6 517.6,357.2" stroke="#4f3585" stroke-opacity="0.42" stroke-width="1.5" fill="none"/>
<path d="M34.3,406.9 36.3,406.5 38.3,405.7 40.3,404.4 42.3,403.4 44.3,402.4 46.3,401.4 48.3,400.3 50.3,399.1 52.3,397.7 54.3,396.1 56.3,394.2 58.3,392.1 60.3,389.7 62.3,386.8 64.3,383.7 66.3,380.3 68.3,376.8 70.3,373.2 72.3,369.5 74.3,365.9 76.3,362.2 78.3,358.3 80.3,353.9 82.3,348.9 84.3,343.4 86.3,337.1 88.3,329.5 90.3,320.2 92.3,310.6 94.3,301.4 96.3,291.7 98.3,280.4 100.3,267.7 102.3,254.9 104.3,241.9 106.3,229.1 108.3,216.9 110.3,205.3 112.3,195 114.3,184.9 116.3,175 118.3,165.9 120.3,157.9 122.3,152.1 124.3,149.8 126.3,150.9 128.3,155.2 130.3,162.3 132.3,171.9 134.3,183.5 136.3,196.5 138.3,210.4 140.3,224.6 142.3,238.7 144.3,252.1 146.3,264.6 148.3,275.8 150.3,285.7 152.3,294.3 154.3,301.4 156.3,307.3 158.3,312 160.3,315.7 162.3,318.6 164.3,320.8 166.3,322.3 168.3,323.5 170.3,324.3 172.3,324.9 174.3,325.1 176.3,324.7 178.3,324.4 180.3,324.1 182.3,323.6 184.3,322.8 186.3,321.6 188.3,320 190.3,318 192.3,315.7 194.3,313.6 196.3,311.6 198.3,309.9 200.3,308.1 202.3,306.2 204.3,304.3 206.3,302.4 208.3,300.6 210.3,298.9 212.3,297.5 214.3,296.4 216.3,295.5 218.3,294.7 220.3,294.2 222.3,293.7 224.3,293.4 226.3,293.1 228.3,292.9 230.3,292.7 232.3,292.6 234.3,292.5 236.3,292.6 238.3,292.7 240.3,293 242.3,293.4 244.3,293.8 246.3,294.4 248.3,295.1 250.3,295.9 252.3,296.8 254.3,297.9 256.3,299 258.3,300.2 260.3,301.5 262.3,303.2 264.3,304.8 266.3,306.2 268.3,307.6 270.3,309.1 272.3,310.6 274.3,311.9 276.3,313.1 278.3,314.2 280.3,315.1 282.3,315.9 284.3,316.7 286.3,317.4 288.3,318 290.3,318.6 292.3,319.1 294.3,319.5 296.3,319.9 298.3,320.3 300.3,320.5 302.3,320.7 304.3,320.9 306.3,321 308.3,321.1 310.3,321.1 312.3,321.1 314.3,321.1 316.3,321.1 318.3,321.1 320.3,321.2 322.3,321.2 324.3,321.2 326.3,321.3 328.3,321.4 330.3,321.5 332.3,321.7 334.3,321.8 336.3,322 338.3,322.2 340.3,322.3 342.3,322.5 344.3,322.7 346.3,323 348.3,323.2 350.3,323.5 352.3,323.7 354.3,324 356.3,324.3 358.3,324.7 360.3,325.1 362.3,325.5 364.3,326 366.3,326.5 368.3,327.1 370.3,327.7 372.3,328.3 374.3,328.9 376.3,329.6 378.3,330.2 380.3,330.8 382.3,331.3 384.3,331.9 386.3,332.3 388.3,332.7 390.3,333 392.3,333.2 394.3,333.3 396.3,333.3 398.3,333.2 400.3,333 402.3,332.7 404.3,332.3 406.3,331.9 408.3,331.4 410.3,330.9 412.3,330.3 414.3,329.5 416.3,328.6 418.3,327.6 420.3,326.6 422.3,325.6 424.3,324.7 426.3,323.9 428.3,323.2 430.3,322.6 432.3,322.1 434.3,321.6 436.3,321.1 438.3,320.7 440.3,320.3 442.3,320 444.3,319.7 446.3,319.4 448.3,319.3 450.3,319.2 452.3,319.3 454.3,319.5 456.3,319.8 458.3,320.2 460.3,320.6 462.3,321.1 464.3,321.7 466.3,322.4 468.3,323.1 470.3,323.9 472.3,324.8 474.3,325.9 476.3,327.2 478.3,328.5 480.3,329.9 482.3,331.2 484.3,332.5 486.3,333.7 488.3,334.7 490.3,335.8 492.3,336.8 494.3,337.8 496.3,338.7 498.3,339.7 500.3,340.5 502.3,341.3 504.3,342 506.3,342.7 508.3,343.3 510.3,343.9 512.3,344.4 514.3,344.9 516.3,345.5 517.6,345.8" stroke="#3b1e6e" stroke-opacity="1" stroke-width="2.2" fill="none"/>
<path d="M56,404.8 58,404.5 60,404.2 62,403.9 64,403.6 66,403.3 68,402.9 70,402.6 72,402.2 74,401.7 76,401.3 78,400.7 80,400 82,399.2 84,398.3 86,397.3 88,396.2 90,395.1 92,393.8 94,392.5 96,391.1 98,389.6 100,388 102,386.3 104,384.5 106,382.5 108,380.1 110,377.3 112,374 114,370.2 116,365.9 118,361 120,355.7 122,350 124,343.7 126,336.7 128,329.2 130,322 132,315.2 134,308.5 136,301.8 138,295 140,288.3 142,281.5 144,274.7 146,268 148,261.4 150,254.9 152,248.3 154,241.7 156,234.9 158,228.2 160,222.1 162,216.6 164,211.5 166,206.6 168,202.1 170,197.7 172,193.6 174,189.7 176,186.1 178,182.6 180,179.4 182,176.4 184,173.7 186,171.3 188,169.1 190,167.1 192,165.2 194,163.4 196,161.8 198,160.4 200,159.2 202,158.2 204,157.1 206,155.9 208,154.7 210,153.6 212,152.6 214,151.8 216,151.1 218,150.5 220,150.1 222,149.7 224,149.5 226,149.6 228,149.6 230,149.7 232,150.2 234,151.4 236,153.5 238,156.1 240,159.3 242,163.1 244,167.9 246,173.4 248,178.6 250,183.3 252,188 254,192.6 256,197.4 258,202.3 260,207.6 262,213.2 264,218.9 266,224.4 268,230.3 270,235.7 272,240 274,244 276,247.9 278,251.6 280,255.1 282,258.4 284,261.5 286,264.5 288,267.2 290,269.9 292,272.5 294,275 296,277.4 298,279.8 300,282.1 302,284.3 304,286.4 306,288.4 308,290.3 310,292.1 312,293.7 314,295.2 316,296.6 318,298 320,299.3 322,300.6 324,301.9 326,303.2 328,304.6 330,306 332,307.6 334,309.2 336,310.8 338,312.4 340,314.1 342,315.7 344,317.4 346,319 348,320.5 350,322 352,323.4 354,324.8 356,326.2 358,327.5 360,328.8 362,330 364,331.3 366,332.5 368,333.8 370,335 372,336.3 374,337.5 376,338.8 378,340.1 380,341.3 382,342.6 384,343.7 386,344.9 388,346 390,347 392,348 394,348.9 396,349.7 398,350.5 400,351.3 402,352.1 404,352.8 406,353.5 408,354.3 410,355 412,355.8 414,356.5 416,357.3 418,358.1 420,358.8 422,359.5 424,360.2 426,360.8 428,361.4 430,362 432,362.6 434,363.1 436,363.6 438,364.1 440,364.6 442,365.1 444,365.5 446,366 448,366.5 450,366.9 452,367.3 454,367.8 456,368.2 458,368.6 460,369 462,369.4 464,369.8 466,370.2 468,370.5 470,370.9 472,371.2 474,371.6 476,371.9 478,372.2 480,372.5 482,372.8 484,373.1 486,373.4 488,373.7 490,374 492,374.3 494,374.5 496,374.8 498,375 500,375.2 502,375.4 504,375.7 506,375.9 508,376.1 510,376.3 512,376.5 514,376.7 516,376.9 518,377" stroke="#f0a30a" stroke-opacity="0.38" stroke-width="1.5" fill="none"/>
<path d="M58,401.4 60,400.3 62,399.1 64,397.7 66,396.2 68,394.7 70,393.1 72,391.4 74,389.6 76,387.9 78,386 80,384 82,381.9 84,379.7 86,377.3 88,374.8 90,372.1 92,369.2 94,366.1 96,362.5 98,358.5 100,354.1 102,349.6 104,344.2 106,338.1 108,331.4 110,324.6 112,318 114,311.8 116,305.8 118,299.8 120,294 122,288.3 124,282.8 126,277.3 128,272 130,266.8 132,261.8 134,256.8 136,252 138,247.4 140,242.9 142,238.5 144,234.2 146,230 148,225.8 150,221.7 152,217.8 154,213.9 156,210.2 158,206.7 160,203.2 162,199.9 164,196.7 166,193.5 168,190.4 170,187.3 172,184.3 174,181.5 176,178.7 178,176 180,173.5 182,171.2 184,169 186,167.1 188,165.3 190,163.6 192,162.1 194,160.6 196,159.4 198,158.2 200,157.1 202,156 204,154.9 206,154 208,153.1 210,152.2 212,151.4 214,150.7 216,150.1 218,149.7 220,149.5 222,149.6 224,149.7 226,149.9 228,150.3 230,151.1 232,152.3 234,153.8 236,155.7 238,158.1 240,161 242,164.4 244,168.1 246,172.1 248,176.2 250,180.7 252,185.3 254,190.1 256,194.9 258,199.9 260,205 262,210.1 264,215.2 266,220.4 268,225.4 270,230.1 272,234.4 274,238.5 276,242.5 278,246.3 280,250 282,253.6 284,257.2 286,260.6 288,263.8 290,267 292,270 294,273 296,275.9 298,278.8 300,281.5 302,284.2 304,286.6 306,288.9 308,291.1 310,293 312,294.9 314,296.6 316,298.2 318,299.8 320,301.3 322,302.8 324,304.3 326,305.8 328,307.2 330,308.5 332,309.8 334,311.1 336,312.4 338,313.6 340,314.9 342,316.1 344,317.4 346,318.7 348,320 350,321.3 352,322.6 354,323.9 356,325.2 358,326.5 360,327.8 362,329.1 364,330.3 366,331.6 368,332.8 370,334 372,335.2 374,336.4 376,337.6 378,338.8 380,340 382,341.1 384,342.2 386,343.4 388,344.4 390,345.5 392,346.5 394,347.5 396,348.5 398,349.4 400,350.3 402,351.2 404,352 406,352.9 408,353.6 410,354.4 412,355.2 414,355.9 416,356.6 418,357.3 420,358 422,358.7 424,359.3 426,359.9 428,360.5 430,361.1 432,361.7 434,362.2 436,362.8 438,363.3 440,363.8 442,364.3 444,364.8 446,365.2 448,365.7 450,366.2 452,366.6 454,367 456,367.4 458,367.8 460,368.2 462,368.6 464,369 466,369.3 468,369.7 470,370 472,370.3 474,370.7 476,371 478,371.3 480,371.6 482,371.9 484,372.1 486,372.4 488,372.7 490,372.9 492,373.2 494,373.4 496,373.6 498,373.8 500,374 502,374.2 504,374.4 506,374.6 508,374.7 510,374.9 512,375.1 514,375.2 516,375.4 518,375.5" stroke="#f0a30a" stroke-opacity="0.38" stroke-width="1.5" fill="none"/>
<path d="M58,405 60,404.7 62,404.4 64,404.1 66,403.8 68,403.5 70,403.2 72,402.8 74,402.5 76,402 78,401.6 80,401 82,400.3 84,399.6 86,398.7 88,397.8 90,396.8 92,395.6 94,394.4 96,393 98,391.5 100,389.8 102,387.9 104,385.9 106,383.5 108,381 110,378.2 112,375.1 114,371.6 116,367.9 118,364 120,359.9 122,355.3 124,350.4 126,345 128,339 130,332.2 132,325.3 134,318.9 136,312.6 138,306.3 140,300.1 142,293.6 144,287.1 146,280.9 148,275.4 150,270.6 152,266.2 154,262.1 156,258.1 158,254.2 160,250.6 162,247.1 164,243.7 166,240.4 168,237.2 170,234.1 172,231.1 174,228.3 176,225.6 178,223.1 180,220.4 182,217.6 184,214.5 186,211.3 188,207.8 190,204.3 192,200.7 194,197.1 196,193.4 198,189.6 200,185.7 202,181.8 204,178.1 206,174.6 208,171.1 210,167.8 212,164.6 214,161.7 216,159 218,156.6 220,154.5 222,152.9 224,151.5 226,150.5 228,149.9 230,149.5 232,149.5 234,150 236,151.1 238,153 240,155.5 242,158.5 244,161.9 246,165.9 248,170.4 250,175.1 252,180.1 254,185.4 256,190.7 258,196.1 260,201.6 262,207.3 264,212.8 266,218.1 268,223.3 270,228.4 272,233.3 274,237.9 276,242.1 278,246 280,249.6 282,253.2 284,256.5 286,259.8 288,263 290,266.1 292,269.1 294,272.1 296,274.9 298,277.7 300,280.3 302,282.7 304,285 306,287.1 308,289.1 310,290.9 312,292.7 314,294.4 316,296 318,297.6 320,299.2 322,300.7 324,302.3 326,303.8 328,305.3 330,306.8 332,308.3 334,309.7 336,311.1 338,312.4 340,313.8 342,315.1 344,316.4 346,317.7 348,319 350,320.2 352,321.5 354,322.7 356,323.9 358,325.1 360,326.3 362,327.5 364,328.6 366,329.8 368,330.9 370,332 372,333.2 374,334.3 376,335.4 378,336.5 380,337.5 382,338.6 384,339.6 386,340.7 388,341.7 390,342.7 392,343.6 394,344.6 396,345.5 398,346.4 400,347.3 402,348.1 404,349 406,349.8 408,350.6 410,351.4 412,352.2 414,352.9 416,353.6 418,354.3 420,355 422,355.7 424,356.3 426,357 428,357.6 430,358.1 432,358.7 434,359.2 436,359.8 438,360.3 440,360.8 442,361.3 444,361.8 446,362.3 448,362.7 450,363.2 452,363.6 454,364 456,364.4 458,364.8 460,365.2 462,365.6 464,365.9 466,366.3 468,366.7 470,367 472,367.4 474,367.7 476,368.1 478,368.4 480,368.8 482,369.1 484,369.4 486,369.7 488,370 490,370.3 492,370.6 494,370.9 496,371.1 498,371.4 500,371.6 502,371.8 504,371.9 506,372.1 508,372.3 510,372.4 512,372.6 514,372.7 516,372.9 518,373" stroke="#f0a30a" stroke-opacity="0.38" stroke-width="1.5" fill="none"/>
<path d="M58,402.3 60,401.4 62,400.5 64,399.5 66,398.4 68,397.2 70,395.9 72,394.6 74,393.3 76,391.9 78,390.4 80,388.8 82,387.1 84,385.3 86,383.3 88,381.2 90,379 92,376.6 94,374 96,371.1 98,367.8 100,364.3 102,360.6 104,356.3 106,351.4 108,346 110,340.4 112,334.8 114,329.3 116,323.8 118,318.2 120,312.5 122,306.8 124,301 126,295.1 128,289.1 130,283.3 132,277.7 134,272.3 136,266.9 138,261.6 140,256.4 142,251.3 144,246.3 146,241.3 148,236.4 150,231.6 152,226.9 154,222.2 156,217.5 158,213 160,208.8 162,204.8 164,201 166,197.3 168,193.8 170,190.3 172,187 174,183.9 176,180.8 178,177.9 180,175.1 182,172.6 184,170.4 186,168.3 188,166.4 190,164.6 192,162.9 194,161.4 196,160 198,158.7 200,157.6 202,156.5 204,155.5 206,154.4 208,153.5 210,152.5 212,151.6 214,150.9 216,150.3 218,149.8 220,149.6 222,149.5 224,149.5 226,149.7 228,150 230,150.6 232,151.6 234,153 236,154.9 238,157.4 240,160.4 242,163.9 244,167.9 246,172.4 248,176.8 250,181.4 252,186 254,190.7 256,195.6 258,200.6 260,205.7 262,210.9 264,216.2 266,221.5 268,226.8 270,231.7 272,236 274,240.1 276,244.1 278,247.8 280,251.5 282,255 284,258.4 286,261.7 288,264.8 290,267.8 292,270.7 294,273.5 296,276.3 298,279 300,281.6 302,284.1 304,286.5 306,288.7 308,290.8 310,292.7 312,294.5 314,296.1 316,297.7 318,299.2 320,300.7 322,302.1 324,303.5 326,304.9 328,306.3 330,307.7 332,309.1 334,310.5 336,311.9 338,313.2 340,314.6 342,316 344,317.3 346,318.7 348,320.1 350,321.5 352,322.8 354,324.1 356,325.4 358,326.8 360,328 362,329.3 364,330.6 366,331.8 368,333.1 370,334.3 372,335.5 374,336.7 376,337.9 378,339.1 380,340.3 382,341.5 384,342.7 386,343.8 388,344.9 390,345.9 392,346.9 394,347.9 396,348.8 398,349.7 400,350.6 402,351.4 404,352.2 406,353 408,353.8 410,354.6 412,355.3 414,356.1 416,356.8 418,357.5 420,358.2 422,358.9 424,359.6 426,360.2 428,360.8 430,361.4 432,361.9 434,362.5 436,363 438,363.5 440,364 442,364.5 444,365 446,365.5 448,365.9 450,366.4 452,366.8 454,367.2 456,367.6 458,368 460,368.4 462,368.8 464,369.2 466,369.6 468,369.9 470,370.3 472,370.6 474,370.9 476,371.2 478,371.5 480,371.8 482,372.1 484,372.4 486,372.7 488,373 490,373.2 492,373.5 494,373.7 496,374 498,374.2 500,374.4 502,374.6 504,374.8 506,374.9 508,375.1 510,375.3 512,375.5 514,375.6 516,375.8 518,375.9" stroke="#f0a30a" stroke-opacity="0.38" stroke-width="1.5" fill="none"/>
<path d="M58,403.6 60,402.9 62,402.3 64,401.6 66,400.9 68,400.1 70,399.2 72,398.3 74,397.4 76,396.4 78,395.3 80,394.2 82,393 84,391.6 86,390.1 88,388.5 90,386.8 92,384.9 94,383 96,380.8 98,378.4 100,375.8 102,373 104,370.1 106,366.6 108,362.7 110,358.4 112,353.9 114,349.3 116,344.4 118,339.2 120,333.8 122,328.2 124,322.4 126,316.2 128,309.6 130,303.1 132,296.8 134,290.8 136,284.8 138,278.9 140,273 142,267.1 144,261.3 146,255.6 148,249.9 150,244.3 152,238.8 154,233.3 156,227.7 158,222.2 160,216.9 162,212.1 164,207.6 166,203.4 168,199.3 170,195.4 172,191.6 174,188.1 176,184.7 178,181.4 180,178.4 182,175.6 184,173 186,170.6 188,168.5 190,166.6 192,164.7 194,163 196,161.5 198,160.1 200,158.8 202,157.7 204,156.7 206,155.6 208,154.5 210,153.4 212,152.5 214,151.6 216,150.9 218,150.3 220,149.9 222,149.6 224,149.5 226,149.5 228,149.7 230,150 232,150.5 234,151.5 236,153.2 238,155.5 240,158.3 242,161.6 244,165.6 246,170.3 248,175.2 250,179.9 252,184.5 254,189.2 256,193.9 258,198.8 260,203.9 262,209.2 264,214.6 266,220 268,225.5 270,230.9 272,235.6 274,239.8 276,243.7 278,247.6 280,251.2 282,254.7 284,258.1 286,261.3 288,264.4 290,267.3 292,270.1 294,272.8 296,275.5 298,278.1 300,280.6 302,283 304,285.3 306,287.5 308,289.6 310,291.5 312,293.3 314,294.9 316,296.5 318,298 320,299.4 322,300.8 324,302.1 326,303.5 328,304.9 330,306.3 332,307.7 334,309.2 336,310.6 338,312.1 340,313.6 342,315.1 344,316.6 346,318.1 348,319.6 350,321 352,322.4 354,323.8 356,325.1 358,326.4 360,327.7 362,329 364,330.2 366,331.5 368,332.7 370,334 372,335.2 374,336.5 376,337.7 378,338.9 380,340.1 382,341.4 384,342.5 386,343.7 388,344.8 390,345.9 392,346.9 394,347.9 396,348.8 398,349.7 400,350.5 402,351.3 404,352.1 406,352.9 408,353.6 410,354.4 412,355.1 414,355.9 416,356.6 418,357.4 420,358.1 422,358.8 424,359.5 426,360.1 428,360.8 430,361.4 432,361.9 434,362.5 436,363 438,363.5 440,364 442,364.5 444,365 446,365.5 448,365.9 450,366.4 452,366.8 454,367.2 456,367.7 458,368.1 460,368.5 462,368.9 464,369.3 466,369.6 468,370 470,370.3 472,370.7 474,371 476,371.4 478,371.7 480,372 482,372.3 484,372.6 486,372.9 488,373.2 490,373.4 492,373.7 494,373.9 496,374.2 498,374.4 500,374.6 502,374.8 504,375 506,375.2 508,375.4 510,375.6 512,375.8 514,376 516,376.2 518,376.3" stroke="#f0a30a" stroke-opacity="0.38" stroke-width="1.5" fill="none"/>
<path d="M56,404.9 58,404.8 60,404.4 62,404.2 64,403.9 66,403.5 68,403.2 70,402.9 72,402.5 74,402.1 76,401.6 78,401.1 80,400.5 82,399.8 84,398.9 86,398 88,397 90,395.9 92,394.7 94,393.4 96,392 98,390.5 100,388.9 102,387.1 104,385.2 106,383 108,380.5 110,377.7 112,374.5 114,370.9 116,366.9 118,362.5 120,357.7 122,352.7 124,347 126,340.8 128,334.1 130,327.1 132,320.2 134,313.6 136,307.1 138,300.6 140,294.1 142,287.5 144,280.8 146,274.4 148,268.4 150,262.7 152,257.2 154,251.8 156,246.4 158,241.1 160,236.2 162,231.7 164,227.5 166,223.4 168,219.5 170,215.8 172,212.3 174,208.9 176,205.8 178,202.7 180,199.8 182,196.9 184,194 186,191.2 188,188.4 190,185.6 192,182.8 194,180.1 196,177.5 198,174.9 200,172.3 202,169.9 204,167.5 206,165.1 208,162.8 210,160.5 212,158.5 214,156.6 216,154.9 218,153.5 220,152.2 222,151.1 224,150.4 226,149.9 228,149.6 230,149.5 232,149.7 234,150.6 236,152.2 238,154.4 240,157.3 242,160.7 244,164.8 246,169.5 248,174.4 250,179.1 252,183.9 254,188.9 256,193.9 258,199.1 260,204.5 262,210.2 264,215.8 266,221.2 268,226.7 270,232 272,236.6 274,240.9 276,244.9 278,248.7 280,252.3 282,255.7 284,259 286,262.1 288,265 290,267.9 292,270.7 294,273.5 296,276.1 298,278.7 300,281.1 302,283.4 304,285.6 306,287.7 308,289.6 310,291.4 312,293.1 314,294.7 316,296.3 318,297.7 320,299.2 322,300.6 324,302 326,303.5 328,304.9 330,306.4 332,307.9 334,309.4 336,310.9 338,312.4 340,313.9 342,315.4 344,316.8 346,318.3 348,319.7 350,321.1 352,322.4 354,323.7 356,325 358,326.2 360,327.5 362,328.7 364,329.9 366,331.1 368,332.3 370,333.5 372,334.7 374,335.9 376,337.1 378,338.2 380,339.4 382,340.5 384,341.7 386,342.7 388,343.8 390,344.8 392,345.8 394,346.7 396,347.6 398,348.4 400,349.3 402,350.1 404,350.9 406,351.6 408,352.4 410,353.2 412,353.9 414,354.7 416,355.4 418,356.2 420,356.9 422,357.6 424,358.2 426,358.9 428,359.5 430,360.1 432,360.6 434,361.1 436,361.7 438,362.2 440,362.7 442,363.2 444,363.6 446,364.1 448,364.6 450,365 452,365.4 454,365.9 456,366.3 458,366.7 460,367.1 462,367.5 464,367.8 466,368.2 468,368.6 470,368.9 472,369.3 474,369.6 476,370 478,370.3 480,370.6 482,371 484,371.3 486,371.6 488,371.9 490,372.2 492,372.4 494,372.7 496,372.9 498,373.2 500,373.4 502,373.6 504,373.8 506,374 508,374.2 510,374.3 512,374.5 514,374.7 516,374.9 518,375" stroke="#f0a30a" stroke-opacity="0.38" stroke-width="1.5" fill="none"/>
<path d="M58,403.2 60,402.5 62,401.7 64,400.9 66,400 68,399.1 70,398.1 72,397.1 74,396 76,394.9 78,393.8 80,392.5 82,391.1 84,389.6 86,388 88,386.3 90,384.4 92,382.4 94,380.2 96,377.7 98,374.9 100,371.9 102,368.7 104,365 106,360.7 108,356.1 110,351.3 112,346.4 114,341.6 116,336.7 118,331.8 120,326.8 122,321.7 124,316.4 126,311 128,305.3 130,299.3 132,293.3 134,287.6 136,282 138,276.6 140,271.2 142,265.7 144,260.3 146,255.1 148,250.3 150,245.8 152,241.7 154,237.6 156,233.8 158,230.1 160,226.5 162,223.1 164,219.8 166,216.5 168,213.4 170,210.3 172,207.3 174,204.4 176,201.7 178,199.1 180,196.5 182,193.9 184,191.3 186,188.7 188,186.1 190,183.5 192,180.9 194,178.4 196,175.9 198,173.4 200,170.9 202,168.4 204,166 206,163.7 208,161.5 210,159.4 212,157.5 214,155.6 216,154 218,152.6 220,151.5 222,150.6 224,150 226,149.6 228,149.5 230,149.7 232,150.3 234,151.3 236,152.9 238,155 240,157.7 242,160.9 244,164.5 246,168.5 248,172.8 250,177.4 252,182.2 254,187.2 256,192.3 258,197.6 260,202.9 262,208.2 264,213.6 266,218.8 268,223.9 270,228.8 272,233.5 274,237.8 276,241.9 278,245.8 280,249.5 282,253.1 284,256.5 286,259.9 288,263.1 290,266.2 292,269.3 294,272.2 296,275.1 298,278 300,280.6 302,283.2 304,285.5 306,287.8 308,289.8 310,291.7 312,293.5 314,295.2 316,296.9 318,298.5 320,300 322,301.5 324,303.1 326,304.6 328,306 330,307.5 332,308.8 334,310.2 336,311.5 338,312.8 340,314.1 342,315.4 344,316.7 346,318 348,319.3 350,320.6 352,321.8 354,323.1 356,324.4 358,325.6 360,326.9 362,328.1 364,329.3 366,330.5 368,331.7 370,332.9 372,334 374,335.2 376,336.3 378,337.5 380,338.6 382,339.7 384,340.8 386,341.9 388,342.9 390,343.9 392,344.9 394,345.9 396,346.9 398,347.8 400,348.7 402,349.5 404,350.4 406,351.2 408,352 410,352.8 412,353.5 414,354.3 416,355 418,355.7 420,356.4 422,357.1 424,357.7 426,358.3 428,358.9 430,359.5 432,360.1 434,360.6 436,361.2 438,361.7 440,362.2 442,362.7 444,363.2 446,363.7 448,364.1 450,364.6 452,365 454,365.4 456,365.8 458,366.2 460,366.6 462,367 464,367.4 466,367.7 468,368.1 470,368.4 472,368.8 474,369.1 476,369.5 478,369.8 480,370.1 482,370.4 484,370.7 486,371 488,371.3 490,371.5 492,371.8 494,372.1 496,372.3 498,372.5 500,372.7 502,372.9 504,373.1 506,373.3 508,373.4 510,373.6 512,373.8 514,373.9 516,374.1 518,374.2" stroke="#f0a30a" stroke-opacity="0.38" stroke-width="1.5" fill="none"/>
<path d="M58,402.7 60,401.8 62,400.9 64,399.9 66,398.7 68,397.5 70,396.2 72,394.9 74,393.5 76,392.1 78,390.6 80,389.1 82,387.4 84,385.6 86,383.7 88,381.6 90,379.4 92,377 94,374.5 96,371.6 98,368.4 100,364.8 102,361 104,356.9 106,352 108,346.6 110,340.8 112,335 114,329.4 116,323.9 118,318.4 120,313 122,307.6 124,302.2 126,296.7 128,291.3 130,285.7 132,280.1 134,274.7 136,269.4 138,264.3 140,259.3 142,254.4 144,249.5 146,244.7 148,240.1 150,235.7 152,231.5 154,227.5 156,223.7 158,219.9 160,216.4 162,213 164,209.6 166,206.4 168,203.2 170,200.1 172,197.1 174,194.1 176,191.3 178,188.6 180,186 182,183.5 184,181.1 186,178.8 188,176.5 190,174.4 192,172.3 194,170.2 196,168.3 198,166.4 200,164.6 202,162.8 204,161 206,159.4 208,157.8 210,156.3 212,154.8 214,153.5 216,152.3 218,151.3 220,150.5 222,150 224,149.7 226,149.5 228,149.5 230,149.8 232,150.5 234,151.6 236,153.1 238,155.1 240,157.6 242,160.7 244,164.2 246,168 248,172.1 250,176.5 252,181.1 254,186 256,190.9 258,196 260,201.1 262,206.3 264,211.5 266,216.8 268,222 270,226.9 272,231.5 274,235.9 276,240.1 278,244 280,247.8 282,251.4 284,254.9 286,258.4 288,261.7 290,264.9 292,268 294,271 296,273.9 298,276.8 300,279.6 302,282.3 304,284.8 306,287.1 308,289.3 310,291.3 312,293.2 314,294.9 316,296.6 318,298.2 320,299.8 322,301.3 324,302.8 326,304.3 328,305.8 330,307.2 332,308.6 334,309.9 336,311.2 338,312.5 340,313.8 342,315 344,316.3 346,317.6 348,318.9 350,320.2 352,321.5 354,322.8 356,324 358,325.3 360,326.6 362,327.9 364,329.1 366,330.3 368,331.6 370,332.8 372,334 374,335.1 376,336.3 378,337.5 380,338.6 382,339.8 384,340.9 386,342 388,343.1 390,344.1 392,345.2 394,346.2 396,347.1 398,348.1 400,349 402,349.9 404,350.7 406,351.6 408,352.4 410,353.2 412,353.9 414,354.7 416,355.4 418,356.1 420,356.8 422,357.5 424,358.2 426,358.8 428,359.4 430,360 432,360.6 434,361.1 436,361.7 438,362.2 440,362.7 442,363.2 444,363.7 446,364.2 448,364.6 450,365.1 452,365.5 454,366 456,366.4 458,366.8 460,367.2 462,367.6 464,367.9 466,368.3 468,368.7 470,369 472,369.4 474,369.7 476,370 478,370.3 480,370.6 482,370.9 484,371.2 486,371.5 488,371.8 490,372.1 492,372.3 494,372.6 496,372.8 498,373 500,373.2 502,373.4 504,373.6 506,373.8 508,374 510,374.1 512,374.3 514,374.5 516,374.6 518,374.8" stroke="#f0a30a" stroke-opacity="0.38" stroke-width="1.5" fill="none"/>
<path d="M58,404.1 60,403.8 62,403.5 64,403.1 66,402.8 68,402.4 70,402 72,401.5 74,401 76,400.3 78,399.6 80,398.7 82,397.8 84,396.8 86,395.7 88,394.4 90,393.2 92,391.8 94,390.3 96,388.8 98,387.2 100,385.4 102,383.5 104,381.3 106,378.7 108,375.7 110,372.2 112,368.1 114,363.5 116,358.4 118,352.9 120,347 122,340.3 124,332.9 126,325.6 128,318.6 130,311.8 132,305.1 134,298.4 136,291.6 138,284.9 140,278.1 142,271.4 144,264.7 146,258.1 148,251.6 150,245 152,238.3 154,231.5 156,225 158,219.2 160,214 162,209 164,204.3 166,199.8 168,195.6 170,191.7 172,187.9 174,184.3 176,180.9 178,177.9 180,175.1 182,172.5 184,170.2 186,168.1 188,166.1 190,164.2 192,162.6 194,161.1 196,159.8 198,158.7 200,157.6 202,156.5 204,155.3 206,154.1 208,153 210,152.1 212,151.4 214,150.8 216,150.3 218,149.9 220,149.6 222,149.5 224,149.6 226,149.6 228,149.9 230,150.7 232,152.4 234,154.7 236,157.7 238,161.1 240,165.3 242,170.6 244,176 246,181 248,185.6 250,190.3 252,195 254,199.8 256,204.9 258,210.4 260,216.1 262,221.7 264,227.3 266,233.1 268,237.9 270,242 272,246 274,249.7 276,253.3 278,256.7 280,260 282,263 284,265.9 286,268.6 288,271.2 290,273.8 292,276.2 294,278.6 296,280.9 298,283.2 300,285.3 302,287.4 304,289.4 306,291.2 308,292.9 310,294.5 312,295.9 314,297.3 316,298.6 318,299.9 320,301.2 322,302.5 324,303.9 326,305.3 328,306.8 330,308.4 332,310 334,311.6 336,313.3 338,314.9 340,316.6 342,318.2 344,319.8 346,321.3 348,322.7 350,324.1 352,325.5 354,326.8 356,328.1 358,329.4 360,330.7 362,331.9 364,333.2 366,334.4 368,335.6 370,336.9 372,338.2 374,339.4 376,340.7 378,341.9 380,343.1 382,344.3 384,345.4 386,346.5 388,347.5 390,348.4 392,349.3 394,350.1 396,350.9 398,351.7 400,352.4 402,353.2 404,353.9 406,354.6 408,355.4 410,356.2 412,356.9 414,357.7 416,358.4 418,359.2 420,359.9 422,360.5 424,361.1 426,361.7 428,362.3 430,362.8 432,363.3 434,363.9 436,364.4 438,364.8 440,365.3 442,365.8 444,366.2 446,366.7 448,367.1 450,367.6 452,368 454,368.4 456,368.8 458,369.2 460,369.6 462,370 464,370.3 466,370.7 468,371.1 470,371.4 472,371.7 474,372.1 476,372.4 478,372.7 480,373 482,373.3 484,373.6 486,373.9 488,374.1 490,374.4 492,374.7 494,374.9 496,375.1 498,375.3 500,375.5 502,375.8 504,376 506,376.2 508,376.4 510,376.6 512,376.8 514,377 516,377 518,377" stroke="#f0a30a" stroke-opacity="0.38" stroke-width="1.5" fill="none"/>
<path d="M56,402.3 58,401.4 60,400.3 62,399.2 64,398 66,396.6 68,395.2 70,393.7 72,392.2 74,390.7 76,389 78,387.3 80,385.5 82,383.5 84,381.4 86,379.2 88,376.8 90,374.3 92,371.5 94,368.5 96,365 98,361.2 100,357.1 102,352.8 104,347.6 106,341.8 108,335.6 110,329.4 112,323.5 114,317.7 116,311.9 118,306.1 120,300.4 122,294.7 124,289.1 126,283.4 128,277.8 130,272.4 132,267.1 134,262 136,257 138,252.1 140,247.3 142,242.5 144,237.9 146,233.4 148,228.9 150,224.5 152,220.2 154,215.9 156,211.8 158,207.9 160,204.2 162,200.6 164,197.1 166,193.7 168,190.4 170,187.2 172,184.2 174,181.2 176,178.3 178,175.6 180,173.1 182,170.8 184,168.7 186,166.7 188,164.9 190,163.3 192,161.7 194,160.3 196,159 198,157.9 200,156.8 202,155.7 204,154.7 206,153.7 208,152.8 210,151.9 212,151.1 214,150.4 216,149.9 218,149.6 220,149.5 222,149.6 224,149.7 226,149.9 228,150.4 230,151.3 232,152.6 234,154.3 236,156.4 238,159.1 240,162.3 242,166 244,170.1 246,174.3 248,178.8 250,183.3 252,188 254,192.8 256,197.7 258,202.8 260,207.9 262,213.1 264,218.3 266,223.5 268,228.5 270,233.1 272,237.3 274,241.3 276,245.2 278,248.9 280,252.5 282,256.1 284,259.5 286,262.7 288,265.9 290,268.9 292,271.8 294,274.7 296,277.5 298,280.3 300,282.9 302,285.4 304,287.7 306,289.9 308,291.9 310,293.8 312,295.5 314,297.2 316,298.7 318,300.2 320,301.7 322,303.2 324,304.6 326,306.1 328,307.4 330,308.8 332,310.1 334,311.4 336,312.8 338,314.1 340,315.4 342,316.7 344,318 346,319.4 348,320.7 350,322 352,323.3 354,324.7 356,326 358,327.3 360,328.5 362,329.8 364,331.1 366,332.3 368,333.5 370,334.8 372,336 374,337.2 376,338.4 378,339.6 380,340.7 382,341.9 384,343 386,344.1 388,345.2 390,346.2 392,347.2 394,348.2 396,349.1 398,350 400,350.9 402,351.7 404,352.5 406,353.3 408,354.1 410,354.9 412,355.6 414,356.4 416,357.1 418,357.8 420,358.5 422,359.1 424,359.8 426,360.4 428,361 430,361.5 432,362.1 434,362.6 436,363.1 438,363.6 440,364.1 442,364.6 444,365.1 446,365.6 448,366 450,366.5 452,366.9 454,367.3 456,367.7 458,368.1 460,368.5 462,368.9 464,369.3 466,369.6 468,370 470,370.3 472,370.6 474,370.9 476,371.3 478,371.6 480,371.9 482,372.1 484,372.4 486,372.7 488,372.9 490,373.2 492,373.4 494,373.7 496,373.9 498,374.1 500,374.3 502,374.5 504,374.7 506,374.8 508,375 510,375.2 512,375.3 514,375.5 516,375.7 518,375.7" stroke="#f0a30a" stroke-opacity="0.38" stroke-width="1.5" fill="none"/>
<path d="M58,404.6 60,404.3 62,404 64,403.7 66,403.4 68,403.1 70,402.7 72,402.3 74,401.9 76,401.4 78,400.9 80,400.2 82,399.5 84,398.6 86,397.7 88,396.6 90,395.5 92,394.3 94,393 96,391.7 98,390.3 100,388.7 102,387.1 104,385.3 106,383.3 108,380.8 110,377.9 112,374.6 114,370.6 116,366.1 118,361.2 120,355.9 122,350.3 124,344 126,337.1 128,329.8 130,322.8 132,316.1 134,309.5 136,303 138,296.5 140,289.9 142,283.3 144,276.7 146,270.2 148,263.7 150,257.3 152,250.9 154,244.4 156,237.8 158,231.4 160,225.4 162,220 164,214.8 166,210 168,205.3 170,200.8 172,196.6 174,192.7 176,188.9 178,185.4 180,182.1 182,179 184,176 186,173.3 188,170.7 190,168.4 192,166.3 194,164.4 196,162.7 198,161.1 200,159.8 202,158.6 204,157.4 206,156.1 208,154.9 210,153.8 212,152.8 214,152 216,151.3 218,150.7 220,150.2 222,149.8 224,149.5 226,149.5 228,149.5 230,149.5 232,149.9 234,150.7 236,152.2 238,154.3 240,156.8 242,159.8 244,163.6 246,168 248,172.2 250,176.1 252,179.8 254,183.6 256,187.3 258,191.2 260,195.2 262,199.5 264,203.8 266,208 268,212.5 270,216.7 272,220.2 274,223.5 276,226.8 278,230.1 280,233.2 282,236.3 284,239.1 286,241.8 288,244.5 290,247 292,249.5 294,251.9 296,254.3 298,256.7 300,259 302,261.2 304,263.3 306,265.4 308,267.5 310,269.4 312,271.3 314,273.1 316,274.8 318,276.6 320,278.4 322,280.2 324,281.9 326,283.7 328,285.4 330,287.2 332,288.9 334,290.7 336,292.6 338,294.4 340,296.2 342,298 344,299.8 346,301.6 348,303.4 350,305.2 352,306.9 354,308.7 356,310.4 358,312.1 360,313.7 362,315.3 364,316.9 366,318.5 368,320.2 370,321.8 372,323.4 374,325 376,326.6 378,328.2 380,329.8 382,331.4 384,333 386,334.5 388,336 390,337.4 392,338.8 394,340.2 396,341.4 398,342.7 400,343.9 402,345.1 404,346.3 406,347.4 408,348.6 410,349.8 412,350.8 414,351.8 416,352.8 418,353.7 420,354.5 422,355.3 424,356.1 426,356.8 428,357.5 430,358.1 432,358.7 434,359.3 436,359.8 438,360.4 440,360.9 442,361.4 444,361.9 446,362.4 448,362.9 450,363.3 452,363.8 454,364.2 456,364.7 458,365.1 460,365.5 462,365.9 464,366.3 466,366.7 468,367 470,367.4 472,367.7 474,368.1 476,368.4 478,368.8 480,369.1 482,369.4 484,369.7 486,370 488,370.3 490,370.6 492,370.9 494,371.2 496,371.4 498,371.7 500,371.9 502,372.1 504,372.4 506,372.6 508,372.8 510,373 512,373.2 514,373.4 516,373.6 518,373.7" stroke="#f0a30a" stroke-opacity="0.38" stroke-width="1.5" fill="none"/>
<path d="M58,403.4 60,402.7 62,402 64,401.2 66,400.4 68,399.5 70,398.6 72,397.6 74,396.6 76,395.5 78,394.4 80,393.1 82,391.8 84,390.4 86,388.8 88,387.2 90,385.4 92,383.5 94,381.5 96,379.2 98,376.7 100,374 102,371 104,367.8 106,364 108,359.6 110,354.7 112,349.7 114,344.5 116,339.1 118,333.5 120,328.1 122,322.5 124,316.7 126,310.8 128,304.8 130,298.8 132,293 134,287.4 136,282 138,276.6 140,271.4 142,266.1 144,260.9 146,255.8 148,250.7 150,245.6 152,240.6 154,235.6 156,230.8 158,226.1 160,221.6 162,217.1 164,212.9 166,208.7 168,204.5 170,200.5 172,196.7 174,193.1 176,189.7 178,186.4 180,183.3 182,180.3 184,177.3 186,174.4 188,171.7 190,169.1 192,166.9 194,164.9 196,163.1 198,161.4 200,159.9 202,158.5 204,157.1 206,155.9 208,154.8 210,153.7 212,152.8 214,151.9 216,151.1 218,150.5 220,150 222,149.8 224,149.6 226,149.5 228,149.5 230,149.7 232,150.2 234,150.7 236,151.5 238,152.6 240,154.1 242,156 244,158.2 246,160.7 248,163.3 250,166 252,168.9 254,171.7 256,174.5 258,177.3 260,180 262,182.7 264,185.3 266,188.1 268,190.8 270,193.5 272,196.1 274,198.8 276,201.6 278,204.5 280,207.4 282,210.2 284,213 286,215.8 288,218.5 290,221.2 292,223.9 294,226.5 296,229.1 298,231.7 300,234.2 302,236.7 304,239.2 306,241.5 308,243.8 310,246 312,248.2 314,250.4 316,252.6 318,254.9 320,257.2 322,259.6 324,261.9 326,264.2 328,266.4 330,268.5 332,270.4 334,272.3 336,274.1 338,275.9 340,277.7 342,279.5 344,281.3 346,283.1 348,285 350,286.9 352,288.9 354,291 356,293 358,295.1 360,297.1 362,299.1 364,301.1 366,303 368,305 370,307 372,308.9 374,310.9 376,312.8 378,314.7 380,316.6 382,318.6 384,320.5 386,322.4 388,324.2 390,326.1 392,328 394,329.8 396,331.6 398,333.4 400,335.1 402,336.8 404,338.5 406,340.1 408,341.8 410,343.4 412,344.9 414,346.2 416,347.4 418,348.4 420,349.4 422,350.3 424,351.1 426,351.9 428,352.7 430,353.4 432,354.1 434,354.7 436,355.3 438,355.9 440,356.5 442,357.1 444,357.6 446,358.2 448,358.7 450,359.2 452,359.6 454,360.1 456,360.5 458,360.9 460,361.3 462,361.7 464,362.1 466,362.5 468,362.9 470,363.3 472,363.6 474,364 476,364.3 478,364.7 480,365 482,365.3 484,365.6 486,365.9 488,366.2 490,366.5 492,366.8 494,367.1 496,367.3 498,367.6 500,367.8 502,368.1 504,368.3 506,368.5 508,368.7 510,368.9 512,369.1 514,369.3 516,369.5 518,369.7" stroke="#f0a30a" stroke-opacity="0.38" stroke-width="1.5" fill="none"/>
<path d="M56,404.8 58,404.5 60,404.3 62,404 64,403.8 66,403.5 68,403.2 70,402.8 72,402.5 74,402.1 76,401.6 78,401.1 80,400.4 82,399.6 84,398.8 86,397.9 88,396.9 90,395.9 92,394.8 94,393.6 96,392.3 98,391 100,389.5 102,387.9 104,386 106,383.7 108,380.9 110,377.6 112,373.7 114,369.2 116,364.3 118,359.2 120,353.7 122,347.8 124,341.4 126,334.6 128,327.7 130,321.1 132,314.8 134,308.7 136,302.5 138,296.4 140,290.2 142,284 144,277.8 146,271.7 148,265.5 150,259.3 152,253.1 154,247 156,241.1 158,235.3 160,229.7 162,224.5 164,219.4 166,214.4 168,209.6 170,205 172,200.8 174,196.9 176,193.2 178,189.7 180,186.2 182,182.7 184,179.2 186,175.9 188,172.9 190,170.2 192,167.9 194,165.8 196,163.8 198,162.1 200,160.5 202,159 204,157.6 206,156.3 208,155.2 210,154.1 212,153.1 214,152.3 216,151.6 218,151 220,150.5 222,150.1 224,149.8 226,149.7 228,149.6 230,149.5 232,149.5 234,149.8 236,150.4 238,151.4 240,152.8 242,154.5 244,156.6 246,158.8 248,160.9 250,162.9 252,164.8 254,166.6 256,168.3 258,169.9 260,171.5 262,173 264,174.6 266,176.3 268,178.1 270,179.9 272,181.8 274,183.9 276,186.2 278,188.6 280,191 282,193.4 284,195.7 286,198 288,200.3 290,202.6 292,204.9 294,207.2 296,209.5 298,211.8 300,214.1 302,216.3 304,218.6 306,220.8 308,223.1 310,225.4 312,227.7 314,230.2 316,232.7 318,235.4 320,238.1 322,240.8 324,243.5 326,246 328,248.4 330,250.7 332,252.9 334,255.1 336,257.3 338,259.5 340,261.7 342,263.8 344,266 346,268.2 348,270.5 350,272.8 352,275.3 354,277.7 356,280.1 358,282.5 360,284.8 362,287.2 364,289.5 366,291.9 368,294.2 370,296.5 372,298.8 374,301.2 376,303.5 378,305.8 380,308.1 382,310.4 384,312.7 386,315 388,317.2 390,319.5 392,321.7 394,323.9 396,326 398,328.2 400,330.2 402,332.3 404,334.3 406,336.3 408,338.4 410,340.2 412,341.8 414,343.2 416,344.4 418,345.5 420,346.5 422,347.5 424,348.4 426,349.2 428,350 430,350.7 432,351.4 434,352.1 436,352.7 438,353.3 440,353.9 442,354.5 444,355 446,355.6 448,356 450,356.5 452,357 454,357.4 456,357.9 458,358.3 460,358.7 462,359.1 464,359.5 466,359.9 468,360.3 470,360.7 472,361 474,361.4 476,361.7 478,362.1 480,362.4 482,362.8 484,363.1 486,363.4 488,363.7 490,364 492,364.3 494,364.6 496,364.9 498,365.2 500,365.4 502,365.7 504,365.9 506,366.2 508,366.4 510,366.6 512,366.8 514,367 516,367.2 518,367.2" stroke="#f0a30a" stroke-opacity="0.38" stroke-width="1.5" fill="none"/>
<path d="M58,404.7 60,404.5 62,404.2 64,404 66,403.7 68,403.5 70,403.2 72,402.8 74,402.5 76,402.1 78,401.6 80,401 82,400.3 84,399.6 86,398.7 88,397.9 90,396.9 92,395.9 94,394.8 96,393.6 98,392.4 100,391 102,389.5 104,387.8 106,385.7 108,383.1 110,380 112,376.4 114,372 116,367.1 118,362.1 120,356.9 122,351.2 124,345.1 126,338.7 128,332 130,325.3 132,319.1 134,313 136,307.1 138,301.2 140,295.2 142,289.2 144,283.2 146,277.2 148,271.2 150,265.2 152,259.1 154,253.2 156,247.4 158,241.8 160,236.3 162,230.9 164,225.8 166,220.6 168,215.7 170,210.9 172,206.4 174,202.3 176,198.4 178,194.8 180,191.2 182,187.6 184,183.8 186,180 188,176.5 190,173.4 192,170.8 194,168.4 196,166.3 198,164.3 200,162.5 202,160.8 204,159.2 206,157.9 208,156.6 210,155.5 212,154.5 214,153.5 216,152.8 218,152.1 220,151.5 222,151 224,150.6 226,150.3 228,150.1 230,150 232,149.8 234,149.6 236,149.5 238,149.7 240,150.2 242,151 244,152 246,153.1 248,154.2 250,155.3 252,156.4 254,157.3 256,158.1 258,158.6 260,158.9 262,159.1 264,159.3 266,159.6 268,160 270,160.6 272,161.6 274,163 276,164.6 278,166.5 280,168.6 282,170.6 284,172.7 286,174.7 288,176.9 290,179 292,181.3 294,183.5 296,185.8 298,188 300,190.3 302,192.6 304,194.9 306,197.2 308,199.6 310,202.1 312,204.6 314,207.3 316,210.1 318,213.2 320,216.3 322,219.5 324,222.6 326,225.6 328,228.5 330,231.1 332,233.6 334,236 336,238.4 338,240.7 340,243.1 342,245.4 344,247.7 346,250.1 348,252.6 350,255.1 352,257.9 354,260.7 356,263.5 358,266.2 360,268.9 362,271.6 364,274.3 366,277 368,279.7 370,282.4 372,285.1 374,287.7 376,290.4 378,293.1 380,295.7 382,298.4 384,301 386,303.7 388,306.3 390,309 392,311.6 394,314.3 396,316.9 398,319.5 400,322 402,324.5 404,327 406,329.4 408,331.9 410,334.2 412,336.3 414,338 416,339.5 418,340.7 420,341.9 422,343 424,344 426,344.9 428,345.8 430,346.6 432,347.3 434,348.1 436,348.8 438,349.5 440,350.1 442,350.7 444,351.3 446,351.8 448,352.4 450,352.9 452,353.3 454,353.8 456,354.2 458,354.7 460,355.1 462,355.5 464,355.9 466,356.3 468,356.7 470,357.1 472,357.5 474,357.9 476,358.2 478,358.6 480,358.9 482,359.3 484,359.6 486,359.9 488,360.3 490,360.6 492,360.9 494,361.2 496,361.5 498,361.8 500,362.1 502,362.4 504,362.6 506,362.9 508,363.1 510,363.3 512,363.5 514,363.7 516,363.9 518,364.1" stroke="#f0a30a" stroke-opacity="0.38" stroke-width="1.5" fill="none"/>
<path d="M58,404.6 60,404.3 62,404 64,403.7 66,403.4 68,403.1 70,402.8 72,402.4 74,402 76,401.5 78,401 80,400.4 82,399.7 84,398.8 86,397.9 88,396.9 90,395.8 92,394.6 94,393.3 96,391.9 98,390.4 100,388.8 102,387 104,385 106,382.8 108,380.1 110,377 112,373.5 114,369.5 116,365.1 118,360.3 120,355 122,349.3 124,343.3 126,336.7 128,329.9 130,323.3 132,317 134,310.8 136,304.7 138,298.6 140,292.6 142,286.6 144,280.7 146,274.8 148,269.1 150,263.5 152,258 154,252.4 156,246.7 158,241.2 160,236 162,231.2 164,226.7 166,222.4 168,218.2 170,214.1 172,210.2 174,206.4 176,202.8 178,199.2 180,195.7 182,192.2 184,188.8 186,185.5 188,182.4 190,179.4 192,176.7 194,174.2 196,171.8 198,169.5 200,167.5 202,165.6 204,163.8 206,161.9 208,160.2 210,158.5 212,157 214,155.6 216,154.4 218,153.3 220,152.4 222,151.5 224,150.8 226,150.3 228,149.9 230,149.6 232,149.5 234,150 236,151 238,152.6 240,154.6 242,157 244,160.2 246,164 248,167.7 250,171.3 252,175 254,178.8 256,182.7 258,186.8 260,191.3 262,196 264,200.9 266,205.9 268,211.1 270,215.9 272,220.2 274,224.2 276,228.1 278,231.9 280,235.6 282,239.3 284,242.8 286,246.2 288,249.5 290,252.7 292,255.8 294,258.8 296,261.7 298,264.6 300,267.4 302,270.1 304,272.7 306,275.2 308,277.7 310,280.1 312,282.4 314,284.5 316,286.6 318,288.5 320,290.4 322,292.2 324,293.9 326,295.6 328,297.4 330,299.1 332,300.9 334,302.7 336,304.5 338,306.3 340,308.1 342,309.9 344,311.7 346,313.4 348,315.1 350,316.8 352,318.3 354,319.9 356,321.4 358,322.8 360,324.2 362,325.5 364,326.9 366,328.2 368,329.5 370,330.7 372,332 374,333.3 376,334.5 378,335.8 380,337 382,338.2 384,339.4 386,340.5 388,341.6 390,342.7 392,343.7 394,344.6 396,345.6 398,346.4 400,347.3 402,348.1 404,348.9 406,349.7 408,350.4 410,351.2 412,352 414,352.8 416,353.5 418,354.3 420,355 422,355.7 424,356.4 426,357.1 428,357.7 430,358.3 432,358.9 434,359.4 436,360 438,360.5 440,361 442,361.5 444,362 446,362.4 448,362.9 450,363.3 452,363.8 454,364.2 456,364.6 458,365 460,365.4 462,365.8 464,366.1 466,366.5 468,366.8 470,367.2 472,367.5 474,367.9 476,368.2 478,368.5 480,368.8 482,369.1 484,369.4 486,369.6 488,369.9 490,370.2 492,370.5 494,370.7 496,370.9 498,371.2 500,371.4 502,371.6 504,371.9 506,372.1 508,372.3 510,372.5 512,372.7 514,372.9 516,373.1 518,373.3" stroke="#f0a30a" stroke-opacity="0.38" stroke-width="1.5" fill="none"/>
<path d="M58,404.1 60,403.5 62,403 64,402.4 66,401.8 68,401.1 70,400.4 72,399.6 74,398.9 76,398.1 78,397.2 80,396.3 82,395.3 84,394.2 86,393 88,391.7 90,390.3 92,388.7 94,386.9 96,385 98,382.8 100,380.4 102,377.8 104,374.9 106,371.5 108,367.6 110,363.3 112,358.6 114,353.8 116,348.8 118,343.9 120,338.7 122,333.1 124,327.4 126,321.7 128,316 130,310.4 132,305 134,299.6 136,294.5 138,289.4 140,284.6 142,279.8 144,275.2 146,270.7 148,266.3 150,262.1 152,258 154,254 156,250.1 158,246.3 160,242.6 162,239.1 164,235.5 166,232 168,228.5 170,225.1 172,221.6 174,218.2 176,214.8 178,211.4 180,208 182,204.4 184,200.7 186,196.8 188,193.1 190,189.4 192,186.1 194,182.9 196,179.9 198,177.1 200,174.4 202,171.8 204,169.3 206,167 208,164.8 210,162.7 212,160.8 214,159 216,157.3 218,155.8 220,154.5 222,153.3 224,152.3 226,151.4 228,150.6 230,150 232,149.6 234,149.5 236,149.6 238,150.1 240,151 242,152.1 244,153.6 246,155.5 248,157.6 250,160.1 252,162.9 254,166 256,169.2 258,172.6 260,176.2 262,180.1 264,184.1 266,188.4 268,192.8 270,197.2 272,201.4 274,205.5 276,209.5 278,213.5 280,217.5 282,221.4 284,225.4 286,229.3 288,233.1 290,236.9 292,240.6 294,244.2 296,247.7 298,251.1 300,254.5 302,257.7 304,260.9 306,264 308,267 310,269.9 312,272.8 314,275.5 316,278.2 318,280.7 320,283.1 322,285.4 324,287.5 326,289.6 328,291.7 330,293.7 332,295.6 334,297.5 336,299.3 338,301.1 340,302.9 342,304.7 344,306.5 346,308.3 348,310 350,311.7 352,313.4 354,315 356,316.6 358,318.2 360,319.7 362,321.1 364,322.5 366,323.9 368,325.2 370,326.6 372,327.8 374,329.1 376,330.3 378,331.5 380,332.7 382,333.9 384,335.1 386,336.2 388,337.3 390,338.4 392,339.5 394,340.5 396,341.5 398,342.5 400,343.4 402,344.4 404,345.3 406,346.1 408,347 410,347.8 412,348.6 414,349.3 416,350.1 418,350.8 420,351.5 422,352.3 424,352.9 426,353.6 428,354.3 430,354.9 432,355.5 434,356.1 436,356.7 438,357.2 440,357.8 442,358.3 444,358.8 446,359.3 448,359.8 450,360.2 452,360.6 454,361.1 456,361.5 458,361.8 460,362.2 462,362.6 464,362.9 466,363.3 468,363.6 470,364 472,364.3 474,364.6 476,364.9 478,365.2 480,365.5 482,365.8 484,366.1 486,366.3 488,366.6 490,366.9 492,367.1 494,367.3 496,367.6 498,367.8 500,368.1 502,368.3 504,368.5 506,368.7 508,369 510,369.2 512,369.4 514,369.6 516,369.8 518,370" stroke="#f0a30a" stroke-opacity="0.38" stroke-width="1.5" fill="none"/>
<path d="M58,404.8 60,404.5 62,404.3 64,404 66,403.7 68,403.4 70,403.1 72,402.7 74,402.4 76,402 78,401.5 80,401 82,400.4 84,399.7 86,399 88,398.1 90,397.1 92,396 94,394.7 96,393.3 98,391.7 100,390 102,388.1 104,385.9 106,383.4 108,380.5 110,377 112,373 114,368.7 116,364.3 118,359.7 120,354.5 122,348.8 124,343.2 126,337.4 128,331.6 130,326 132,320.6 134,315.2 136,310 138,305 140,300.1 142,295.3 144,290.7 146,286.2 148,281.9 150,277.7 152,273.7 154,269.8 156,265.9 158,262.1 160,258.4 162,254.8 164,251.2 166,247.6 168,244 170,240.4 172,236.8 174,233.2 176,229.6 178,225.9 180,222 182,217.8 184,213.3 186,208.7 188,204.2 190,200 192,196.1 194,192.3 196,188.7 198,185.3 200,182 202,178.9 204,175.9 206,173.1 208,170.5 210,168 212,165.7 214,163.5 216,161.6 218,159.7 220,158 222,156.4 224,155 226,153.7 228,152.5 230,151.5 232,150.6 234,150 236,149.6 238,149.5 240,149.7 242,150.1 244,150.9 246,152 248,153.5 250,155.4 252,157.6 254,160 256,162.6 258,165.5 260,168.6 262,172 264,175.7 266,179.8 268,183.9 270,188 272,192 274,196 276,200 278,204 280,208 282,212 284,216.1 286,220.2 288,224.2 290,228.2 292,232 294,235.7 296,239.4 298,243 300,246.5 302,250 304,253.3 306,256.6 308,260 310,263.2 312,266.5 314,269.6 316,272.5 318,275.3 320,278 322,280.5 324,282.9 326,285.2 328,287.5 330,289.6 332,291.8 334,293.9 336,296 338,298 340,300 342,302 344,304 346,305.9 348,307.8 350,309.7 352,311.4 354,313.2 356,314.9 358,316.5 360,318 362,319.5 364,320.9 366,322.3 368,323.7 370,325 372,326.3 374,327.5 376,328.7 378,329.9 380,331.1 382,332.3 384,333.4 386,334.6 388,335.7 390,336.7 392,337.8 394,338.8 396,339.8 398,340.8 400,341.7 402,342.6 404,343.5 406,344.4 408,345.2 410,346 412,346.8 414,347.6 416,348.3 418,349 420,349.8 422,350.5 424,351.1 426,351.8 428,352.5 430,353.1 432,353.7 434,354.3 436,354.9 438,355.5 440,356 442,356.5 444,357 446,357.5 448,357.9 450,358.4 452,358.8 454,359.2 456,359.6 458,359.9 460,360.3 462,360.6 464,361 466,361.3 468,361.7 470,362 472,362.3 474,362.6 476,362.9 478,363.2 480,363.5 482,363.8 484,364 486,364.3 488,364.5 490,364.8 492,365 494,365.3 496,365.5 498,365.8 500,366 502,366.2 504,366.5 506,366.7 508,367 510,367.2 512,367.4 514,367.6 516,367.8 518,368" stroke="#f0a30a" stroke-opacity="0.38" stroke-width="1.5" fill="none"/>
<path d="M56,405 58,404.9 60,404.6 62,404.3 64,404 66,403.8 68,403.5 70,403.2 72,402.8 74,402.5 76,402 78,401.6 80,401 82,400.3 84,399.6 86,398.7 88,397.8 90,396.8 92,395.7 94,394.6 96,393.3 98,391.9 100,390.4 102,388.7 104,386.8 106,384.6 108,382.1 110,379.1 112,375.7 114,371.8 116,367.5 118,363 120,358.3 122,353.2 124,347.7 126,341.8 128,335.4 130,328.7 132,322.2 134,315.9 136,309.8 138,303.7 140,297.6 142,291.3 144,285.1 146,279 148,273.3 150,267.8 152,262.6 154,257.6 156,252.7 158,247.9 160,243.3 162,238.9 164,234.6 166,230.4 168,226.3 170,222.4 172,218.6 174,215.2 176,211.9 178,208.8 180,205.7 182,202.5 184,199 186,195.5 188,192.1 190,188.7 192,185.6 194,182.6 196,179.7 198,176.8 200,173.9 202,171.2 204,168.5 206,166.1 208,163.7 210,161.5 212,159.4 214,157.5 216,155.8 218,154.2 220,152.9 222,151.8 224,150.9 226,150.3 228,149.9 230,149.6 232,149.5 234,149.6 236,150.2 238,151.2 240,152.7 242,154.6 244,156.8 246,159.4 248,162.2 250,165.1 252,168.1 254,171.2 256,174.2 258,177.2 260,180.1 262,183 264,185.9 266,188.7 268,191.5 270,194.4 272,197.3 274,200.3 276,203.2 278,206.1 280,209 282,211.8 284,214.5 286,217.1 288,219.8 290,222.4 292,225 294,227.6 296,230.2 298,232.7 300,235.2 302,237.5 304,239.8 306,242 308,244.2 310,246.4 312,248.5 314,250.7 316,252.9 318,255.3 320,257.6 322,260 324,262.4 326,264.6 328,266.8 330,268.9 332,270.8 334,272.8 336,274.6 338,276.5 340,278.3 342,280.2 344,282 346,283.8 348,285.7 350,287.6 352,289.6 354,291.6 356,293.6 358,295.6 360,297.5 362,299.5 364,301.4 366,303.3 368,305.2 370,307.1 372,309 374,310.9 376,312.8 378,314.7 380,316.5 382,318.4 384,320.3 386,322.1 388,323.9 390,325.8 392,327.6 394,329.4 396,331.1 398,332.9 400,334.6 402,336.3 404,337.9 406,339.6 408,341.2 410,342.8 412,344.2 414,345.4 416,346.5 418,347.5 420,348.4 422,349.3 424,350.1 426,350.9 428,351.6 430,352.3 432,353 434,353.6 436,354.2 438,354.8 440,355.4 442,356 444,356.5 446,357 448,357.5 450,358 452,358.4 454,358.9 456,359.3 458,359.7 460,360.1 462,360.5 464,360.9 466,361.3 468,361.6 470,362 472,362.4 474,362.8 476,363.1 478,363.5 480,363.8 482,364.2 484,364.5 486,364.8 488,365.1 490,365.4 492,365.7 494,366 496,366.3 498,366.6 500,366.8 502,367 504,367.3 506,367.5 508,367.7 510,367.9 512,368 514,368.2 516,368.4 518,368.5" stroke="#f0a30a" stroke-opacity="0.38" stroke-width="1.5" fill="none"/>
<path d="M56,403.4 58,402.7 60,402 62,401.2 64,400.4 66,399.5 68,398.5 70,397.5 72,396.5 74,395.4 76,394.3 78,393.1 80,391.8 82,390.3 84,388.8 86,387.2 88,385.4 90,383.5 92,381.4 94,379 96,376.3 98,373.4 100,370.2 102,366.8 104,362.7 106,358.1 108,353 110,347.7 112,342.5 114,337.2 116,331.9 118,326.5 120,320.8 122,315.1 124,309.5 126,303.9 128,298.3 130,293 132,287.7 134,282.6 136,277.7 138,272.9 140,268.2 142,263.6 144,259.2 146,254.9 148,250.7 150,246.6 152,242.6 154,238.8 156,235 158,231.4 160,227.8 162,224.4 164,220.9 166,217.5 168,214.1 170,210.8 172,207.6 174,204.3 176,201.1 178,197.9 180,194.6 182,191.3 184,188 186,184.8 188,181.7 190,178.8 192,176.1 194,173.6 196,171.2 198,169 200,166.8 202,164.7 204,162.8 206,160.9 208,159.2 210,157.6 212,156 214,154.7 216,153.4 218,152.4 220,151.6 222,150.9 224,150.2 226,149.8 228,149.5 230,149.5 232,149.8 234,150.4 236,151.4 238,152.7 240,154.5 242,156.6 244,159 246,161.7 248,164.7 250,168.1 252,171.6 254,175.3 256,179.1 258,183.2 260,187.4 262,191.7 264,196.3 266,200.9 268,205.5 270,209.7 272,213.9 274,217.9 276,221.9 278,225.8 280,229.7 282,233.5 284,237.3 286,241.1 288,244.7 290,248.2 292,251.6 294,255 296,258.3 298,261.5 300,264.6 302,267.6 304,270.5 306,273.2 308,275.9 310,278.5 312,281 314,283.4 316,285.6 318,287.8 320,289.8 322,291.8 324,293.8 326,295.6 328,297.4 330,299.2 332,300.9 334,302.6 336,304.3 338,305.9 340,307.6 342,309.2 344,310.8 346,312.4 348,314 350,315.6 352,317.2 354,318.7 356,320.1 358,321.6 360,323 362,324.4 364,325.7 366,327 368,328.3 370,329.6 372,330.8 374,332.1 376,333.3 378,334.5 380,335.6 382,336.8 384,337.9 386,339 388,340.1 390,341.2 392,342.2 394,343.2 396,344.2 398,345.1 400,346 402,346.9 404,347.8 406,348.6 408,349.4 410,350.2 412,351 414,351.7 416,352.5 418,353.2 420,353.9 422,354.5 424,355.2 426,355.8 428,356.5 430,357.1 432,357.6 434,358.2 436,358.8 438,359.3 440,359.8 442,360.3 444,360.8 446,361.3 448,361.7 450,362.2 452,362.6 454,363 456,363.4 458,363.8 460,364.1 462,364.5 464,364.9 466,365.2 468,365.6 470,365.9 472,366.2 474,366.5 476,366.8 478,367.1 480,367.4 482,367.7 484,367.9 486,368.2 488,368.5 490,368.7 492,369 494,369.2 496,369.4 498,369.7 500,369.9 502,370.1 504,370.3 506,370.5 508,370.7 510,370.9 512,371.1 514,371.3 516,371.5 518,371.5" stroke="#f0a30a" stroke-opacity="0.38" stroke-width="1.5" fill="none"/>
<path d="M58,404.7 60,404.5 62,404.3 64,404.1 66,403.8 68,403.5 70,403 72,402.4 74,401.8 76,401.1 78,400.4 80,399.5 82,398.6 84,397.5 86,396.4 88,395.2 90,393.9 92,392.5 94,391 96,389.4 98,387.8 100,386 102,384.1 104,382.1 106,380 108,377.6 110,375 112,372 114,368.4 116,364.3 118,359.8 120,355 122,349.9 124,344.5 126,338.7 128,332.4 130,325.9 132,319.2 134,312.1 136,304.9 138,297.8 140,290.8 142,283.9 144,276.8 146,269.8 148,262.7 150,255.5 152,248.4 154,241.2 156,233.9 158,226.7 160,219.7 162,213.2 164,206.8 166,200.7 168,194.7 170,188.8 172,183 174,177.7 176,172.4 178,167.5 180,163.4 182,160.2 184,157.7 186,155.6 188,154 190,152.6 192,151.7 194,151 196,150.6 198,150.4 200,150.1 202,149.9 204,149.8 206,149.7 208,149.7 210,149.7 212,149.6 214,149.6 216,149.5 218,149.5 220,149.5 222,149.5 224,149.6 226,149.7 228,149.9 230,150.1 232,150.3 234,150.7 236,151.1 238,151.7 240,152.3 242,152.9 244,153.6 246,154.3 248,155 250,155.7 252,156.4 254,157.1 256,157.8 258,158.6 260,159.4 262,160.2 264,161.1 266,162 268,163 270,164.1 272,165.2 274,166.4 276,167.8 278,169.2 280,170.8 282,172.5 284,174.3 286,176.2 288,178 290,179.7 292,181.3 294,182.8 296,184.2 298,185.8 300,187.7 302,189.7 304,191.9 306,194.1 308,196.4 310,198.7 312,201.1 314,203.5 316,206 318,208.5 320,211.2 322,213.9 324,216.6 326,219.3 328,222 330,224.7 332,227.4 334,230.1 336,232.8 338,235.4 340,238.1 342,240.8 344,243.4 346,246.1 348,248.8 350,251.5 352,254.2 354,256.9 356,259.6 358,262.2 360,264.8 362,267.4 364,269.9 366,272.4 368,274.9 370,277.4 372,279.9 374,282.4 376,284.8 378,287.3 380,289.8 382,292.4 384,294.9 386,297.5 388,300.1 390,302.7 392,305.2 394,307.7 396,310.2 398,312.6 400,314.9 402,317.1 404,319.3 406,321.5 408,323.6 410,325.7 412,327.7 414,329.6 416,331.5 418,333.2 420,334.9 422,336.5 424,338 426,339.4 428,340.7 430,342 432,343.1 434,344.2 436,345.1 438,346.1 440,346.9 442,347.7 444,348.5 446,349.2 448,349.9 450,350.5 452,351.1 454,351.7 456,352.3 458,352.9 460,353.4 462,354 464,354.5 466,355 468,355.5 470,355.9 472,356.4 474,356.8 476,357.2 478,357.6 480,357.9 482,358.3 484,358.6 486,358.9 488,359.2 490,359.5 492,359.8 494,360.1 496,360.4 498,360.6 500,360.9 502,361.2 504,361.5 506,361.7 508,362 510,362.2 512,362.4 514,362.6 516,362.8 518,362.9" stroke="#f0a30a" stroke-opacity="0.38" stroke-width="1.5" fill="none"/>
<path d="M56,404.8 58,404.7 60,404.5 62,404.2 64,403.8 66,403.2 68,402.5 70,401.7 72,400.8 74,399.9 76,399 78,398 80,397 82,395.9 84,394.7 86,393.4 88,392.1 90,390.6 92,389 94,387.1 96,385 98,382.6 100,380 102,377.3 104,374.5 106,371.4 108,367.9 110,363.9 112,359.6 114,354.9 116,349.9 118,344.6 120,339 122,333 124,326.6 126,319.8 128,312.8 130,305.8 132,298.9 134,292.1 136,285.2 138,278.3 140,271.5 142,264.7 144,257.7 146,250.5 148,243.1 150,235.7 152,228.2 154,220.7 156,213.6 158,207.3 160,201.5 162,195.6 164,189.5 166,183.3 168,177.6 170,172.1 172,167.1 174,162.5 176,158.6 178,155.1 180,152.5 182,150.7 184,149.6 186,149.5 188,150.3 190,152 192,154.5 194,157.9 196,161.8 198,165.8 200,169.5 202,173 204,176.5 206,179.9 208,182.9 210,185.6 212,187.8 214,189.7 216,191.2 218,192.4 220,193.4 222,194.2 224,194.8 226,195.4 228,195.8 230,196.3 232,196.9 234,197.4 236,198.1 238,199 240,200.1 242,201.4 244,202.9 246,204.8 248,207.1 250,209.6 252,212.6 254,216.2 256,220.1 258,224 260,227.7 262,231.1 264,234.6 266,238 268,241.3 270,244.5 272,247.7 274,250.8 276,253.9 278,256.9 280,259.8 282,262.6 284,265.2 286,267.7 288,270.1 290,272.5 292,274.8 294,277 296,279.1 298,281.2 300,283.2 302,285.1 304,286.9 306,288.6 308,290.3 310,291.9 312,293.5 314,295 316,296.4 318,297.9 320,299.3 322,300.6 324,302 326,303.3 328,304.6 330,305.8 332,307 334,308.2 336,309.3 338,310.5 340,311.6 342,312.7 344,313.7 346,314.8 348,315.8 350,316.8 352,317.8 354,318.8 356,319.8 358,320.8 360,321.8 362,322.8 364,323.8 366,324.8 368,325.7 370,326.7 372,327.6 374,328.6 376,329.5 378,330.4 380,331.3 382,332.2 384,333.2 386,334.1 388,335 390,335.9 392,336.8 394,337.7 396,338.6 398,339.5 400,340.4 402,341.3 404,342.2 406,343.1 408,343.9 410,344.8 412,345.7 414,346.5 416,347.3 418,348.1 420,348.9 422,349.6 424,350.4 426,351.1 428,351.9 430,352.6 432,353.3 434,353.9 436,354.6 438,355.3 440,355.9 442,356.5 444,357.1 446,357.7 448,358.3 450,358.9 452,359.5 454,360 456,360.5 458,361.1 460,361.6 462,362.1 464,362.5 466,363 468,363.5 470,363.9 472,364.3 474,364.7 476,365.1 478,365.5 480,365.9 482,366.3 484,366.7 486,367 488,367.3 490,367.7 492,368 494,368.3 496,368.6 498,369 500,369.3 502,369.6 504,369.9 506,370.2 508,370.5 510,370.8 512,371.1 514,371.4 516,371.7 518,371.9" stroke="#f0a30a" stroke-opacity="0.38" stroke-width="1.5" fill="none"/>
<path d="M56,404.9 58,404.8 60,404.6 62,404.3 64,404 66,403.5 68,403 70,402.4 72,401.8 74,401.1 76,400.4 78,399.6 80,398.8 82,397.9 84,396.8 86,395.7 88,394.5 90,393.2 92,391.8 94,390.2 96,388.3 98,386.3 100,384 102,381.6 104,379 106,376.2 108,373.1 110,369.5 112,365.6 114,361.3 116,356.7 118,351.8 120,346.6 122,341 124,335 126,328.5 128,321.6 130,314.2 132,306.6 134,299.1 136,291.8 138,284.6 140,277.4 142,270.2 144,262.8 146,255.4 148,248.1 150,241.2 152,234.6 154,228.1 156,221.8 158,216 160,210.6 162,205.5 164,200.3 166,195.1 168,190 170,185.2 172,180.6 174,176.3 176,172.5 178,169 180,165.9 182,163.2 184,160.8 186,158.7 188,157.1 190,155.8 192,155 194,154.7 196,154.7 198,154.8 200,154.8 202,154.6 204,154.5 206,154.4 208,154.2 210,153.9 212,153.5 214,152.9 216,152.3 218,151.6 220,151 222,150.5 224,150 226,149.7 228,149.5 230,149.5 232,149.7 234,150.1 236,150.9 238,152.1 240,153.9 242,156 244,158.6 246,161.6 248,165.1 250,168.9 252,173.1 254,177.7 256,182.7 258,187.9 260,193 262,198 264,203 266,207.9 268,212.6 270,217.2 272,221.8 274,226.1 276,230.2 278,234.1 280,237.8 282,241.3 284,244.7 286,248 288,251.1 290,254.1 292,257.1 294,260 296,262.8 298,265.5 300,268.1 302,270.5 304,272.8 306,275 308,277.1 310,279 312,280.9 314,282.7 316,284.4 318,286.1 320,287.8 322,289.4 324,291 326,292.5 328,294.1 330,295.6 332,297.1 334,298.6 336,300 338,301.3 340,302.7 342,304 344,305.3 346,306.6 348,307.9 350,309.2 352,310.4 354,311.6 356,312.9 358,314.1 360,315.3 362,316.5 364,317.7 366,318.9 368,320 370,321.2 372,322.3 374,323.4 376,324.6 378,325.7 380,326.8 382,327.8 384,328.9 386,330 388,331.1 390,332.1 392,333.1 394,334.2 396,335.2 398,336.2 400,337.2 402,338.1 404,339.1 406,340 408,341 410,341.9 412,342.8 414,343.7 416,344.5 418,345.4 420,346.2 422,347 424,347.8 426,348.5 428,349.3 430,350 432,350.7 434,351.4 436,352 438,352.7 440,353.3 442,353.9 444,354.5 446,355.1 448,355.7 450,356.3 452,356.9 454,357.4 456,357.9 458,358.4 460,358.9 462,359.4 464,359.9 466,360.3 468,360.8 470,361.2 472,361.7 474,362.1 476,362.5 478,362.9 480,363.3 482,363.7 484,364.1 486,364.5 488,364.8 490,365.2 492,365.5 494,365.9 496,366.2 498,366.5 500,366.8 502,367 504,367.3 506,367.6 508,367.8 510,368.1 512,368.3 514,368.6 516,368.8 518,369.1" stroke="#f0a30a" stroke-opacity="0.38" stroke-width="1.5" fill="none"/>
<path d="M56,404.9 58,404.7 60,404.5 62,404.2 64,403.9 66,403.5 68,403.1 70,402.6 72,402.1 74,401.6 76,401 78,400.3 80,399.6 82,398.7 84,397.8 86,396.7 88,395.6 90,394.4 92,393.1 94,391.7 96,390.2 98,388.6 100,386.9 102,385.1 104,383 106,380.7 108,378.4 110,375.6 112,372.4 114,368.5 116,364.1 118,359.1 120,353.3 122,346.9 124,339.7 126,331.7 128,323.6 130,315.7 132,308.1 134,300.6 136,293 138,285.4 140,277.8 142,270.2 144,263 146,256 148,249.1 150,241.9 152,234.8 154,227.6 156,219.8 158,211.7 160,204.3 162,197.7 164,191.9 166,186.5 168,181.5 170,176.9 172,172.9 174,169.3 176,166.1 178,163.2 180,160.7 182,158.6 184,156.8 186,155.4 188,154.5 190,153.9 192,153.5 194,153.2 196,153 198,153.3 200,153.2 202,153 204,152.6 206,152.1 208,151.6 210,151.1 212,150.6 214,150.3 216,150 218,149.8 220,149.6 222,149.5 224,149.5 226,149.7 228,149.9 230,150.2 232,150.8 234,152 236,154 238,156.6 240,159.6 242,163.1 244,167.5 246,172.5 248,177.5 250,182.2 252,186.9 254,191.7 256,196.5 258,201.5 260,206.7 262,211.7 264,216.7 266,221.7 268,227.2 270,232.3 272,236.5 274,240.4 276,244.1 278,247.6 280,251 282,254.3 284,257.5 286,260.5 288,263.3 290,266 292,268.6 294,271 296,273.4 298,275.6 300,277.7 302,279.8 304,281.8 306,283.7 308,285.4 310,287.1 312,288.7 314,290.2 316,291.6 318,292.9 320,294.2 322,295.5 324,296.8 326,298.1 328,299.4 330,300.8 332,302.2 334,303.7 336,305.1 338,306.6 340,308.1 342,309.6 344,311.1 346,312.6 348,314.1 350,315.5 352,316.9 354,318.2 356,319.6 358,320.9 360,322.2 362,323.5 364,324.8 366,326.1 368,327.4 370,328.7 372,330 374,331.3 376,332.6 378,333.9 380,335.1 382,336.4 384,337.6 386,338.7 388,339.8 390,340.9 392,341.9 394,342.9 396,343.8 398,344.7 400,345.5 402,346.4 404,347.2 406,348 408,348.9 410,349.7 412,350.5 414,351.4 416,352.2 418,353 420,353.8 422,354.6 424,355.3 426,356 428,356.7 430,357.3 432,357.9 434,358.5 436,359.1 438,359.7 440,360.2 442,360.8 444,361.3 446,361.8 448,362.4 450,362.9 452,363.4 454,363.9 456,364.4 458,364.8 460,365.3 462,365.8 464,366.2 466,366.7 468,367.1 470,367.5 472,367.9 474,368.3 476,368.7 478,369.1 480,369.4 482,369.8 484,370.1 486,370.5 488,370.8 490,371.1 492,371.4 494,371.7 496,372 498,372.2 500,372.5 502,372.8 504,373 506,373.2 508,373.5 510,373.7 512,373.9 514,374.2 516,374.4 518,374.6" stroke="#f0a30a" stroke-opacity="0.38" stroke-width="1.5" fill="none"/>
<path d="M56,405 58,404.7 60,404.4 62,404.1 64,403.8 66,403.5 68,403.2 70,402.9 72,402.5 74,402.1 76,401.6 78,401.1 80,400.5 82,399.8 84,398.9 86,398 88,397 90,395.9 92,394.7 94,393.5 96,392.1 98,390.7 100,389.2 102,387.6 104,385.9 106,384 108,381.8 110,379.1 112,376.1 114,372.5 116,368.3 118,363.6 120,358.5 122,353 124,347.1 126,340.5 128,333.3 130,326 132,319.1 134,312.4 136,305.8 138,299.2 140,292.6 142,285.9 144,279.3 146,272.6 148,266.1 150,259.6 152,253.1 154,246.6 156,240 158,233.3 160,227 162,221.3 164,216 166,211 168,206.3 170,201.7 172,197.5 174,193.4 176,189.6 178,186 180,182.6 182,179.5 184,176.5 186,173.8 188,171.3 190,169 192,166.8 194,164.9 196,163.1 198,161.6 200,160.2 202,159 204,157.8 206,156.6 208,155.4 210,154.2 212,153.2 214,152.3 216,151.5 218,150.9 220,150.4 222,149.9 224,149.6 226,149.5 228,149.6 230,149.6 232,149.8 234,150.4 236,151.8 238,153.8 240,156.4 242,159.4 244,163.1 246,167.7 248,172.5 250,176.9 252,181 254,185.1 256,189.3 258,193.4 260,197.9 262,202.6 264,207.4 266,212.2 268,217.1 270,222.1 272,226.3 274,230 276,233.5 278,237 280,240.3 282,243.6 284,246.6 286,249.5 288,252.2 290,254.9 292,257.4 294,259.9 296,262.4 298,264.8 300,267.1 302,269.3 304,271.5 306,273.6 308,275.6 310,277.6 312,279.4 314,281.1 316,282.7 318,284.4 320,286 322,287.5 324,289.1 326,290.7 328,292.3 330,293.9 332,295.5 334,297.2 336,299 338,300.7 340,302.5 342,304.2 344,306 346,307.7 348,309.4 350,311.1 352,312.7 354,314.3 356,315.9 358,317.5 360,319 362,320.5 364,321.9 366,323.4 368,324.9 370,326.3 372,327.8 374,329.3 376,330.8 378,332.2 380,333.7 382,335.2 384,336.6 386,338 388,339.3 390,340.6 392,341.9 394,343.1 396,344.2 398,345.3 400,346.4 402,347.4 404,348.4 406,349.4 408,350.4 410,351.4 412,352.3 414,353.3 416,354.2 418,355 420,355.8 422,356.6 424,357.4 426,358.1 428,358.7 430,359.4 432,360 434,360.5 436,361.1 438,361.6 440,362.1 442,362.6 444,363.1 446,363.6 448,364.1 450,364.5 452,365 454,365.4 456,365.9 458,366.3 460,366.7 462,367.1 464,367.5 466,367.9 468,368.2 470,368.6 472,369 474,369.3 476,369.7 478,370 480,370.3 482,370.6 484,370.9 486,371.2 488,371.5 490,371.8 492,372.1 494,372.4 496,372.6 498,372.9 500,373.1 502,373.3 504,373.6 506,373.8 508,374 510,374.2 512,374.4 514,374.6 516,374.8 518,375" stroke="#f0a30a" stroke-opacity="0.38" stroke-width="1.5" fill="none"/>
<path d="M56,404.7 58,404.4 60,404.2 62,403.9 64,403.6 66,403.3 68,403 70,402.6 72,402.2 74,401.8 76,401.3 78,400.7 80,400 82,399.2 84,398.3 86,397.3 88,396.2 90,395.1 92,393.9 94,392.6 96,391.3 98,389.8 100,388.3 102,386.6 104,384.7 106,382.4 108,379.7 110,376.6 112,372.9 114,368.6 116,363.8 118,358.7 120,353.2 122,347.3 124,340.8 126,333.7 128,326.5 130,319.7 132,313.2 134,306.7 136,300.3 138,293.8 140,287.3 142,280.8 144,274.3 146,267.9 148,261.5 150,255.1 152,248.8 154,242.3 156,235.9 158,229.7 160,224.1 162,218.8 164,213.8 166,208.9 168,204.3 170,199.9 172,195.8 174,192 176,188.4 178,184.9 180,181.7 182,178.5 184,175.5 186,172.7 188,170.2 190,167.9 192,165.8 194,164 196,162.3 198,160.8 200,159.4 202,158.2 204,156.9 206,155.7 208,154.5 210,153.4 212,152.5 214,151.7 216,151.1 218,150.5 220,150 222,149.7 224,149.5 226,149.5 228,149.5 230,149.6 232,150.1 234,151.1 236,152.6 238,154.7 240,157.1 242,160.2 244,164 246,167.9 248,171.5 250,174.9 252,178.3 254,181.7 256,185 258,188.5 260,192.2 262,195.9 264,199.6 266,203.4 268,207.4 270,210.8 272,213.9 274,216.9 276,220 278,223.1 280,226 282,228.8 284,231.5 286,234.1 288,236.6 290,239.1 292,241.6 294,243.9 296,246.3 298,248.6 300,250.9 302,253.1 304,255.2 306,257.3 308,259.4 310,261.3 312,263.3 314,265.2 316,267.1 318,269.1 320,271 322,273 324,274.9 326,276.8 328,278.7 330,280.6 332,282.4 334,284.3 336,286.2 338,288.1 340,290 342,291.9 344,293.8 346,295.7 348,297.5 350,299.4 352,301.3 354,303.2 356,305 358,306.8 360,308.6 362,310.3 364,312.1 366,313.8 368,315.6 370,317.4 372,319.1 374,320.9 376,322.6 378,324.4 380,326.1 382,327.8 384,329.5 386,331.2 388,332.8 390,334.4 392,335.9 394,337.4 396,338.9 398,340.3 400,341.7 402,343 404,344.3 406,345.7 408,347 410,348.3 412,349.4 414,350.5 416,351.5 418,352.4 420,353.3 422,354.1 424,354.8 426,355.5 428,356.2 430,356.9 432,357.5 434,358.1 436,358.6 438,359.2 440,359.7 442,360.2 444,360.8 446,361.2 448,361.7 450,362.2 452,362.6 454,363 456,363.5 458,363.9 460,364.3 462,364.7 464,365.1 466,365.4 468,365.8 470,366.2 472,366.5 474,366.9 476,367.2 478,367.6 480,367.9 482,368.2 484,368.5 486,368.8 488,369.1 490,369.4 492,369.7 494,369.9 496,370.2 498,370.5 500,370.7 502,370.9 504,371.2 506,371.4 508,371.6 510,371.8 512,372 514,372.2 516,372.4 518,372.4" stroke="#f0a30a" stroke-opacity="0.38" stroke-width="1.5" fill="none"/>
<path d="M56,404 58,403.4 60,402.8 62,402.2 64,401.5 66,400.7 68,399.9 70,399.1 72,398.2 74,397.3 76,396.4 78,395.3 80,394.2 82,392.9 84,391.6 86,390.2 88,388.6 90,386.9 92,385.2 94,383.3 96,381.1 98,378.8 100,376.2 102,373.5 104,370.3 106,366.6 108,362.4 110,357.8 112,352.9 114,347.8 116,342.5 118,337 120,331.6 122,325.9 124,320 126,313.9 128,307.8 130,301.7 132,295.9 134,290.3 136,284.8 138,279.4 140,274 142,268.6 144,263.3 146,258 148,252.7 150,247.4 152,242.2 154,237.1 156,232.1 158,227.3 160,222.6 162,218.1 164,213.6 166,209.3 168,205 170,200.9 172,197 174,193.4 176,190 178,186.7 180,183.6 182,180.4 184,177.3 186,174.3 188,171.5 190,168.9 192,166.7 194,164.7 196,162.9 198,161.2 200,159.7 202,158.2 204,156.9 206,155.7 208,154.6 210,153.5 212,152.6 214,151.7 216,151 218,150.5 220,150 222,149.8 224,149.6 226,149.5 228,149.5 230,149.8 232,150.1 234,150.6 236,151.3 238,152.4 240,153.9 242,155.7 244,157.8 246,160 248,162.4 250,164.9 252,167.3 254,169.8 256,172.2 258,174.5 260,176.7 262,178.9 264,181.1 266,183.3 268,185.5 270,187.8 272,190.1 274,192.6 276,195.2 278,197.9 280,200.6 282,203.3 284,205.9 286,208.5 288,211.1 290,213.7 292,216.2 294,218.8 296,221.3 298,223.8 300,226.3 302,228.7 304,231.1 306,233.4 308,235.7 310,238 312,240.2 314,242.5 316,244.9 318,247.4 320,249.9 322,252.4 324,254.9 326,257.3 328,259.5 330,261.7 332,263.7 334,265.7 336,267.6 338,269.5 340,271.4 342,273.3 344,275.2 346,277.2 348,279.2 350,281.2 352,283.4 354,285.7 356,287.8 358,290 360,292.1 362,294.3 364,296.4 366,298.5 368,300.7 370,302.8 372,304.8 374,306.9 376,309 378,311.1 380,313.1 382,315.2 384,317.3 386,319.3 388,321.3 390,323.4 392,325.4 394,327.4 396,329.3 398,331.2 400,333.1 402,335 404,336.8 406,338.6 408,340.4 410,342.1 412,343.7 414,345 416,346.2 418,347.2 420,348.2 422,349.1 424,350 426,350.8 428,351.5 430,352.2 432,352.9 434,353.6 436,354.2 438,354.8 440,355.4 442,356 444,356.6 446,357.1 448,357.6 450,358 452,358.5 454,359 456,359.4 458,359.8 460,360.2 462,360.6 464,361 466,361.4 468,361.8 470,362.1 472,362.5 474,362.9 476,363.2 478,363.6 480,363.9 482,364.2 484,364.5 486,364.8 488,365.1 490,365.4 492,365.7 494,366 496,366.2 498,366.5 500,366.8 502,367 504,367.2 506,367.5 508,367.7 510,367.9 512,368 514,368.2 516,368.4 518,368.6" stroke="#f0a30a" stroke-opacity="0.38" stroke-width="1.5" fill="none"/>
<path d="M58,405 60,404.6 62,404.3 64,404.1 66,403.8 68,403.5 70,403.1 72,402.8 74,402.4 76,402 78,401.5 80,401 82,400.3 84,399.6 86,398.8 88,397.9 90,396.9 92,395.7 94,394.5 96,393.1 98,391.6 100,389.9 102,388 104,385.8 106,383.5 108,380.8 110,377.8 112,374.4 114,370.7 116,366.8 118,362.7 120,358.2 122,353.3 124,348.2 126,342.7 128,336.7 130,330.3 132,323.8 134,317.7 136,311.7 138,305.8 140,299.9 142,294 144,288 146,282.3 148,277.2 150,272.6 152,268.3 154,264.2 156,260.2 158,256.4 160,252.7 162,249.2 164,245.7 166,242.4 168,239 170,235.8 172,232.6 174,229.5 176,226.6 178,223.7 180,220.6 182,217.4 184,213.9 186,210.2 188,206.5 190,202.8 192,199.1 194,195.4 196,191.7 198,188 200,184.3 202,180.6 204,177.2 206,173.8 208,170.6 210,167.5 212,164.6 214,161.9 216,159.5 218,157.2 220,155.2 222,153.6 224,152.2 226,151.1 228,150.3 230,149.8 232,149.5 234,149.7 236,150.3 238,151.6 240,153.4 242,155.6 244,158.3 246,161.4 248,165 250,168.9 252,173 254,177.4 256,182 258,186.6 260,191.4 262,196.4 264,201.4 266,206.3 268,211.2 270,216 272,220.7 274,225.1 276,229.2 278,233.2 280,236.9 282,240.6 284,244.2 286,247.7 288,251.2 290,254.5 292,257.8 294,261 296,264.1 298,267.1 300,270 302,272.7 304,275.3 306,277.8 308,280.2 310,282.4 312,284.6 314,286.8 316,288.8 318,290.8 320,292.7 322,294.5 324,296.3 326,298.1 328,299.8 330,301.5 332,303.2 334,304.8 336,306.4 338,308 340,309.5 342,311 344,312.5 346,314 348,315.5 350,316.9 352,318.3 354,319.7 356,321.1 358,322.4 360,323.7 362,325 364,326.2 366,327.4 368,328.6 370,329.8 372,331 374,332.1 376,333.3 378,334.4 380,335.5 382,336.6 384,337.7 386,338.7 388,339.8 390,340.8 392,341.8 394,342.8 396,343.7 398,344.6 400,345.5 402,346.4 404,347.3 406,348.1 408,348.9 410,349.7 412,350.5 414,351.2 416,352 418,352.7 420,353.4 422,354.1 424,354.7 426,355.3 428,356 430,356.6 432,357.1 434,357.7 436,358.2 438,358.8 440,359.3 442,359.8 444,360.3 446,360.8 448,361.2 450,361.7 452,362.1 454,362.5 456,362.9 458,363.3 460,363.7 462,364 464,364.4 466,364.8 468,365.1 470,365.5 472,365.8 474,366.2 476,366.5 478,366.8 480,367.1 482,367.4 484,367.8 486,368.1 488,368.3 490,368.6 492,368.9 494,369.2 496,369.4 498,369.6 500,369.9 502,370.1 504,370.3 506,370.5 508,370.6 510,370.8 512,371 514,371.2 516,371.3 518,371.5" stroke="#f0a30a" stroke-opacity="0.38" stroke-width="1.5" fill="none"/>
<path d="M56,405 58,405 60,404.7 62,404.4 64,404.2 66,403.9 68,403.6 70,403.3 72,402.9 74,402.6 76,402.2 78,401.8 80,401.3 82,400.7 84,400 86,399.3 88,398.4 90,397.5 92,396.4 94,395.2 96,393.9 98,392.4 100,390.8 102,389 104,387 106,384.7 108,382.1 110,379.1 112,375.6 114,371.8 116,367.8 118,363.5 120,359 122,354 124,348.7 126,343.2 128,337.4 130,331.4 132,325.3 134,319.4 136,313.7 138,308.1 140,302.6 142,297.1 144,291.7 146,286.4 148,281.4 150,276.8 152,272.5 154,268.4 156,264.4 158,260.5 160,256.8 162,253.2 164,249.6 166,246.1 168,242.7 170,239.2 172,235.8 174,232.5 176,229.3 178,226 180,222.7 182,219.2 184,215.4 186,211.4 188,207.3 190,203.3 192,199.4 194,195.6 196,192 198,188.3 200,184.8 202,181.3 204,177.9 206,174.8 208,171.7 210,168.8 212,166.1 214,163.5 216,161.1 218,159 220,157 222,155.3 224,153.7 226,152.5 228,151.4 230,150.5 232,149.9 234,149.5 236,149.5 238,150 240,150.9 242,152.2 244,153.8 246,155.9 248,158.4 250,161.2 252,164.4 254,167.9 256,171.5 258,175.3 260,179.3 262,183.5 264,187.9 266,192.4 268,196.9 270,201.5 272,205.9 274,210.3 276,214.4 278,218.4 280,222.4 282,226.2 284,230 286,233.8 288,237.5 290,241.2 292,244.8 294,248.2 296,251.6 298,255 300,258.2 302,261.3 304,264.3 306,267.1 308,269.9 310,272.7 312,275.4 314,278 316,280.5 318,282.8 320,285.1 322,287.3 324,289.4 326,291.4 328,293.4 330,295.3 332,297.2 334,299.1 336,300.9 338,302.7 340,304.4 342,306.2 344,307.9 346,309.6 348,311.3 350,312.9 352,314.5 354,316 356,317.5 358,319 360,320.4 362,321.8 364,323.2 366,324.5 368,325.8 370,327 372,328.2 374,329.5 376,330.6 378,331.8 380,333 382,334.1 384,335.2 386,336.3 388,337.4 390,338.4 392,339.5 394,340.5 396,341.5 398,342.4 400,343.3 402,344.3 404,345.1 406,346 408,346.8 410,347.6 412,348.4 414,349.2 416,350 418,350.7 420,351.4 422,352.1 424,352.8 426,353.4 428,354.1 430,354.7 432,355.3 434,355.9 436,356.5 438,357 440,357.6 442,358.1 444,358.6 446,359.1 448,359.5 450,360 452,360.4 454,360.8 456,361.2 458,361.6 460,362 462,362.3 464,362.7 466,363.1 468,363.4 470,363.7 472,364.1 474,364.4 476,364.7 478,365.1 480,365.4 482,365.7 484,366 486,366.2 488,366.5 490,366.8 492,367.1 494,367.3 496,367.6 498,367.8 500,368 502,368.3 504,368.5 506,368.7 508,368.9 510,369.1 512,369.3 514,369.5 516,369.7 518,369.9" stroke="#f0a30a" stroke-opacity="0.38" stroke-width="1.5" fill="none"/>
<path d="M58,403.2 60,402.4 62,401.5 64,400.6 66,399.6 68,398.5 70,397.3 72,396.1 74,394.8 76,393.5 78,392.1 80,390.6 82,389.1 84,387.4 86,385.6 88,383.7 90,381.7 92,379.5 94,377.2 96,374.7 98,371.8 100,368.6 102,365.1 104,361.5 106,357.2 108,352.3 110,346.8 112,341.1 114,335.4 116,329.8 118,324.1 120,318.4 122,312.7 124,307 126,301.3 128,295.6 130,289.8 132,284.2 134,278.7 136,273.5 138,268.3 140,263.3 142,258.3 144,253.4 146,248.6 148,243.9 150,239.1 152,234.5 154,229.9 156,225.4 158,221.1 160,216.9 162,212.8 164,208.9 166,205 168,201.3 170,197.6 172,194 174,190.6 176,187.3 178,184.2 180,181.2 182,178.4 184,175.7 186,173 188,170.6 190,168.3 192,166.2 194,164.2 196,162.5 198,161 200,159.6 202,158.2 204,157 206,155.8 208,154.7 210,153.7 212,152.7 214,151.9 216,151.1 218,150.4 220,149.9 222,149.6 224,149.5 226,149.5 228,149.5 230,149.8 232,150.3 234,151.1 236,152.1 238,153.4 240,155.1 242,157.3 244,159.9 246,162.8 248,165.9 250,169.2 252,172.6 254,176.2 256,179.8 258,183.4 260,187.1 262,190.8 264,194.4 266,198 268,201.7 270,205.4 272,208.8 274,212.2 276,215.5 278,218.8 280,222 282,225.2 284,228.4 286,231.5 288,234.5 290,237.4 292,240.3 294,243.1 296,245.8 298,248.6 300,251.2 302,253.9 304,256.4 306,258.8 308,261.1 310,263.3 312,265.4 314,267.5 316,269.5 318,271.5 320,273.5 322,275.5 324,277.6 326,279.5 328,281.5 330,283.3 332,285 334,286.7 336,288.3 338,289.9 340,291.5 342,293.1 344,294.7 346,296.3 348,297.9 350,299.5 352,301.2 354,303 356,304.7 358,306.5 360,308.2 362,309.9 364,311.6 366,313.3 368,315 370,316.7 372,318.4 374,320 376,321.6 378,323.3 380,324.9 382,326.5 384,328.1 386,329.7 388,331.3 390,332.9 392,334.4 394,335.9 396,337.4 398,338.9 400,340.3 402,341.7 404,343.1 406,344.4 408,345.7 410,347 412,348.3 414,349.4 416,350.4 418,351.4 420,352.3 422,353.1 424,353.9 426,354.6 428,355.3 430,356 432,356.7 434,357.3 436,357.9 438,358.5 440,359 442,359.6 444,360.1 446,360.6 448,361.1 450,361.6 452,362.1 454,362.5 456,363 458,363.4 460,363.8 462,364.2 464,364.6 466,365 468,365.3 470,365.7 472,366.1 474,366.4 476,366.7 478,367.1 480,367.4 482,367.7 484,368 486,368.3 488,368.6 490,368.9 492,369.1 494,369.4 496,369.7 498,369.9 500,370.2 502,370.4 504,370.6 506,370.8 508,371 510,371.2 512,371.4 514,371.5 516,371.7 518,371.9" stroke="#f0a30a" stroke-opacity="0.38" stroke-width="1.5" fill="none"/>
<path d="M56,405.3 58,405.3 60,405.2 62,405 64,404.7 66,404.2 68,403.7 70,403 72,402.4 74,401.7 76,400.9 78,400.1 80,399.3 82,398.5 84,397.5 86,396.5 88,395.4 90,394.2 92,393 94,391.7 96,390.2 98,388.6 100,386.9 102,385 104,382.5 106,380 108,377.9 110,375.9 112,373 114,369.5 116,365.5 118,360.7 120,354.6 122,347.3 124,339 126,330 128,321.5 130,313 132,304.5 134,296 136,287.5 138,279 140,270.4 142,261.9 144,254.4 146,247.7 148,241 150,233.5 152,225.7 154,218.3 156,209.3 158,198.8 160,189.5 162,181.2 164,174.4 166,168.5 168,163.2 170,158.7 172,155.4 174,152.9 176,151.2 178,150 180,149.5 182,149.5 184,150.1 186,151.5 188,153.7 190,156.5 192,159.5 194,162.7 196,166 198,170 200,172.7 202,174.3 204,175.7 206,176.8 208,177.9 210,179 212,179.9 214,180.6 216,181.3 218,181.9 220,182.5 222,183 224,183.4 226,183.8 228,184.3 230,185 232,185.8 234,187 236,188.6 238,190.5 240,192.8 242,195.4 244,198.2 246,201.5 248,205.2 250,209.2 252,213.4 254,217.8 256,222.3 258,226.7 260,230.7 262,233.9 264,236.5 266,239.7 268,243.5 270,247.3 272,250.6 274,253.7 276,256.5 278,259.2 280,262 282,264.8 284,267.6 286,270.3 288,272.9 290,275.3 292,277.5 294,279.5 296,281.3 298,283 300,284.5 302,286 304,287.4 306,288.7 308,290 310,291.3 312,292.5 314,293.7 316,294.8 318,296 320,297.2 322,298.3 324,299.4 326,300.4 328,301.4 330,302.4 332,303.4 334,304.3 336,305.2 338,306.2 340,307.1 342,308.1 344,309.1 346,310.1 348,311.1 350,312.2 352,313.3 354,314.4 356,315.6 358,316.8 360,318 362,319.2 364,320.4 366,321.6 368,322.8 370,324.1 372,325.3 374,326.5 376,327.7 378,328.9 380,330 382,331.1 384,332.2 386,333.2 388,334.2 390,335.2 392,336.2 394,337.2 396,338.1 398,339 400,340 402,340.9 404,341.9 406,342.8 408,343.8 410,344.7 412,345.6 414,346.5 416,347.3 418,348.2 420,349 422,349.8 424,350.5 426,351.3 428,352 430,352.7 432,353.4 434,354 436,354.7 438,355.3 440,356 442,356.6 444,357.3 446,357.9 448,358.5 450,359.1 452,359.7 454,360.3 456,360.9 458,361.4 460,362 462,362.5 464,363.1 466,363.6 468,364.1 470,364.7 472,365.1 474,365.6 476,366.1 478,366.6 480,367 482,367.4 484,367.8 486,368.2 488,368.5 490,368.9 492,369.2 494,369.5 496,369.9 498,370.2 500,370.5 502,370.8 504,371.1 506,371.4 508,371.7 510,372 512,372.2 514,372.5 516,372.8 518,373" stroke="#f0a30a" stroke-opacity="1" stroke-width="2.2" fill="none"/>
</g>
<line x1="124.00" y1="2.20" x2="124.00" y2="418.20" stroke="#000" stroke-width="2" stroke-dasharray="6.4 3.555" stroke-dashoffset="8.755"/><text x="129.60" y="415.8" font-size="16.2">a'</text><line x1="183.00" y1="2.20" x2="183.00" y2="418.20" stroke="#000" stroke-width="2" stroke-dasharray="6.4 3.555" stroke-dashoffset="8.755"/><text x="188.60" y="415.8" font-size="16.2">b'</text><line x1="265.40" y1="2.20" x2="265.40" y2="418.20" stroke="#000" stroke-width="2" stroke-dasharray="6.4 3.555" stroke-dashoffset="8.755"/><text x="271.00" y="415.8" font-size="16.2">c'</text>
<rect x="28.8" y="2.2" width="488.80" height="416.00" fill="none" stroke="#222" stroke-width="1.4"/>
<line x1="41.20" y1="418.20" x2="41.20" y2="422.40" stroke="#222" stroke-width="1.3"/><text x="41.20" y="438.9" text-anchor="middle" font-size="15.9" textLength="35.4" lengthAdjust="spacingAndGlyphs">1562</text><line x1="105.64" y1="418.20" x2="105.64" y2="422.40" stroke="#222" stroke-width="1.3"/><text x="105.64" y="438.9" text-anchor="middle" font-size="15.9" textLength="35.4" lengthAdjust="spacingAndGlyphs">1565</text><line x1="170.08" y1="418.20" x2="170.08" y2="422.40" stroke="#222" stroke-width="1.3"/><text x="170.08" y="438.9" text-anchor="middle" font-size="15.9" textLength="35.4" lengthAdjust="spacingAndGlyphs">1567</text><line x1="234.52" y1="418.20" x2="234.52" y2="422.40" stroke="#222" stroke-width="1.3"/><text x="234.52" y="438.9" text-anchor="middle" font-size="15.9" textLength="35.4" lengthAdjust="spacingAndGlyphs">1570</text><line x1="298.96" y1="418.20" x2="298.96" y2="422.40" stroke="#222" stroke-width="1.3"/><text x="298.96" y="438.9" text-anchor="middle" font-size="15.9" textLength="35.4" lengthAdjust="spacingAndGlyphs">1572</text><line x1="363.40" y1="418.20" x2="363.40" y2="422.40" stroke="#222" stroke-width="1.3"/><text x="363.40" y="438.9" text-anchor="middle" font-size="15.9" textLength="35.4" lengthAdjust="spacingAndGlyphs">1575</text><line x1="427.84" y1="418.20" x2="427.84" y2="422.40" stroke="#222" stroke-width="1.3"/><text x="427.84" y="438.9" text-anchor="middle" font-size="15.9" textLength="35.4" lengthAdjust="spacingAndGlyphs">1577</text><line x1="492.28" y1="418.20" x2="492.28" y2="422.40" stroke="#222" stroke-width="1.3"/><text x="492.28" y="438.9" text-anchor="middle" font-size="15.9" textLength="35.4" lengthAdjust="spacingAndGlyphs">1580</text>
<text x="272.6" y="463.7" text-anchor="middle" font-size="21.2" textLength="127.5" lengthAdjust="spacingAndGlyphs">Energy / eV</text>
<text transform="translate(19.0,209.3) rotate(-90)" text-anchor="middle" font-size="21.8" textLength="227" lengthAdjust="spacingAndGlyphs">Intensity / arb. units</text>
<g class="lg">
<rect x="376.3" y="8.6" width="135.6" height="105.8" rx="3" ry="3" fill="#fff" fill-opacity="1" stroke="#d4d4d4" stroke-width="1"/>
<line x1="380.5" y1="18.1" x2="407.1" y2="18.1" stroke="#000" stroke-width="2"/>
<line x1="380.5" y1="36.9" x2="407.1" y2="36.9" stroke="#1f6e8c" stroke-width="2"/>
<line x1="380.5" y1="63.2" x2="407.1" y2="63.2" stroke="#3b1e6e" stroke-width="2"/>
<line x1="380.5" y1="96.6" x2="407.1" y2="96.6" stroke="#f0a30a" stroke-width="2"/>
<text x="417.3" y="22.9" font-size="12.6" textLength="30.4" lengthAdjust="spacingAndGlyphs">Expt.</text>
<text x="417.3" y="41.0" font-size="12.6" textLength="56" lengthAdjust="spacingAndGlyphs">DFT Total</text>
<text x="417.3" y="59.7" font-size="12.6" textLength="46.8" lengthAdjust="spacingAndGlyphs">DFT MC</text>
<text x="417.3" y="73.9" font-size="12.6" textLength="83.6" lengthAdjust="spacingAndGlyphs">Sampling AlO</text>
<text x="501.9" y="76.1" font-size="9.2" textLength="4.6" lengthAdjust="spacingAndGlyphs">4</text>
<text x="417.3" y="92.9" font-size="12.6" textLength="46.8" lengthAdjust="spacingAndGlyphs">DFT MC</text>
<text x="417.3" y="106.6" font-size="12.6" textLength="83.6" lengthAdjust="spacingAndGlyphs">Sampling AlO</text>
<text x="501.9" y="109.3" font-size="9.4" textLength="4.8" lengthAdjust="spacingAndGlyphs">6</text>
</g>
</svg>
</body></html>
